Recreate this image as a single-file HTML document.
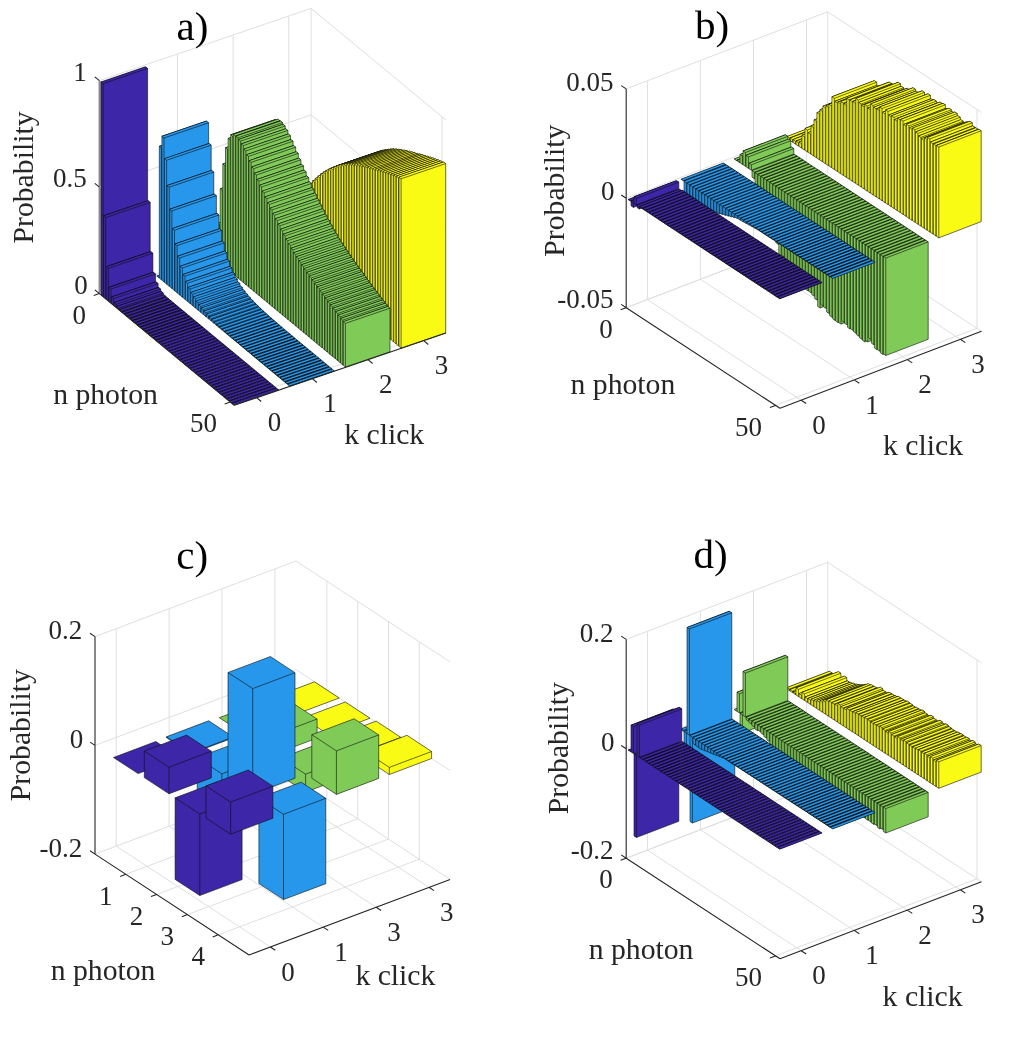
<!DOCTYPE html>
<html><head><meta charset="utf-8"><title>figure</title>
<style>
html,body{margin:0;padding:0;background:#fff}
svg{display:block}
text{font-family:"Liberation Serif",serif;fill:#262626}
.t{font-size:27px}
.l{font-size:29.7px}
.h{font-size:41px;fill:#000}
.g{stroke:#dfdfdf;stroke-width:1;fill:none}
.a{stroke:#262626;stroke-width:1.1;fill:none}
path[class^=c]{stroke:#0d0d0d;stroke-width:.6;stroke-linejoin:round}
.u{fill:#000;stroke:none}
.c0{fill:#3e26a8}.c1{fill:#2797eb}.c2{fill:#80cb58}.c3{fill:#f9fb15}
</style></head><body>
<svg width="1025" height="1038" viewBox="0 0 1025 1038">
<rect width="1025" height="1038" fill="#fff"/>
<path d="M99.7,80.8V293.6" stroke="#8c8c8c" stroke-width="2.3" fill="none"/>
<path class="g" d="M121.7,286L121.7,73M177.4,267L177.4,54M233.1,248L233.1,35M288.8,229L288.8,16M99.4,293.6L311.1,221.4M99.4,187.1L311.1,114.9M99.4,80.6L311.1,8.4M311.1,221.4L311.1,8.4M442,329.8L442,116.8M311.1,221.4L446,333.1M311.1,114.9L446,226.6M311.1,8.4L446,120.1M121.7,286L256.6,397.7M177.4,267L312.3,378.7M233.1,248L368,359.7M288.8,229L423.7,340.7M99.4,293.6L311.1,221.4M230.4,402L442,329.8"/>
<path class="u" d="M268.1,237.9L270.4,239.9 315,224.7 312.6,222.7Z"/>
<path class="c3" d="M268.1,237.9L270.2,239.6 314.7,224.4 312.6,222.7Z"/>
<path class="u" d="M212.4,256.9L214.7,258.9 259.3,243.7 256.9,241.7Z"/>
<path class="c2" d="M212.4,256.9L214.5,258.6 259,243.4 256.9,241.7Z"/>
<path class="u" d="M156.7,275.9L159,277.9 203.6,262.7 201.2,260.7Z"/>
<path class="c1" d="M156.7,275.9L158.8,277.6 203.3,262.4 201.2,260.7Z"/>
<path class="u" d="M101,81.9L103.3,83.9 147.9,68.7 145.5,66.7Z"/>
<path class="c0" d="M101,81.9L103.1,83.6 147.6,68.4 145.5,66.7ZM101,81.9L101,294.9 103.1,296.6 147.6,281.4 147.6,68.4M103.1,83.6L103.1,296.6"/>
<path class="u" d="M270.4,239.9L273,242 317.6,226.8 315,224.7Z"/>
<path class="c3" d="M270.7,240.1L272.8,241.8 317.3,226.6 315.3,224.9Z"/>
<path class="u" d="M214.7,258.9L217.3,261 261.9,245.8 259.3,243.7Z"/>
<path class="c2" d="M215,259.1L217.1,260.8 261.6,245.6 259.6,243.9Z"/>
<path class="u" d="M159,146.1L161.6,148.3 206.2,133.1 203.6,130.9Z"/>
<path class="c1" d="M159.3,146.3L161.4,148 205.9,132.8 203.9,131.1ZM159.3,146.3L159.3,278.1 161.4,279.8 205.9,264.6 205.9,132.8M161.4,148L161.4,279.8"/>
<path class="u" d="M103.3,215.6L105.9,217.8 150.5,202.6 147.9,200.4Z"/>
<path class="c0" d="M103.6,215.8L105.7,217.6 150.2,202.4 148.2,200.6ZM103.6,215.8L103.6,297.1 105.7,298.8 150.2,283.6 150.2,202.4M105.7,217.6L105.7,298.8"/>
<path class="u" d="M273,242L275.7,244.2 320.2,229 317.6,226.8Z"/>
<path class="c3" d="M273.3,242.2L275.4,244 320,228.8 317.9,227Z"/>
<path class="u" d="M217.3,223L220,225.2 264.5,210 261.9,207.8Z"/>
<path class="c2" d="M217.6,223.2L219.7,225 264.3,209.8 262.2,208ZM217.6,223.2L217.6,261.2 219.7,263 264.3,247.8 264.3,209.8M219.7,225L219.7,263"/>
<path class="u" d="M161.6,136L164.3,138.2 208.8,123 206.2,120.8Z"/>
<path class="c1" d="M161.9,136.2L164,138 208.6,122.8 206.5,121ZM161.9,136.2L161.9,280.2 164,282 208.6,266.8 208.6,122.8M164,138L164,282"/>
<path class="u" d="M105.9,266.4L108.6,268.6 153.1,253.4 150.5,251.2Z"/>
<path class="c0" d="M106.2,266.7L108.3,268.4 152.9,253.2 150.8,251.5ZM106.2,266.7L106.2,299.2 108.3,301 152.9,285.8 152.9,253.2M108.3,268.4L108.3,301"/>
<path class="u" d="M275.7,241.4L278.3,243.6 322.8,228.4 320.2,226.2Z"/>
<path class="c3" d="M275.9,241.6L278,243.3 322.6,228.1 320.5,226.4ZM275.9,241.6L275.9,244.4 278,246.1 322.6,230.9 322.6,228.1M278,243.3L278,246.1"/>
<path class="u" d="M220,188.6L222.6,190.8 267.1,175.6 264.5,173.4Z"/>
<path class="c2" d="M220.2,188.8L222.3,190.6 266.9,175.4 264.8,173.6ZM220.2,188.8L220.2,263.4 222.3,265.1 266.9,249.9 266.9,175.4M222.3,190.6L222.3,265.1"/>
<path class="u" d="M164.3,158.4L166.9,160.5 211.4,145.3 208.8,143.2Z"/>
<path class="c1" d="M164.5,158.6L166.6,160.3 211.2,145.1 209.1,143.4ZM164.5,158.6L164.5,282.4 166.6,284.1 211.2,268.9 211.2,145.1M166.6,160.3L166.6,284.1"/>
<path class="u" d="M108.6,287.1L111.2,289.3 155.7,274.1 153.1,271.9Z"/>
<path class="c0" d="M108.8,287.4L110.9,289.1 155.5,273.9 153.4,272.2ZM108.8,287.4L108.8,301.4 110.9,303.1 155.5,287.9 155.5,273.9M110.9,289.1L110.9,303.1"/>
<path class="u" d="M278.3,238.6L280.9,240.8 325.5,225.6 322.8,223.4Z"/>
<path class="c3" d="M278.5,238.8L280.6,240.6 325.2,225.4 323.1,223.6ZM278.5,238.8L278.5,246.6 280.6,248.3 325.2,233.1 325.2,225.4M280.6,240.6L280.6,248.3"/>
<path class="u" d="M222.6,163.7L225.2,165.9 269.8,150.7 267.1,148.5Z"/>
<path class="c2" d="M222.8,163.9L224.9,165.7 269.5,150.5 267.4,148.7ZM222.8,163.9L222.8,265.6 224.9,267.3 269.5,252.1 269.5,150.5M224.9,165.7L224.9,267.3"/>
<path class="u" d="M166.9,185.3L169.5,187.4 214.1,172.2 211.4,170.1Z"/>
<path class="c1" d="M167.1,185.5L169.2,187.2 213.8,172 211.7,170.3ZM167.1,185.5L167.1,284.6 169.2,286.3 213.8,271.1 213.8,172M169.2,187.2L169.2,286.3"/>
<path class="u" d="M111.2,296.8L113.8,298.9 158.4,283.7 155.7,281.6Z"/>
<path class="c0" d="M111.4,297L113.5,298.7 158.1,283.5 156,281.8ZM111.4,297L111.4,303.6 113.5,305.3 158.1,290.1 158.1,283.5M113.5,298.7L113.5,305.3"/>
<path class="u" d="M280.9,234.7L283.5,236.9 328.1,221.7 325.5,219.5Z"/>
<path class="c3" d="M281.2,234.9L283.3,236.6 327.8,221.4 325.7,219.7ZM281.2,234.9L281.2,248.7 283.3,250.5 327.8,235.3 327.8,221.4M283.3,236.6L283.3,250.5"/>
<path class="u" d="M225.2,147.6L227.8,149.8 272.4,134.6 269.8,132.4Z"/>
<path class="c2" d="M225.5,147.8L227.6,149.6 272.1,134.4 270,132.6ZM225.5,147.8L225.5,267.7 227.6,269.5 272.1,254.3 272.1,134.4M227.6,149.6L227.6,269.5"/>
<path class="u" d="M169.5,209L172.1,211.2 216.7,196 214.1,193.8Z"/>
<path class="c1" d="M169.8,209.2L171.9,210.9 216.4,195.7 214.3,194ZM169.8,209.2L169.8,286.7 171.9,288.5 216.4,273.3 216.4,195.7M171.9,210.9L171.9,288.5"/>
<path class="u" d="M113.8,302.3L116.4,304.5 161,289.3 158.4,287.1Z"/>
<path class="c0" d="M114.1,302.6L116.2,304.3 160.7,289.1 158.6,287.4ZM114.1,302.6L114.1,305.7 116.2,307.5 160.7,292.3 160.7,289.1M116.2,304.3L116.2,307.5"/>
<path class="u" d="M283.5,230.3L286.1,232.4 330.7,217.2 328.1,215.1Z"/>
<path class="c3" d="M283.8,230.5L285.9,232.2 330.4,217 328.3,215.3ZM283.8,230.5L283.8,250.9 285.9,252.7 330.4,237.5 330.4,217M285.9,232.2L285.9,252.7"/>
<path class="u" d="M227.8,138.2L230.4,140.4 275,125.2 272.4,123Z"/>
<path class="c2" d="M228.1,138.4L230.2,140.2 274.7,125 272.6,123.2ZM228.1,138.4L228.1,269.9 230.2,271.7 274.7,256.5 274.7,125M230.2,140.2L230.2,271.7"/>
<path class="u" d="M172.1,228.3L174.7,230.4 219.3,215.2 216.7,213.1Z"/>
<path class="c1" d="M172.4,228.5L174.5,230.2 219,215 216.9,213.3ZM172.4,228.5L172.4,288.9 174.5,290.7 219,275.5 219,215M174.5,230.2L174.5,290.7"/>
<path class="u" d="M116.4,306.2L119,308.4 163.6,293.2 161,291Z"/>
<path class="c0" d="M116.7,306.4L118.8,308.2 163.3,293 161.2,291.2ZM116.7,306.4L116.7,307.9 118.8,309.7 163.3,294.5 163.3,293M118.8,308.2L118.8,309.7"/>
<path class="u" d="M286.1,224.7L288.8,226.8 333.3,211.6 330.7,209.5Z"/>
<path class="c3" d="M286.4,224.9L288.5,226.6 333.1,211.4 331,209.7ZM286.4,224.9L286.4,253.1 288.5,254.8 333.1,239.6 333.1,211.4M288.5,226.6L288.5,254.8"/>
<path class="u" d="M230.4,134.5L233.1,136.7 277.6,121.5 275,119.3Z"/>
<path class="c2" d="M230.7,134.7L232.8,136.5 277.4,121.3 275.3,119.5ZM230.7,134.7L230.7,272.1 232.8,273.8 277.4,258.6 277.4,121.3M232.8,136.5L232.8,273.8"/>
<path class="u" d="M174.7,243.7L177.4,245.8 221.9,230.6 219.3,228.5Z"/>
<path class="c1" d="M175,243.9L177.1,245.6 221.7,230.4 219.6,228.7ZM175,243.9L175,291.1 177.1,292.8 221.7,277.6 221.7,230.4M177.1,245.6L177.1,292.8"/>
<path class="u" d="M119,309.6L121.7,311.8 166.2,296.6 163.6,294.4Z"/>
<path class="c0" d="M119.3,309.8L121.4,311.6 166,296.4 163.9,294.6ZM119.3,309.8L119.3,310.1 121.4,311.8 166,296.6 166,296.4M121.4,311.6L121.4,311.8"/>
<path class="u" d="M288.8,219.1L291.4,221.3 335.9,206.1 333.3,203.9Z"/>
<path class="c3" d="M289,219.4L291.1,221.1 335.7,205.9 333.6,204.2ZM289,219.4L289,255.3 291.1,257 335.7,241.8 335.7,205.9M291.1,221.1L291.1,257"/>
<path class="u" d="M233.1,134.1L235.7,136.2 280.2,121 277.6,118.9Z"/>
<path class="c2" d="M233.3,134.3L235.4,136 280,120.8 277.9,119.1ZM233.3,134.3L233.3,274.3 235.4,276 280,260.8 280,120.8M235.4,136L235.4,276"/>
<path class="u" d="M177.4,256L180,258.2 224.5,243 221.9,240.8Z"/>
<path class="c1" d="M177.6,256.2L179.7,258 224.3,242.8 222.2,241ZM177.6,256.2L177.6,293.3 179.7,295 224.3,279.8 224.3,242.8M179.7,258L179.7,295"/>
<path class="u" d="M121.7,311.9L124.3,314.1 168.8,298.9 166.2,296.7Z"/>
<path class="c0" d="M121.9,312.2L124,313.9 168.6,298.7 166.5,297ZM121.9,312.2L121.9,312.3 124,314 168.6,298.8 168.6,298.7M124,313.9L124,314"/>
<path class="u" d="M291.4,213.8L294,216 338.6,200.8 335.9,198.6Z"/>
<path class="c3" d="M291.6,214L293.7,215.7 338.3,200.5 336.2,198.8ZM291.6,214L291.6,257.4 293.7,259.2 338.3,244 338.3,200.5M293.7,215.7L293.7,259.2"/>
<path class="u" d="M235.7,135.8L238.3,138 282.9,122.8 280.2,120.6Z"/>
<path class="c2" d="M235.9,136.1L238,137.8 282.6,122.6 280.5,120.9ZM235.9,136.1L235.9,276.4 238,278.2 282.6,263 282.6,122.6M238,137.8L238,278.2"/>
<path class="u" d="M180,266L182.6,268.2 227.2,253 224.5,250.8Z"/>
<path class="c1" d="M180.2,266.2L182.3,268 226.9,252.8 224.8,251ZM180.2,266.2L180.2,295.4 182.3,297.2 226.9,282 226.9,252.8M182.3,268L182.3,297.2"/>
<path class="u" d="M124.3,314.2L126.9,316.3 171.5,301.1 168.8,299Z"/>
<path class="c0" d="M124.5,314.4L126.6,316.1 171.2,300.9 169.1,299.2ZM124.5,314.4L124.5,314.4 126.6,316.2 171.2,301 171.2,300.9M126.6,316.1L126.6,316.2"/>
<path class="u" d="M294,208.6L296.6,210.8 341.2,195.6 338.6,193.4Z"/>
<path class="c3" d="M294.3,208.9L296.4,210.6 340.9,195.4 338.8,193.7ZM294.3,208.9L294.3,259.6 296.4,261.3 340.9,246.1 340.9,195.4M296.4,210.6L296.4,261.3"/>
<path class="u" d="M238.3,139.2L240.9,141.4 285.5,126.2 282.9,124Z"/>
<path class="c2" d="M238.6,139.4L240.7,141.1 285.2,125.9 283.1,124.2ZM238.6,139.4L238.6,278.6 240.7,280.3 285.2,265.1 285.2,125.9M240.7,141.1L240.7,280.3"/>
<path class="u" d="M182.6,274.3L185.2,276.5 229.8,261.3 227.2,259.1Z"/>
<path class="c1" d="M182.9,274.5L185,276.2 229.5,261 227.4,259.3ZM182.9,274.5L182.9,297.6 185,299.3 229.5,284.1 229.5,261M185,276.2L185,299.3"/>
<path class="u" d="M126.9,316.4L129.5,318.5 174.1,303.3 171.5,301.2Z"/>
<path class="c0" d="M127.2,316.6L129.3,318.3 173.8,303.1 171.7,301.4ZM127.2,316.6L127.2,316.6 129.3,318.3 173.8,303.1 173.8,303.1M129.3,318.3L129.3,318.3"/>
<path class="u" d="M296.6,203.7L299.2,205.9 343.8,190.7 341.2,188.5Z"/>
<path class="c3" d="M296.9,204L299,205.7 343.5,190.5 341.4,188.8ZM296.9,204L296.9,261.8 299,263.5 343.5,248.3 343.5,190.5M299,205.7L299,263.5"/>
<path class="u" d="M240.9,143.7L243.5,145.8 288.1,130.6 285.5,128.5Z"/>
<path class="c2" d="M241.2,143.9L243.3,145.6 287.8,130.4 285.7,128.7ZM241.2,143.9L241.2,280.8 243.3,282.5 287.8,267.3 287.8,130.4M243.3,145.6L243.3,282.5"/>
<path class="u" d="M185.2,281.2L187.8,283.4 232.4,268.2 229.8,266Z"/>
<path class="c1" d="M185.5,281.5L187.6,283.2 232.1,268 230,266.3ZM185.5,281.5L185.5,299.8 187.6,301.5 232.1,286.3 232.1,268M187.6,283.2L187.6,301.5"/>
<path class="u" d="M129.5,318.5L132.1,320.7 176.7,305.5 174.1,303.3Z"/>
<path class="c0" d="M129.8,318.8L131.9,320.5 176.4,305.3 174.3,303.6ZM129.8,318.8L129.8,318.8 131.9,320.5 176.4,305.3 176.4,305.3M131.9,320.5L131.9,320.5"/>
<path class="u" d="M299.2,199.1L301.9,201.2 346.4,186 343.8,183.9Z"/>
<path class="c3" d="M299.5,199.3L301.6,201 346.2,185.8 344.1,184.1ZM299.5,199.3L299.5,263.9 301.6,265.7 346.2,250.5 346.2,185.8M301.6,201L301.6,265.7"/>
<path class="u" d="M243.5,148.9L246.2,151.1 290.7,135.9 288.1,133.7Z"/>
<path class="c2" d="M243.8,149.1L245.9,150.9 290.5,135.7 288.4,133.9ZM243.8,149.1L243.8,282.9 245.9,284.7 290.5,269.5 290.5,135.7M245.9,150.9L245.9,284.7"/>
<path class="u" d="M187.8,287.2L190.5,289.3 235,274.1 232.4,272Z"/>
<path class="c1" d="M188.1,287.4L190.2,289.1 234.8,273.9 232.7,272.2ZM188.1,287.4L188.1,301.9 190.2,303.7 234.8,288.5 234.8,273.9M190.2,289.1L190.2,303.7"/>
<path class="u" d="M132.1,320.7L134.8,322.9 179.3,307.7 176.7,305.5Z"/>
<path class="c0" d="M132.4,320.9L134.5,322.7 179.1,307.5 177,305.7ZM132.4,320.9L132.4,320.9 134.5,322.7 179.1,307.5 179.1,307.5M134.5,322.7L134.5,322.7"/>
<path class="u" d="M301.9,194.9L304.5,197 349,181.8 346.4,179.7Z"/>
<path class="c3" d="M302.1,195.1L304.2,196.8 348.8,181.6 346.7,179.9ZM302.1,195.1L302.1,266.1 304.2,267.8 348.8,252.6 348.8,181.6M304.2,196.8L304.2,267.8"/>
<path class="u" d="M246.2,154.5L248.8,156.7 293.3,141.5 290.7,139.3Z"/>
<path class="c2" d="M246.4,154.7L248.5,156.4 293.1,141.2 291,139.5ZM246.4,154.7L246.4,285.1 248.5,286.8 293.1,271.6 293.1,141.2M248.5,156.4L248.5,286.8"/>
<path class="u" d="M190.5,292.3L193.1,294.5 237.6,279.3 235,277.1Z"/>
<path class="c1" d="M190.7,292.5L192.8,294.3 237.4,279.1 235.3,277.3ZM190.7,292.5L190.7,304.1 192.8,305.8 237.4,290.6 237.4,279.1M192.8,294.3L192.8,305.8"/>
<path class="u" d="M134.8,322.9L137.4,325 181.9,309.8 179.3,307.7Z"/>
<path class="c0" d="M135,323.1L137.1,324.8 181.7,309.6 179.6,307.9ZM135,323.1L135,323.1 137.1,324.8 181.7,309.6 181.7,309.6M137.1,324.8L137.1,324.8"/>
<path class="u" d="M304.5,190.9L307.1,193 351.7,177.8 349,175.7Z"/>
<path class="c3" d="M304.7,191.1L306.8,192.8 351.4,177.6 349.3,175.9ZM304.7,191.1L304.7,268.3 306.8,270 351.4,254.8 351.4,177.6M306.8,192.8L306.8,270"/>
<path class="u" d="M248.8,160.4L251.4,162.6 296,147.4 293.3,145.2Z"/>
<path class="c2" d="M249,160.7L251.1,162.4 295.7,147.2 293.6,145.5ZM249,160.7L249,287.3 251.1,289 295.7,273.8 295.7,147.2M251.1,162.4L251.1,289"/>
<path class="u" d="M193.1,296.8L195.7,299 240.3,283.8 237.6,281.6Z"/>
<path class="c1" d="M193.3,297L195.4,298.8 240,283.6 237.9,281.8ZM193.3,297L193.3,306.3 195.4,308 240,292.8 240,283.6M195.4,298.8L195.4,308"/>
<path class="u" d="M137.4,325L140,327.2 184.6,312 181.9,309.8Z"/>
<path class="c0" d="M137.6,325.3L139.7,327 184.3,311.8 182.2,310.1ZM137.6,325.3L137.6,325.3 139.7,327 184.3,311.8 184.3,311.8M139.7,327L139.7,327"/>
<path class="u" d="M307.1,187.1L309.7,189.3 354.3,174.1 351.7,171.9Z"/>
<path class="c3" d="M307.4,187.3L309.5,189.1 354,173.9 351.9,172.1ZM307.4,187.3L307.4,270.4 309.5,272.2 354,257 354,173.9M309.5,189.1L309.5,272.2"/>
<path class="u" d="M251.4,166.7L254,168.8 298.6,153.6 296,151.5Z"/>
<path class="c2" d="M251.7,166.9L253.8,168.6 298.3,153.4 296.2,151.7ZM251.7,166.9L251.7,289.4 253.8,291.2 298.3,276 298.3,153.4M253.8,168.6L253.8,291.2"/>
<path class="u" d="M195.7,300.9L198.3,303 242.9,287.8 240.3,285.7Z"/>
<path class="c1" d="M196,301.1L198.1,302.8 242.6,287.6 240.5,285.9ZM196,301.1L196,308.4 198.1,310.2 242.6,295 242.6,287.6M198.1,302.8L198.1,310.2"/>
<path class="u" d="M140,327.2L142.6,329.4 187.2,314.2 184.6,312Z"/>
<path class="c0" d="M140.3,327.4L142.4,329.2 186.9,314 184.8,312.2ZM140.3,327.4L140.3,327.4 142.4,329.2 186.9,314 186.9,314M142.4,329.2L142.4,329.2"/>
<path class="u" d="M309.7,183.6L312.3,185.8 356.9,170.6 354.3,168.4Z"/>
<path class="c3" d="M310,183.8L312.1,185.6 356.6,170.4 354.5,168.6ZM310,183.8L310,272.6 312.1,274.3 356.6,259.1 356.6,170.4M312.1,185.6L312.1,274.3"/>
<path class="u" d="M254,173L256.6,175.2 301.2,160 298.6,157.8Z"/>
<path class="c2" d="M254.3,173.3L256.4,175 300.9,159.8 298.8,158.1ZM254.3,173.3L254.3,291.6 256.4,293.3 300.9,278.1 300.9,159.8M256.4,175L256.4,293.3"/>
<path class="u" d="M198.3,304.5L200.9,306.7 245.5,291.5 242.9,289.3Z"/>
<path class="c1" d="M198.6,304.7L200.7,306.5 245.2,291.3 243.1,289.5ZM198.6,304.7L198.6,310.6 200.7,312.3 245.2,297.1 245.2,291.3M200.7,306.5L200.7,312.3"/>
<path class="u" d="M142.6,329.4L145.2,331.6 189.8,316.4 187.2,314.2Z"/>
<path class="c0" d="M142.9,329.6L145,331.3 189.5,316.1 187.4,314.4ZM142.9,329.6L142.9,329.6 145,331.3 189.5,316.1 189.5,316.1M145,331.3L145,331.3"/>
<path class="u" d="M312.3,180.6L315,182.8 359.5,167.6 356.9,165.4Z"/>
<path class="c3" d="M312.6,180.8L314.7,182.6 359.3,167.4 357.2,165.6ZM312.6,180.8L312.6,274.8 314.7,276.5 359.3,261.3 359.3,167.4M314.7,182.6L314.7,276.5"/>
<path class="u" d="M256.6,179.2L259.3,181.4 303.8,166.2 301.2,164Z"/>
<path class="c2" d="M256.9,179.4L259,181.1 303.6,165.9 301.5,164.2ZM256.9,179.4L256.9,293.8 259,295.5 303.6,280.3 303.6,165.9M259,181.1L259,295.5"/>
<path class="u" d="M200.9,307.9L203.6,310 248.1,294.8 245.5,292.7Z"/>
<path class="c1" d="M201.2,308.1L203.3,309.8 247.9,294.6 245.8,292.9ZM201.2,308.1L201.2,312.8 203.3,314.5 247.9,299.3 247.9,294.6M203.3,309.8L203.3,314.5"/>
<path class="u" d="M145.2,331.6L147.9,333.7 192.4,318.5 189.8,316.4Z"/>
<path class="c0" d="M145.5,331.8L147.6,333.5 192.2,318.3 190.1,316.6ZM145.5,331.8L145.5,331.8 147.6,333.5 192.2,318.3 192.2,318.3M147.6,333.5L147.6,333.5"/>
<path class="u" d="M315,178.2L317.6,180.3 362.1,165.1 359.5,163Z"/>
<path class="c3" d="M315.2,178.4L317.3,180.1 361.9,164.9 359.8,163.2ZM315.2,178.4L315.2,276.9 317.3,278.7 361.9,263.5 361.9,164.9M317.3,180.1L317.3,278.7"/>
<path class="u" d="M259.3,185L261.9,187.2 306.4,172 303.8,169.8Z"/>
<path class="c2" d="M259.5,185.2L261.6,187 306.2,171.8 304.1,170ZM259.5,185.2L259.5,295.9 261.6,297.7 306.2,282.5 306.2,171.8M261.6,187L261.6,297.7"/>
<path class="u" d="M203.6,311L206.2,313.2 250.7,298 248.1,295.8Z"/>
<path class="c1" d="M203.8,311.2L205.9,312.9 250.5,297.7 248.4,296ZM203.8,311.2L203.8,314.9 205.9,316.7 250.5,301.5 250.5,297.7M205.9,312.9L205.9,316.7"/>
<path class="u" d="M147.9,333.7L150.5,335.9 195,320.7 192.4,318.5Z"/>
<path class="c0" d="M148.1,333.9L150.2,335.7 194.8,320.5 192.7,318.7ZM148.1,333.9L148.1,333.9 150.2,335.7 194.8,320.5 194.8,320.5M150.2,335.7L150.2,335.7"/>
<path class="u" d="M317.6,175.9L320.2,178.1 364.8,162.9 362.1,160.7Z"/>
<path class="c3" d="M317.8,176.1L319.9,177.8 364.5,162.6 362.4,160.9ZM317.8,176.1L317.8,279.1 319.9,280.8 364.5,265.6 364.5,162.6M319.9,177.8L319.9,280.8"/>
<path class="u" d="M261.9,190.9L264.5,193 309.1,177.8 306.4,175.7Z"/>
<path class="c2" d="M262.1,191.1L264.2,192.8 308.8,177.6 306.7,175.9ZM262.1,191.1L262.1,298.1 264.2,299.8 308.8,284.6 308.8,177.6M264.2,192.8L264.2,299.8"/>
<path class="u" d="M206.2,313.9L208.8,316.1 253.4,300.9 250.7,298.7Z"/>
<path class="c1" d="M206.4,314.1L208.5,315.9 253.1,300.7 251,298.9ZM206.4,314.1L206.4,317.1 208.5,318.8 253.1,303.6 253.1,300.7M208.5,315.9L208.5,318.8"/>
<path class="u" d="M150.5,335.9L153.1,338.1 197.7,322.9 195,320.7Z"/>
<path class="c0" d="M150.7,336.1L152.8,337.8 197.4,322.6 195.3,320.9ZM150.7,336.1L150.7,336.1 152.8,337.8 197.4,322.6 197.4,322.6M152.8,337.8L152.8,337.8"/>
<path class="u" d="M320.2,173.8L322.8,176 367.4,160.8 364.8,158.6Z"/>
<path class="c3" d="M320.5,174L322.6,175.8 367.1,160.6 365,158.8ZM320.5,174L320.5,281.3 322.6,283 367.1,267.8 367.1,160.6M322.6,175.8L322.6,283"/>
<path class="u" d="M264.5,196.7L267.1,198.9 311.7,183.7 309.1,181.5Z"/>
<path class="c2" d="M264.8,196.9L266.9,198.7 311.4,183.5 309.3,181.7ZM264.8,196.9L264.8,300.3 266.9,302 311.4,286.8 311.4,183.5M266.9,198.7L266.9,302"/>
<path class="u" d="M208.8,316.7L211.4,318.8 256,303.6 253.4,301.5Z"/>
<path class="c1" d="M209.1,316.9L211.2,318.6 255.7,303.4 253.6,301.7ZM209.1,316.9L209.1,319.3 211.2,321 255.7,305.8 255.7,303.4M211.2,318.6L211.2,321"/>
<path class="u" d="M153.1,338.1L155.7,340.2 200.3,325 197.7,322.9Z"/>
<path class="c0" d="M153.4,338.3L155.5,340 200,324.8 197.9,323.1ZM153.4,338.3L153.4,338.3 155.5,340 200,324.8 200,324.8M155.5,340L155.5,340"/>
<path class="u" d="M322.8,171.9L325.4,174.1 370,158.9 367.4,156.7Z"/>
<path class="c3" d="M323.1,172.1L325.2,173.8 369.7,158.6 367.6,156.9ZM323.1,172.1L323.1,283.4 325.2,285.2 369.7,270 369.7,158.6M325.2,173.8L325.2,285.2"/>
<path class="u" d="M267.1,202.5L269.7,204.6 314.3,189.4 311.7,187.3Z"/>
<path class="c2" d="M267.4,202.7L269.5,204.4 314,189.2 311.9,187.5ZM267.4,202.7L267.4,302.4 269.5,304.2 314,289 314,189.2M269.5,204.4L269.5,304.2"/>
<path class="u" d="M211.4,319.3L214,321.5 258.6,306.3 256,304.1Z"/>
<path class="c1" d="M211.7,319.5L213.8,321.3 258.3,306.1 256.2,304.3ZM211.7,319.5L211.7,321.4 213.8,323.2 258.3,308 258.3,306.1M213.8,321.3L213.8,323.2"/>
<path class="u" d="M155.7,340.2L158.3,342.4 202.9,327.2 200.3,325Z"/>
<path class="c0" d="M156,340.4L158.1,342.2 202.6,327 200.5,325.2ZM156,340.4L156,340.4 158.1,342.2 202.6,327 202.6,327M158.1,342.2L158.1,342.2"/>
<path class="u" d="M325.4,170.4L328.1,172.6 372.6,157.4 370,155.2Z"/>
<path class="c3" d="M325.7,170.6L327.8,172.3 372.4,157.1 370.3,155.4ZM325.7,170.6L325.7,285.6 327.8,287.4 372.4,272.2 372.4,157.1M327.8,172.3L327.8,287.4"/>
<path class="u" d="M269.7,207.9L272.4,210.1 316.9,194.9 314.3,192.7Z"/>
<path class="c2" d="M270,208.1L272.1,209.9 316.7,194.7 314.6,192.9ZM270,208.1L270,304.6 272.1,306.4 316.7,291.2 316.7,194.7M272.1,209.9L272.1,306.4"/>
<path class="u" d="M214,321.9L216.7,324 261.2,308.8 258.6,306.7Z"/>
<path class="c1" d="M214.3,322.1L216.4,323.8 261,308.6 258.9,306.9ZM214.3,322.1L214.3,323.6 216.4,325.4 261,310.2 261,308.6M216.4,323.8L216.4,325.4"/>
<path class="u" d="M158.3,342.4L161,344.6 205.5,329.4 202.9,327.2Z"/>
<path class="c0" d="M158.6,342.6L160.7,344.4 205.3,329.2 203.2,327.4Z"/>
<path class="u" d="M328.1,169L330.7,171.2 375.2,156 372.6,153.8Z"/>
<path class="c3" d="M328.3,169.3L330.4,171 375,155.8 372.9,154.1ZM328.3,169.3L328.3,287.8 330.4,289.5 375,274.3 375,155.8M330.4,171L330.4,289.5"/>
<path class="u" d="M272.4,213.3L275,215.5 319.5,200.3 316.9,198.1Z"/>
<path class="c2" d="M272.6,213.5L274.7,215.3 319.3,200.1 317.2,198.3ZM272.6,213.5L272.6,306.8 274.7,308.5 319.3,293.3 319.3,200.1M274.7,215.3L274.7,308.5"/>
<path class="u" d="M216.7,324.4L219.3,326.5 263.8,311.3 261.2,309.2Z"/>
<path class="c1" d="M216.9,324.6L219,326.3 263.6,311.1 261.5,309.4ZM216.9,324.6L216.9,325.8 219,327.5 263.6,312.3 263.6,311.1M219,326.3L219,327.5"/>
<path class="u" d="M161,344.6L163.6,346.7 208.1,331.5 205.5,329.4Z"/>
<path class="c0" d="M161.2,344.8L163.3,346.5 207.9,331.3 205.8,329.6Z"/>
<path class="u" d="M330.7,167.8L333.3,170 377.9,154.8 375.2,152.6Z"/>
<path class="c3" d="M330.9,168.1L333,169.8 377.6,154.6 375.5,152.9ZM330.9,168.1L330.9,290 333,291.7 377.6,276.5 377.6,154.6M333,169.8L333,291.7"/>
<path class="u" d="M275,218.6L277.6,220.8 322.2,205.6 319.5,203.4Z"/>
<path class="c2" d="M275.2,218.8L277.3,220.6 321.9,205.4 319.8,203.6ZM275.2,218.8L275.2,309 277.3,310.7 321.9,295.5 321.9,205.4M277.3,220.6L277.3,310.7"/>
<path class="u" d="M219.3,326.8L221.9,328.9 266.5,313.7 263.8,311.6Z"/>
<path class="c1" d="M219.5,327L221.6,328.7 266.2,313.5 264.1,311.8ZM219.5,327L219.5,328 221.6,329.7 266.2,314.5 266.2,313.5M221.6,328.7L221.6,329.7"/>
<path class="u" d="M163.6,346.7L166.2,348.9 210.8,333.7 208.1,331.5Z"/>
<path class="c0" d="M163.8,347L165.9,348.7 210.5,333.5 208.4,331.8Z"/>
<path class="u" d="M333.3,166.8L335.9,168.9 380.5,153.7 377.9,151.6Z"/>
<path class="c3" d="M333.6,167L335.7,168.7 380.2,153.5 378.1,151.8ZM333.6,167L333.6,292.1 335.7,293.9 380.2,278.7 380.2,153.5M335.7,168.7L335.7,293.9"/>
<path class="u" d="M277.6,223.8L280.2,226 324.8,210.8 322.2,208.6Z"/>
<path class="c2" d="M277.9,224L280,225.8 324.5,210.6 322.4,208.8ZM277.9,224L277.9,311.1 280,312.9 324.5,297.7 324.5,210.6M280,225.8L280,312.9"/>
<path class="u" d="M221.9,329.1L224.5,331.3 269.1,316.1 266.5,313.9Z"/>
<path class="c1" d="M222.2,329.3L224.3,331.1 268.8,315.9 266.7,314.1ZM222.2,329.3L222.2,330.1 224.3,331.9 268.8,316.7 268.8,315.9M224.3,331.1L224.3,331.9"/>
<path class="u" d="M166.2,348.9L168.8,351.1 213.4,335.9 210.8,333.7Z"/>
<path class="c0" d="M166.5,349.1L168.6,350.9 213.1,335.7 211,333.9Z"/>
<path class="u" d="M335.9,165.8L338.5,168 383.1,152.8 380.5,150.6Z"/>
<path class="c3" d="M336.2,166L338.3,167.8 382.8,152.6 380.7,150.8ZM336.2,166L336.2,294.3 338.3,296 382.8,280.8 382.8,152.6M338.3,167.8L338.3,296"/>
<path class="u" d="M280.2,228.9L282.8,231.1 327.4,215.9 324.8,213.7Z"/>
<path class="c2" d="M280.5,229.2L282.6,230.9 327.1,215.7 325,214ZM280.5,229.2L280.5,313.3 282.6,315 327.1,299.8 327.1,215.7M282.6,230.9L282.6,315"/>
<path class="u" d="M224.5,331.5L227.1,333.6 271.7,318.4 269.1,316.3Z"/>
<path class="c1" d="M224.8,331.7L226.9,333.4 271.4,318.2 269.3,316.5ZM224.8,331.7L224.8,332.3 226.9,334 271.4,318.8 271.4,318.2M226.9,333.4L226.9,334"/>
<path class="u" d="M168.8,351.1L171.4,353.2 216,338 213.4,335.9Z"/>
<path class="c0" d="M169.1,351.3L171.2,353 215.7,337.8 213.6,336.1Z"/>
<path class="u" d="M338.5,165L341.2,167.2 385.7,152 383.1,149.8Z"/>
<path class="c3" d="M338.8,165.2L340.9,167 385.5,151.8 383.4,150ZM338.8,165.2L338.8,296.5 340.9,298.2 385.5,283 385.5,151.8M340.9,167L340.9,298.2"/>
<path class="u" d="M282.8,234L285.5,236.2 330,221 327.4,218.8Z"/>
<path class="c2" d="M283.1,234.2L285.2,235.9 329.8,220.7 327.7,219ZM283.1,234.2L283.1,315.5 285.2,317.2 329.8,302 329.8,220.7M285.2,235.9L285.2,317.2"/>
<path class="u" d="M227.1,333.8L229.8,335.9 274.3,320.7 271.7,318.6Z"/>
<path class="c1" d="M227.4,334L229.5,335.7 274.1,320.5 272,318.8ZM227.4,334L227.4,334.5 229.5,336.2 274.1,321 274.1,320.5M229.5,335.7L229.5,336.2"/>
<path class="u" d="M171.4,353.2L174.1,355.4 218.6,340.2 216,338Z"/>
<path class="c0" d="M171.7,353.5L173.8,355.2 218.4,340 216.3,338.3Z"/>
<path class="u" d="M341.2,164.5L343.8,166.7 388.3,151.5 385.7,149.3Z"/>
<path class="c3" d="M341.4,164.7L343.5,166.4 388.1,151.2 386,149.5ZM341.4,164.7L341.4,298.6 343.5,300.4 388.1,285.2 388.1,151.2M343.5,166.4L343.5,300.4"/>
<path class="u" d="M285.5,238.7L288.1,240.9 332.6,225.7 330,223.5Z"/>
<path class="c2" d="M285.7,239L287.8,240.7 332.4,225.5 330.3,223.8ZM285.7,239L285.7,317.6 287.8,319.4 332.4,304.2 332.4,225.5M287.8,240.7L287.8,319.4"/>
<path class="u" d="M229.8,336L232.4,338.2 276.9,323 274.3,320.8Z"/>
<path class="c1" d="M230,336.2L232.1,338 276.7,322.8 274.6,321ZM230,336.2L230,336.6 232.1,338.4 276.7,323.2 276.7,322.8M232.1,338L232.1,338.4"/>
<path class="u" d="M174.1,355.4L176.7,357.6 221.2,342.4 218.6,340.2Z"/>
<path class="c0" d="M174.3,355.6L176.4,357.4 221,342.2 218.9,340.4Z"/>
<path class="u" d="M343.8,164.1L346.4,166.2 391,151 388.3,148.9Z"/>
<path class="c3" d="M344,164.3L346.1,166 390.7,150.8 388.6,149.1ZM344,164.3L344,300.8 346.1,302.5 390.7,287.3 390.7,150.8M346.1,166L346.1,302.5"/>
<path class="u" d="M288.1,243.4L290.7,245.6 335.3,230.4 332.6,228.2Z"/>
<path class="c2" d="M288.3,243.6L290.4,245.4 335,230.2 332.9,228.4ZM288.3,243.6L288.3,319.8 290.4,321.5 335,306.3 335,230.2M290.4,245.4L290.4,321.5"/>
<path class="u" d="M232.4,338.3L235,340.4 279.6,325.2 276.9,323.1Z"/>
<path class="c1" d="M232.6,338.5L234.7,340.2 279.3,325 277.2,323.3ZM232.6,338.5L232.6,338.8 234.7,340.5 279.3,325.3 279.3,325M234.7,340.2L234.7,340.5"/>
<path class="u" d="M176.7,357.6L179.3,359.8 223.9,344.6 221.2,342.4Z"/>
<path class="c0" d="M176.9,357.8L179,359.5 223.6,344.3 221.5,342.6Z"/>
<path class="u" d="M346.4,163.8L349,165.9 393.6,150.7 391,148.6Z"/>
<path class="c3" d="M346.7,164L348.7,165.7 393.3,150.5 391.2,148.8ZM346.7,164L346.7,303 348.7,304.7 393.3,289.5 393.3,150.5M348.7,165.7L348.7,304.7"/>
<path class="u" d="M290.7,248L293.3,250.2 337.9,235 335.3,232.8Z"/>
<path class="c2" d="M291,248.2L293,249.9 337.6,234.7 335.5,233ZM291,248.2L291,322 293,323.7 337.6,308.5 337.6,234.7M293,249.9L293,323.7"/>
<path class="u" d="M235,340.5L237.6,342.7 282.2,327.5 279.6,325.3Z"/>
<path class="c1" d="M235.3,340.7L237.3,342.5 281.9,327.3 279.8,325.5ZM235.3,340.7L235.3,341 237.3,342.7 281.9,327.5 281.9,327.3M237.3,342.5L237.3,342.7"/>
<path class="u" d="M179.3,359.8L181.9,361.9 226.5,346.7 223.9,344.6Z"/>
<path class="c0" d="M179.6,360L181.6,361.7 226.2,346.5 224.1,344.8Z"/>
<path class="u" d="M349,163.5L351.6,165.7 396.2,150.5 393.6,148.3Z"/>
<path class="c3" d="M349.3,163.8L351.4,165.5 395.9,150.3 393.8,148.6ZM349.3,163.8L349.3,305.1 351.4,306.9 395.9,291.7 395.9,150.3M351.4,165.5L351.4,306.9"/>
<path class="u" d="M293.3,252.5L295.9,254.7 340.5,239.5 337.9,237.3Z"/>
<path class="c2" d="M293.6,252.7L295.7,254.5 340.2,239.3 338.1,237.5ZM293.6,252.7L293.6,324.1 295.7,325.9 340.2,310.7 340.2,239.3M295.7,254.5L295.7,325.9"/>
<path class="u" d="M237.6,342.7L240.2,344.9 284.8,329.7 282.2,327.5Z"/>
<path class="c1" d="M237.9,342.9L240,344.7 284.5,329.5 282.4,327.7ZM237.9,342.9L237.9,343.1 240,344.9 284.5,329.7 284.5,329.5M240,344.7L240,344.9"/>
<path class="u" d="M181.9,361.9L184.5,364.1 229.1,348.9 226.5,346.7Z"/>
<path class="c0" d="M182.2,362.1L184.3,363.9 228.8,348.7 226.7,346.9Z"/>
<path class="u" d="M351.6,163.7L354.3,165.9 398.8,150.7 396.2,148.5Z"/>
<path class="c3" d="M351.9,164L354,165.7 398.5,150.5 396.5,148.8ZM351.9,164L351.9,307.3 354,309 398.5,293.8 398.5,150.5M354,165.7L354,309"/>
<path class="u" d="M295.9,256.6L298.6,258.8 343.1,243.6 340.5,241.4Z"/>
<path class="c2" d="M296.2,256.8L298.3,258.5 342.8,243.3 340.8,241.6ZM296.2,256.8L296.2,326.3 298.3,328 342.8,312.8 342.8,243.3M298.3,258.5L298.3,328"/>
<path class="u" d="M240.2,344.9L242.9,347.1 287.4,331.9 284.8,329.7Z"/>
<path class="c1" d="M240.5,345.1L242.6,346.9 287.1,331.7 285.1,329.9ZM240.5,345.1L240.5,345.3 242.6,347 287.1,331.8 287.1,331.7M242.6,346.9L242.6,347"/>
<path class="u" d="M184.5,364.1L187.2,366.3 231.7,351.1 229.1,348.9Z"/>
<path class="c0" d="M184.8,364.3L186.9,366 231.4,350.8 229.4,349.1Z"/>
<path class="u" d="M354.3,164L356.9,166.2 401.4,151 398.8,148.8Z"/>
<path class="c3" d="M354.5,164.3L356.6,166 401.2,150.8 399.1,149.1ZM354.5,164.3L354.5,309.5 356.6,311.2 401.2,296 401.2,150.8M356.6,166L356.6,311.2"/>
<path class="u" d="M298.6,260.6L301.2,262.8 345.7,247.6 343.1,245.4Z"/>
<path class="c2" d="M298.8,260.8L300.9,262.6 345.5,247.4 343.4,245.6ZM298.8,260.8L298.8,328.5 300.9,330.2 345.5,315 345.5,247.4M300.9,262.6L300.9,330.2"/>
<path class="u" d="M242.9,347.1L245.5,349.3 290,334.1 287.4,331.9Z"/>
<path class="c1" d="M243.1,347.3L245.2,349.1 289.8,333.9 287.7,332.1ZM243.1,347.3L243.1,347.5 245.2,349.2 289.8,334 289.8,333.9M245.2,349.1L245.2,349.2"/>
<path class="u" d="M187.2,366.3L189.8,368.4 234.3,353.2 231.7,351.1Z"/>
<path class="c0" d="M187.4,366.5L189.5,368.2 234.1,353 232,351.3Z"/>
<path class="u" d="M356.9,164.4L359.5,166.6 404,151.4 401.4,149.2Z"/>
<path class="c3" d="M357.1,164.6L359.2,166.4 403.8,151.2 401.7,149.4ZM357.1,164.6L357.1,311.6 359.2,313.4 403.8,298.2 403.8,151.2M359.2,166.4L359.2,313.4"/>
<path class="u" d="M301.2,264.5L303.8,266.7 348.3,251.5 345.7,249.3Z"/>
<path class="c2" d="M301.4,264.8L303.5,266.5 348.1,251.3 346,249.6ZM301.4,264.8L301.4,330.6 303.5,332.4 348.1,317.2 348.1,251.3M303.5,266.5L303.5,332.4"/>
<path class="u" d="M245.5,349.3L248.1,351.5 292.6,336.3 290,334.1Z"/>
<path class="c1" d="M245.7,349.5L247.8,351.3 292.4,336.1 290.3,334.3ZM245.7,349.5L245.7,349.6 247.8,351.4 292.4,336.2 292.4,336.1M247.8,351.3L247.8,351.4"/>
<path class="u" d="M189.8,368.4L192.4,370.6 236.9,355.4 234.3,353.2Z"/>
<path class="c0" d="M190,368.6L192.1,370.4 236.7,355.2 234.6,353.4Z"/>
<path class="u" d="M359.5,164.9L362.1,167 406.7,151.8 404,149.7Z"/>
<path class="c3" d="M359.8,165.1L361.8,166.8 406.4,151.6 404.3,149.9ZM359.8,165.1L359.8,313.8 361.8,315.5 406.4,300.3 406.4,151.6M361.8,166.8L361.8,315.5"/>
<path class="u" d="M303.8,268.4L306.4,270.6 351,255.4 348.3,253.2Z"/>
<path class="c2" d="M304.1,268.6L306.1,270.4 350.7,255.2 348.6,253.4ZM304.1,268.6L304.1,332.8 306.1,334.5 350.7,319.3 350.7,255.2M306.1,270.4L306.1,334.5"/>
<path class="u" d="M248.1,351.5L250.7,353.7 295.3,338.5 292.6,336.3Z"/>
<path class="c1" d="M248.4,351.7L250.4,353.5 295,338.3 292.9,336.5ZM248.4,351.7L248.4,351.8 250.4,353.5 295,338.3 295,338.3M250.4,353.5L250.4,353.5"/>
<path class="u" d="M192.4,370.6L195,372.8 239.6,357.6 236.9,355.4Z"/>
<path class="c0" d="M192.7,370.8L194.7,372.5 239.3,357.3 237.2,355.6Z"/>
<path class="u" d="M362.1,165.4L364.7,167.6 409.3,152.4 406.7,150.2Z"/>
<path class="c3" d="M362.4,165.6L364.5,167.3 409,152.1 406.9,150.4ZM362.4,165.6L362.4,316 364.5,317.7 409,302.5 409,152.1M364.5,167.3L364.5,317.7"/>
<path class="u" d="M306.4,272.2L309,274.4 353.6,259.2 351,257Z"/>
<path class="c2" d="M306.7,272.4L308.8,274.2 353.3,259 351.2,257.2ZM306.7,272.4L306.7,335 308.8,336.7 353.3,321.5 353.3,259M308.8,274.2L308.8,336.7"/>
<path class="u" d="M250.7,353.7L253.3,355.9 297.9,340.7 295.3,338.5Z"/>
<path class="c1" d="M251,353.9L253.1,355.7 297.6,340.5 295.5,338.7ZM251,353.9L251,354 253.1,355.7 297.6,340.5 297.6,340.5M253.1,355.7L253.1,355.7"/>
<path class="u" d="M195,372.8L197.6,374.9 242.2,359.7 239.6,357.6Z"/>
<path class="c0" d="M195.3,373L197.4,374.7 241.9,359.5 239.8,357.8Z"/>
<path class="u" d="M364.7,166L367.3,168.2 411.9,153 409.3,150.8Z"/>
<path class="c3" d="M365,166.2L367.1,168 411.6,152.8 409.6,151ZM365,166.2L365,318.2 367.1,319.9 411.6,304.7 411.6,152.8M367.1,168L367.1,319.9"/>
<path class="u" d="M309,275.9L311.6,278.1 356.2,262.9 353.6,260.7Z"/>
<path class="c2" d="M309.3,276.1L311.4,277.9 355.9,262.7 353.9,260.9ZM309.3,276.1L309.3,337.2 311.4,338.9 355.9,323.7 355.9,262.7M311.4,277.9L311.4,338.9"/>
<path class="u" d="M253.3,355.9L255.9,358.1 300.5,342.9 297.9,340.7Z"/>
<path class="c1" d="M253.6,356.1L255.7,357.8 300.2,342.6 298.2,340.9ZM253.6,356.1L253.6,356.2 255.7,357.9 300.2,342.7 300.2,342.6M255.7,357.8L255.7,357.9"/>
<path class="u" d="M197.6,374.9L200.2,377.1 244.8,361.9 242.2,359.7Z"/>
<path class="c0" d="M197.9,375.2L200,376.9 244.5,361.7 242.5,360Z"/>
<path class="u" d="M367.3,166.7L370,168.8 414.5,153.6 411.9,151.5Z"/>
<path class="c3" d="M367.6,166.9L369.7,168.6 414.3,153.4 412.2,151.7ZM367.6,166.9L367.6,320.3 369.7,322.1 414.3,306.9 414.3,153.4M369.7,168.6L369.7,322.1"/>
<path class="u" d="M311.6,279.6L314.3,281.7 358.8,266.5 356.2,264.4Z"/>
<path class="c2" d="M311.9,279.8L314,281.5 358.6,266.3 356.5,264.6ZM311.9,279.8L311.9,339.3 314,341.1 358.6,325.9 358.6,266.3M314,281.5L314,341.1"/>
<path class="u" d="M255.9,358.1L258.6,360.2 303.1,345 300.5,342.9Z"/>
<path class="c1" d="M256.2,358.3L258.3,360 302.9,344.8 300.8,343.1ZM256.2,358.3L256.2,358.3 258.3,360.1 302.9,344.9 302.9,344.8M258.3,360L258.3,360.1"/>
<path class="u" d="M200.2,377.1L202.9,379.3 247.4,364.1 244.8,361.9Z"/>
<path class="c0" d="M200.5,377.3L202.6,379.1 247.2,363.9 245.1,362.1Z"/>
<path class="u" d="M370,167.4L372.6,169.6 417.1,154.4 414.5,152.2Z"/>
<path class="c3" d="M370.2,167.6L372.3,169.4 416.9,154.2 414.8,152.4ZM370.2,167.6L370.2,322.5 372.3,324.2 416.9,309 416.9,154.2M372.3,169.4L372.3,324.2"/>
<path class="u" d="M314.3,283.2L316.9,285.3 361.4,270.1 358.8,268Z"/>
<path class="c2" d="M314.5,283.4L316.6,285.1 361.2,269.9 359.1,268.2ZM314.5,283.4L314.5,341.5 316.6,343.2 361.2,328 361.2,269.9M316.6,285.1L316.6,343.2"/>
<path class="u" d="M258.6,360.2L261.2,362.4 305.7,347.2 303.1,345Z"/>
<path class="c1" d="M258.8,360.5L260.9,362.2 305.5,347 303.4,345.3ZM258.8,360.5L258.8,360.5 260.9,362.2 305.5,347 305.5,347M260.9,362.2L260.9,362.2"/>
<path class="u" d="M202.9,379.3L205.5,381.4 250,366.2 247.4,364.1Z"/>
<path class="c0" d="M203.1,379.5L205.2,381.2 249.8,366 247.7,364.3Z"/>
<path class="u" d="M372.6,168.2L375.2,170.4 419.8,155.2 417.1,153Z"/>
<path class="c3" d="M372.8,168.4L374.9,170.2 419.5,155 417.4,153.2ZM372.8,168.4L372.8,324.7 374.9,326.4 419.5,311.2 419.5,155M374.9,170.2L374.9,326.4"/>
<path class="u" d="M316.9,286.7L319.5,288.9 364.1,273.7 361.4,271.5Z"/>
<path class="c2" d="M317.1,286.9L319.2,288.6 363.8,273.4 361.7,271.7ZM317.1,286.9L317.1,343.7 319.2,345.4 363.8,330.2 363.8,273.4M319.2,288.6L319.2,345.4"/>
<path class="u" d="M261.2,362.4L263.8,364.6 308.4,349.4 305.7,347.2Z"/>
<path class="c1" d="M261.4,362.6L263.5,364.4 308.1,349.2 306,347.4ZM261.4,362.6L261.4,362.7 263.5,364.4 308.1,349.2 308.1,349.2M263.5,364.4L263.5,364.4"/>
<path class="u" d="M205.5,381.4L208.1,383.6 252.7,368.4 250,366.2Z"/>
<path class="c0" d="M205.7,381.7L207.8,383.4 252.4,368.2 250.3,366.5Z"/>
<path class="u" d="M375.2,168.8L377.8,171 422.4,155.8 419.8,153.6Z"/>
<path class="c3" d="M375.5,169.1L377.6,170.8 422.1,155.6 420,153.9ZM375.5,169.1L375.5,326.8 377.6,328.6 422.1,313.4 422.1,155.6M377.6,170.8L377.6,328.6"/>
<path class="u" d="M319.5,290.4L322.1,292.6 366.7,277.4 364.1,275.2Z"/>
<path class="c2" d="M319.8,290.6L321.9,292.4 366.4,277.2 364.3,275.4ZM319.8,290.6L319.8,345.8 321.9,347.6 366.4,332.4 366.4,277.2M321.9,292.4L321.9,347.6"/>
<path class="u" d="M263.8,364.6L266.4,366.8 311,351.6 308.4,349.4Z"/>
<path class="c1" d="M264.1,364.8L266.2,366.5 310.7,351.3 308.6,349.6ZM264.1,364.8L264.1,364.8 266.2,366.6 310.7,351.4 310.7,351.3M266.2,366.5L266.2,366.6"/>
<path class="u" d="M208.1,383.6L210.7,385.8 255.3,370.6 252.7,368.4Z"/>
<path class="c0" d="M208.4,383.8L210.5,385.6 255,370.4 252.9,368.6Z"/>
<path class="u" d="M377.8,169.5L380.4,171.7 425,156.5 422.4,154.3Z"/>
<path class="c3" d="M378.1,169.7L380.2,171.5 424.7,156.3 422.6,154.5ZM378.1,169.7L378.1,329 380.2,330.7 424.7,315.5 424.7,156.3M380.2,171.5L380.2,330.7"/>
<path class="u" d="M322.1,294.1L324.7,296.2 369.3,281 366.7,278.9Z"/>
<path class="c2" d="M322.4,294.3L324.5,296 369,280.8 366.9,279.1ZM322.4,294.3L322.4,348 324.5,349.7 369,334.5 369,280.8M324.5,296L324.5,349.7"/>
<path class="u" d="M266.4,366.8L269,368.9 313.6,353.7 311,351.6Z"/>
<path class="c1" d="M266.7,367L268.8,368.7 313.3,353.5 311.2,351.8ZM266.7,367L266.7,367 268.8,368.7 313.3,353.5 313.3,353.5M268.8,368.7L268.8,368.7"/>
<path class="u" d="M210.7,385.8L213.3,387.9 257.9,372.7 255.3,370.6Z"/>
<path class="c0" d="M211,386L213.1,387.7 257.6,372.5 255.5,370.8Z"/>
<path class="u" d="M380.4,170.2L383.1,172.4 427.6,157.2 425,155Z"/>
<path class="c3" d="M380.7,170.5L382.8,172.2 427.4,157 425.3,155.3ZM380.7,170.5L380.7,331.2 382.8,332.9 427.4,317.7 427.4,157M382.8,172.2L382.8,332.9"/>
<path class="u" d="M324.7,297.7L327.4,299.8 371.9,284.6 369.3,282.5Z"/>
<path class="c2" d="M325,297.9L327.1,299.6 371.7,284.4 369.6,282.7ZM325,297.9L325,350.2 327.1,351.9 371.7,336.7 371.7,284.4M327.1,299.6L327.1,351.9"/>
<path class="u" d="M269,368.9L271.7,371.1 316.2,355.9 313.6,353.7Z"/>
<path class="c1" d="M269.3,369.2L271.4,370.9 316,355.7 313.9,354ZM269.3,369.2L269.3,369.2 271.4,370.9 316,355.7 316,355.7M271.4,370.9L271.4,370.9"/>
<path class="u" d="M213.3,387.9L216,390.1 260.5,374.9 257.9,372.7Z"/>
<path class="c0" d="M213.6,388.2L215.7,389.9 260.3,374.7 258.2,373Z"/>
<path class="u" d="M383.1,171L385.7,173.2 430.2,158 427.6,155.8Z"/>
<path class="c3" d="M383.3,171.3L385.4,173 430,157.8 427.9,156.1ZM383.3,171.3L383.3,333.3 385.4,335.1 430,319.9 430,157.8M385.4,173L385.4,335.1"/>
<path class="u" d="M327.4,301.2L330,303.4 374.5,288.2 371.9,286Z"/>
<path class="c2" d="M327.6,301.4L329.7,303.2 374.3,288 372.2,286.2ZM327.6,301.4L327.6,352.3 329.7,354.1 374.3,338.9 374.3,288M329.7,303.2L329.7,354.1"/>
<path class="u" d="M271.7,371.1L274.3,373.3 318.8,358.1 316.2,355.9Z"/>
<path class="c1" d="M271.9,371.3L274,373.1 318.6,357.9 316.5,356.1ZM271.9,371.3L271.9,371.3 274,373.1 318.6,357.9 318.6,357.9M274,373.1L274,373.1"/>
<path class="u" d="M216,390.1L218.6,392.3 263.1,377.1 260.5,374.9Z"/>
<path class="c0" d="M216.2,390.3L218.3,392.1 262.9,376.9 260.8,375.1Z"/>
<path class="u" d="M385.7,171.9L388.3,174.1 432.9,158.9 430.2,156.7Z"/>
<path class="c3" d="M385.9,172.1L388,173.8 432.6,158.6 430.5,156.9ZM385.9,172.1L385.9,335.5 388,337.2 432.6,322 432.6,158.6M388,173.8L388,337.2"/>
<path class="u" d="M330,304.7L332.6,306.9 377.2,291.7 374.5,289.5Z"/>
<path class="c2" d="M330.2,304.9L332.3,306.6 376.9,291.4 374.8,289.7ZM330.2,304.9L330.2,354.5 332.3,356.2 376.9,341 376.9,291.4M332.3,306.6L332.3,356.2"/>
<path class="u" d="M274.3,373.3L276.9,375.4 321.5,360.2 318.8,358.1Z"/>
<path class="c1" d="M274.5,373.5L276.6,375.2 321.2,360 319.1,358.3ZM274.5,373.5L274.5,373.5 276.6,375.2 321.2,360 321.2,360M276.6,375.2L276.6,375.2"/>
<path class="u" d="M218.6,392.3L221.2,394.5 265.8,379.3 263.1,377.1Z"/>
<path class="c0" d="M218.8,392.5L220.9,394.2 265.5,379 263.4,377.3Z"/>
<path class="u" d="M388.3,172.8L390.9,175 435.5,159.8 432.9,157.6Z"/>
<path class="c3" d="M388.6,173L390.7,174.7 435.2,159.5 433.1,157.8ZM388.6,173L388.6,337.7 390.7,339.4 435.2,324.2 435.2,159.5M390.7,174.7L390.7,339.4"/>
<path class="u" d="M332.6,308.1L335.2,310.3 379.8,295.1 377.2,292.9Z"/>
<path class="c2" d="M332.9,308.3L335,310.1 379.5,294.9 377.4,293.1ZM332.9,308.3L332.9,356.7 335,358.4 379.5,343.2 379.5,294.9M335,310.1L335,358.4"/>
<path class="u" d="M276.9,375.4L279.5,377.6 324.1,362.4 321.5,360.2Z"/>
<path class="c1" d="M277.2,375.7L279.3,377.4 323.8,362.2 321.7,360.5ZM277.2,375.7L277.2,375.7 279.3,377.4 323.8,362.2 323.8,362.2M279.3,377.4L279.3,377.4"/>
<path class="u" d="M221.2,394.5L223.8,396.6 268.4,381.4 265.8,379.3Z"/>
<path class="c0" d="M221.5,394.7L223.6,396.4 268.1,381.2 266,379.5Z"/>
<path class="u" d="M390.9,173.7L393.5,175.9 438.1,160.7 435.5,158.5Z"/>
<path class="c3" d="M391.2,174L393.3,175.7 437.8,160.5 435.7,158.8ZM391.2,174L391.2,339.8 393.3,341.6 437.8,326.4 437.8,160.5M393.3,175.7L393.3,341.6"/>
<path class="u" d="M335.2,311.5L337.8,313.7 382.4,298.5 379.8,296.3Z"/>
<path class="c2" d="M335.5,311.7L337.6,313.5 382.1,298.3 380,296.5ZM335.5,311.7L335.5,358.8 337.6,360.6 382.1,345.4 382.1,298.3M337.6,313.5L337.6,360.6"/>
<path class="u" d="M279.5,377.6L282.1,379.8 326.7,364.6 324.1,362.4Z"/>
<path class="c1" d="M279.8,377.8L281.9,379.6 326.4,364.4 324.3,362.6ZM279.8,377.8L279.8,377.8 281.9,379.6 326.4,364.4 326.4,364.4M281.9,379.6L281.9,379.6"/>
<path class="u" d="M223.8,396.6L226.4,398.8 271,383.6 268.4,381.4Z"/>
<path class="c0" d="M224.1,396.8L226.2,398.6 270.7,383.4 268.6,381.6Z"/>
<path class="u" d="M393.5,174.7L396.2,176.9 440.7,161.7 438.1,159.5Z"/>
<path class="c3" d="M393.8,174.9L395.9,176.7 440.5,161.5 438.4,159.7ZM393.8,174.9L393.8,342 395.9,343.7 440.5,328.5 440.5,161.5M395.9,176.7L395.9,343.7"/>
<path class="u" d="M337.8,314.9L340.5,317 385,301.8 382.4,299.7Z"/>
<path class="c2" d="M338.1,315.1L340.2,316.8 384.8,301.6 382.7,299.9ZM338.1,315.1L338.1,361 340.2,362.7 384.8,347.5 384.8,301.6M340.2,316.8L340.2,362.7"/>
<path class="u" d="M282.1,379.8L284.8,382 329.3,366.8 326.7,364.6Z"/>
<path class="c1" d="M282.4,380L284.5,381.7 329.1,366.5 327,364.8ZM282.4,380L282.4,380 284.5,381.7 329.1,366.5 329.1,366.5M284.5,381.7L284.5,381.7"/>
<path class="u" d="M226.4,398.8L229.1,401 273.6,385.8 271,383.6Z"/>
<path class="c0" d="M226.7,399L228.8,400.7 273.4,385.5 271.3,383.8Z"/>
<path class="u" d="M396.2,175.8L398.8,177.9 443.3,162.7 440.7,160.6Z"/>
<path class="c3" d="M396.4,176L398.5,177.7 443.1,162.5 441,160.8ZM396.4,176L396.4,344.2 398.5,345.9 443.1,330.7 443.1,162.5M398.5,177.7L398.5,345.9"/>
<path class="u" d="M340.5,318.2L343.1,320.3 387.6,305.1 385,303Z"/>
<path class="c2" d="M340.7,318.4L342.8,320.1 387.4,304.9 385.3,303.2ZM340.7,318.4L340.7,363.2 342.8,364.9 387.4,349.7 387.4,304.9M342.8,320.1L342.8,364.9"/>
<path class="u" d="M284.8,382L287.4,384.1 331.9,368.9 329.3,366.8Z"/>
<path class="c1" d="M285,382.2L287.1,383.9 331.7,368.7 329.6,367ZM285,382.2L285,382.2 287.1,383.9 331.7,368.7 331.7,368.7M287.1,383.9L287.1,383.9"/>
<path class="u" d="M229.1,401L231.7,403.1 276.2,387.9 273.6,385.8Z"/>
<path class="c0" d="M229.3,401.2L231.4,402.9 276,387.7 273.9,386Z"/>
<path class="u" d="M398.8,176.9L401.1,178.8 445.7,163.6 443.3,161.7Z"/>
<path class="c3" d="M399,177.1L401.1,178.8 445.7,163.6 443.6,161.9ZM399,177.1L399,346.3 401.1,348.1 445.7,332.9 445.7,163.6M401.1,178.8L401.1,348.1"/>
<path class="u" d="M343.1,321.4L345.4,323.4 390,308.2 387.6,306.2Z"/>
<path class="c2" d="M343.3,321.6L345.4,323.4 390,308.2 387.9,306.4ZM343.3,321.6L343.3,365.3 345.4,367.1 390,351.9 390,308.2M345.4,323.4L345.4,367.1"/>
<path class="u" d="M287.4,384.1L289.7,386.1 334.3,370.9 331.9,368.9Z"/>
<path class="c1" d="M287.6,384.3L289.7,386.1 334.3,370.9 332.2,369.1ZM287.6,384.3L287.6,384.3 289.7,386.1 334.3,370.9 334.3,370.9M289.7,386.1L289.7,386.1"/>
<path class="u" d="M231.7,403.1L234,405.1 278.6,389.9 276.2,387.9Z"/>
<path class="c0" d="M231.9,403.3L234,405.1 278.6,389.9 276.5,388.1Z"/>
<path class="a" d="M99.4,293.6L234.3,405.3M234.3,405.3L446,333.1M99.4,293.6L94.8,289.8M99.4,187.1L94.8,183.3M99.4,80.6L94.8,76.8M99.4,293.6L93.7,295.5M230.4,402L224.7,404M256.6,397.7L261.2,401.5M312.3,378.7L316.9,382.5M368,359.7L372.6,363.5M423.7,340.7L428.3,344.5"/>
<path class="g" d="M647.4,299.6L647.4,80.8M700.4,279.3L700.4,60.5M753.5,259L753.5,40.2M806.5,238.7L806.5,19.9M626.2,307.7L827.7,230.6M626.2,198.3L827.7,121.2M626.2,88.9L827.7,11.8M827.7,230.6L827.7,11.8M977,328.3L977,109.5M827.7,230.6L981.5,331.2M827.7,121.2L981.5,221.8M827.7,11.8L981.5,112.4M647.4,299.6L801.2,400.2M700.4,279.3L854.2,379.9M753.5,259L907.3,359.6M806.5,238.7L960.3,339.3M626.2,307.7L827.7,230.6M775.5,405.4L977,328.3"/>
<path class="u" d="M787.1,136.4L789.8,138.2 832.2,121.9 829.5,120.2Z"/>
<path class="c3" d="M787.1,136.4L789.5,138 831.9,121.7 829.5,120.2ZM787.1,136.4L787.1,138.6 789.5,140.2 831.9,123.9 831.9,121.7M789.5,138L789.5,140.2"/>
<path class="u" d="M734.1,158.9L736.7,160.7 779.2,144.4 776.5,142.7Z"/>
<path class="c2" d="M734.1,158.9L736.4,160.5 778.9,144.2 776.5,142.7Z"/>
<path class="u" d="M681,179.2L683.7,180.9 726.1,164.7 723.4,163Z"/>
<path class="c1" d="M681,179.2L683.4,180.7 725.8,164.5 723.4,163Z"/>
<path class="u" d="M628,199.5L630.7,201.2 673.1,185 670.4,183.2Z"/>
<path class="c0" d="M628,199.5L630.4,201 672.8,184.8 670.4,183.2Z"/>
<path class="u" d="M789.8,137.8L792.8,139.8 835.2,123.5 832.2,121.6Z"/>
<path class="c3" d="M790.1,138L792.5,139.6 834.9,123.3 832.5,121.8ZM790.1,138L790.1,140.6 792.5,142.1 834.9,125.9 834.9,123.3M792.5,139.6L792.5,142.1"/>
<path class="u" d="M736.7,160L739.7,161.9 782.2,145.7 779.2,143.8Z"/>
<path class="c2" d="M737,160.2L739.4,161.8 781.9,145.5 779.5,144ZM737,160.2L737,160.8 739.4,162.4 781.9,146.2 781.9,145.5M739.4,161.8L739.4,162.4"/>
<path class="u" d="M683.7,180.9L686.7,182.9 729.1,166.7 726.1,164.7Z"/>
<path class="c1" d="M684,181.1L686.4,182.7 728.8,166.5 726.4,164.9ZM684,181.1L684,192.1 686.4,193.6 728.8,177.4 728.8,166.5M686.4,182.7L686.4,193.6"/>
<path class="u" d="M630.7,201.2L633.7,203.2 676.1,187 673.1,185Z"/>
<path class="c0" d="M631,201.4L633.4,203 675.8,186.8 673.4,185.2ZM631,201.4L631,205.8 633.4,207.4 675.8,191.1 675.8,186.8M633.4,203L633.4,207.4"/>
<path class="u" d="M792.8,139.4L795.7,141.3 838.2,125.1 835.2,123.2Z"/>
<path class="c3" d="M793.1,139.6L795.4,141.2 837.9,124.9 835.5,123.4ZM793.1,139.6L793.1,142.5 795.4,144.1 837.9,127.8 837.9,124.9M795.4,141.2L795.4,144.1"/>
<path class="u" d="M739.7,154.3L742.7,156.2 785.1,140 782.2,138.1Z"/>
<path class="c2" d="M740,154.5L742.4,156 784.8,139.8 782.4,138.3ZM740,154.5L740,162.8 742.4,164.4 784.8,148.1 784.8,139.8M742.4,156L742.4,164.4"/>
<path class="u" d="M686.7,182.9L689.7,184.8 732.1,168.6 729.1,166.7Z"/>
<path class="c1" d="M687,183.1L689.4,184.7 731.8,168.4 729.4,166.9ZM687,183.1L687,194.6 689.4,196.1 731.8,179.9 731.8,168.4M689.4,184.7L689.4,196.1"/>
<path class="u" d="M633.7,196.6L636.7,198.6 679.1,182.3 676.1,180.4Z"/>
<path class="c0" d="M634,196.8L636.4,198.4 678.8,182.1 676.4,180.6ZM634,196.8L634,203.4 636.4,204.9 678.8,188.7 678.8,182.1M636.4,198.4L636.4,204.9"/>
<path class="u" d="M795.7,141L798.7,142.9 841.2,126.7 838.2,124.8Z"/>
<path class="c3" d="M796,141.2L798.4,142.7 840.9,126.5 838.5,124.9ZM796,141.2L796,144.5 798.4,146 840.9,129.8 840.9,126.5M798.4,142.7L798.4,146"/>
<path class="u" d="M742.7,150.8L745.7,152.7 788.1,136.5 785.1,134.5Z"/>
<path class="c2" d="M743,151L745.4,152.5 787.8,136.3 785.4,134.7ZM743,151L743,164.8 745.4,166.3 787.8,150.1 787.8,136.3M745.4,152.5L745.4,166.3"/>
<path class="u" d="M689.7,184.8L692.7,186.8 735.1,170.6 732.1,168.6Z"/>
<path class="c1" d="M690,185L692.4,186.6 734.8,170.4 732.4,168.8ZM690,185L690,197.1 692.4,198.6 734.8,182.4 734.8,170.4M692.4,186.6L692.4,198.6"/>
<path class="u" d="M636.7,205.1L639.6,207.1 682.1,190.9 679.1,188.9Z"/>
<path class="c0" d="M637,205.3L639.3,206.9 681.8,190.7 679.4,189.1ZM637,205.3L637,207.5 639.3,209.1 681.8,192.9 681.8,190.7M639.3,206.9L639.3,209.1"/>
<path class="u" d="M798.7,141.8L801.7,143.8 844.1,127.6 841.2,125.6Z"/>
<path class="c3" d="M799,142L801.4,143.6 843.8,127.4 841.5,125.8ZM799,142L799,146.4 801.4,148 843.8,131.7 843.8,127.4M801.4,143.6L801.4,148"/>
<path class="u" d="M745.7,155.1L748.7,157.1 791.1,140.9 788.1,138.9Z"/>
<path class="c2" d="M746,155.3L748.4,156.9 790.8,140.7 788.4,139.1ZM746,155.3L746,166.7 748.4,168.3 790.8,152 790.8,140.7M748.4,156.9L748.4,168.3"/>
<path class="u" d="M692.7,186.8L695.7,188.8 738.1,172.5 735.1,170.6Z"/>
<path class="c1" d="M693,187L695.4,188.6 737.8,172.3 735.4,170.8ZM693,187L693,198.9 695.4,200.5 737.8,184.3 737.8,172.3M695.4,188.6L695.4,200.5"/>
<path class="u" d="M639.6,206.2L642.6,208.2 685,191.9 682.1,190Z"/>
<path class="c0" d="M639.9,206.4L642.3,208 684.8,191.7 682.4,190.2ZM639.9,206.4L639.9,207.3 642.3,208.8 684.8,192.6 684.8,191.7M642.3,208L642.3,208.8"/>
<path class="u" d="M801.7,135L804.7,137 847.1,120.8 844.1,118.8Z"/>
<path class="c3" d="M802,135.2L804.4,136.8 846.8,120.6 844.4,119ZM802,135.2L802,148.4 804.4,149.9 846.8,133.7 846.8,120.6M804.4,136.8L804.4,149.9"/>
<path class="u" d="M748.7,163L751.7,164.9 794.1,148.7 791.1,146.8Z"/>
<path class="c2" d="M749,163.2L751.4,164.8 793.8,148.5 791.4,147ZM749,163.2L749,168.7 751.4,170.2 793.8,154 793.8,148.5M751.4,164.8L751.4,170.2"/>
<path class="u" d="M695.7,188.8L698.6,190.7 741.1,174.5 738.1,172.5Z"/>
<path class="c1" d="M696,188.9L698.3,190.5 740.8,174.3 738.4,172.7ZM696,188.9L696,200.8 698.3,202.4 740.8,186.1 740.8,174.3M698.3,190.5L698.3,202.4"/>
<path class="u" d="M642.6,208.3L645.6,210.2 688,194 685,192Z"/>
<path class="c0" d="M642.9,208.4L645.3,210 687.7,193.8 685.3,192.2ZM642.9,208.4L642.9,209.2 645.3,210.8 687.7,194.6 687.7,193.8M645.3,210L645.3,210.8"/>
<path class="u" d="M804.7,128.2L807.7,130.2 850.1,114 847.1,112Z"/>
<path class="c3" d="M805,128.4L807.4,130 849.8,113.8 847.4,112.2ZM805,128.4L805,150.3 807.4,151.9 849.8,135.7 849.8,113.8M807.4,130L807.4,151.9"/>
<path class="u" d="M751.7,170.4L754.7,172.4 797.1,156.1 794.1,154.2Z"/>
<path class="c2" d="M752,170.6L754.4,172.2 796.8,155.9 794.4,154.4ZM752,170.6L752,177.2 754.4,178.7 796.8,162.5 796.8,155.9M754.4,172.2L754.4,178.7"/>
<path class="u" d="M698.6,190.7L701.6,192.7 744.1,176.4 741.1,174.5Z"/>
<path class="c1" d="M698.9,190.9L701.3,192.5 743.8,176.2 741.4,174.7ZM698.9,190.9L698.9,202.7 701.3,204.2 743.8,188 743.8,176.2M701.3,192.5L701.3,204.2"/>
<path class="u" d="M645.6,210.3L648.6,212.2 691,196 688,194Z"/>
<path class="c0" d="M645.9,210.5L648.3,212 690.7,195.8 688.3,194.2ZM645.9,210.5L645.9,211.2 648.3,212.8 690.7,196.5 690.7,195.8M648.3,212L648.3,212.8"/>
<path class="u" d="M807.7,132.4L810.7,134.3 853.1,118.1 850.1,116.2Z"/>
<path class="c3" d="M808,132.6L810.4,134.1 852.8,117.9 850.4,116.4ZM808,132.6L808,152.3 810.4,153.8 852.8,137.6 852.8,117.9M810.4,134.1L810.4,153.8"/>
<path class="u" d="M754.7,172.4L757.6,174.3 800.1,158.1 797.1,156.1Z"/>
<path class="c2" d="M755,172.6L757.3,174.1 799.8,157.9 797.4,156.3ZM755,172.6L755,183.5 757.3,185.1 799.8,168.8 799.8,157.9M757.3,174.1L757.3,185.1"/>
<path class="u" d="M701.6,192.7L704.6,194.6 747,178.4 744.1,176.4Z"/>
<path class="c1" d="M701.9,192.9L704.3,194.4 746.7,178.2 744.4,176.6ZM701.9,192.9L701.9,204.5 704.3,206.1 746.7,189.9 746.7,178.2M704.3,194.4L704.3,206.1"/>
<path class="u" d="M648.6,212.3L651.6,214.3 694,198 691,196.1Z"/>
<path class="c0" d="M648.9,212.5L651.3,214.1 693.7,197.8 691.3,196.3ZM648.9,212.5L648.9,213.1 651.3,214.7 693.7,198.5 693.7,197.8M651.3,214.1L651.3,214.7"/>
<path class="u" d="M810.7,125.6L813.7,127.5 856.1,111.3 853.1,109.4Z"/>
<path class="c3" d="M811,125.8L813.4,127.3 855.8,111.1 853.4,109.6ZM811,125.8L811,154.2 813.4,155.8 855.8,139.6 855.8,111.1M813.4,127.3L813.4,155.8"/>
<path class="u" d="M757.6,174.3L760.6,176.3 803.1,160 800.1,158.1Z"/>
<path class="c2" d="M757.9,174.5L760.3,176.1 802.8,159.8 800.4,158.3ZM757.9,174.5L757.9,192 760.3,193.5 802.8,177.3 802.8,159.8M760.3,176.1L760.3,193.5"/>
<path class="u" d="M704.6,194.6L707.6,196.6 750,180.3 747,178.4Z"/>
<path class="c1" d="M704.9,194.8L707.3,196.4 749.7,180.1 747.3,178.6ZM704.9,194.8L704.9,206.4 707.3,208 749.7,191.7 749.7,180.1M707.3,196.4L707.3,208"/>
<path class="u" d="M651.6,214.3L654.6,216.3 697,200 694,198.1Z"/>
<path class="c0" d="M651.9,214.5L654.3,216.1 696.7,199.8 694.3,198.3ZM651.9,214.5L651.9,215.1 654.3,216.7 696.7,200.4 696.7,199.8M654.3,216.1L654.3,216.7"/>
<path class="u" d="M813.7,119.7L816.6,121.6 859.1,105.4 856.1,103.4Z"/>
<path class="c3" d="M814,119.9L816.3,121.4 858.8,105.2 856.4,103.6ZM814,119.9L814,156.2 816.3,157.7 858.8,141.5 858.8,105.2M816.3,121.4L816.3,157.7"/>
<path class="u" d="M760.6,176.3L763.6,178.2 806,162 803.1,160Z"/>
<path class="c2" d="M760.9,176.5L763.3,178 805.7,161.8 803.4,160.2ZM760.9,176.5L760.9,202.2 763.3,203.8 805.7,187.6 805.7,161.8M763.3,178L763.3,203.8"/>
<path class="u" d="M707.6,196.6L710.6,198.5 753,182.3 750,180.3Z"/>
<path class="c1" d="M707.9,196.8L710.3,198.3 752.7,182.1 750.3,180.5ZM707.9,196.8L707.9,207.9 710.3,209.4 752.7,193.2 752.7,182.1M710.3,198.3L710.3,209.4"/>
<path class="u" d="M654.6,216.3L657.6,218.3 700,202 697,200.1Z"/>
<path class="c0" d="M654.9,216.5L657.3,218.1 699.7,201.9 697.3,200.3ZM654.9,216.5L654.9,217.1 657.3,218.6 699.7,202.4 699.7,201.9M657.3,218.1L657.3,218.6"/>
<path class="u" d="M816.6,112.4L819.6,114.4 862.1,98.2 859.1,96.2Z"/>
<path class="c3" d="M816.9,112.6L819.3,114.2 861.8,98 859.4,96.4ZM816.9,112.6L816.9,158.1 819.3,159.7 861.8,143.5 861.8,98M819.3,114.2L819.3,159.7"/>
<path class="u" d="M763.6,178.2L766.6,180.2 809,164 806,162Z"/>
<path class="c2" d="M763.9,178.4L766.3,180 808.7,163.8 806.3,162.2ZM763.9,178.4L763.9,217.1 766.3,218.7 808.7,202.5 808.7,163.8M766.3,180L766.3,218.7"/>
<path class="u" d="M710.6,198.5L713.6,200.5 756,184.2 753,182.3Z"/>
<path class="c1" d="M710.9,198.7L713.3,200.3 755.7,184 753.3,182.5ZM710.9,198.7L710.9,209.3 713.3,210.9 755.7,194.7 755.7,184M713.3,200.3L713.3,210.9"/>
<path class="u" d="M657.6,218.3L660.5,220.3 703,204.1 700,202.1Z"/>
<path class="c0" d="M657.9,218.5L660.2,220.1 702.7,203.9 700.3,202.3ZM657.9,218.5L657.9,219 660.2,220.6 702.7,204.3 702.7,203.9M660.2,220.1L660.2,220.6"/>
<path class="u" d="M819.6,109.6L822.6,111.5 865,95.3 862.1,93.3Z"/>
<path class="c3" d="M819.9,109.8L822.3,111.3 864.7,95.1 862.4,93.5ZM819.9,109.8L819.9,160.1 822.3,161.7 864.7,145.4 864.7,95.1M822.3,111.3L822.3,161.7"/>
<path class="u" d="M766.6,180.2L769.6,182.1 812,165.9 809,164Z"/>
<path class="c2" d="M766.9,180.4L769.3,181.9 811.7,165.7 809.3,164.1ZM766.9,180.4L766.9,221.2 769.3,222.8 811.7,206.5 811.7,165.7M769.3,181.9L769.3,222.8"/>
<path class="u" d="M713.6,200.5L716.6,202.4 759,186.2 756,184.2Z"/>
<path class="c1" d="M713.9,200.7L716.3,202.2 758.7,186 756.3,184.4ZM713.9,200.7L713.9,210.8 716.3,212.4 758.7,196.1 758.7,186M716.3,202.2L716.3,212.4"/>
<path class="u" d="M660.5,220.3L663.5,222.3 706,206.1 703,204.1Z"/>
<path class="c0" d="M660.8,220.5L663.2,222.1 705.7,205.9 703.3,204.3ZM660.8,220.5L660.8,221 663.2,222.5 705.7,206.3 705.7,205.9M663.2,222.1L663.2,222.5"/>
<path class="u" d="M822.6,105.9L825.6,107.9 868,91.7 865,89.7Z"/>
<path class="c3" d="M822.9,106.1L825.3,107.7 867.7,91.5 865.3,89.9ZM822.9,106.1L822.9,162 825.3,163.6 867.7,147.4 867.7,91.5M825.3,107.7L825.3,163.6"/>
<path class="u" d="M769.6,182.1L772.6,184.1 815,167.9 812,165.9Z"/>
<path class="c2" d="M769.9,182.3L772.3,183.9 814.7,167.7 812.3,166.1ZM769.9,182.3L769.9,225.6 772.3,227.1 814.7,210.9 814.7,167.7M772.3,183.9L772.3,227.1"/>
<path class="u" d="M716.6,202.4L719.5,204.4 762,188.1 759,186.2Z"/>
<path class="c1" d="M716.9,202.6L719.2,204.2 761.7,188 759.3,186.4ZM716.9,202.6L716.9,212.3 719.2,213.8 761.7,197.6 761.7,188M719.2,204.2L719.2,213.8"/>
<path class="u" d="M663.5,222.3L666.5,224.3 708.9,208 706,206.1Z"/>
<path class="c0" d="M663.8,222.5L666.2,224.1 708.6,207.9 706.3,206.3ZM663.8,222.5L663.8,222.9 666.2,224.5 708.6,208.2 708.6,207.9M666.2,224.1L666.2,224.5"/>
<path class="u" d="M825.6,105.6L828.6,107.5 871,91.3 868,89.3Z"/>
<path class="c3" d="M825.9,105.8L828.3,107.3 870.7,91.1 868.3,89.5ZM825.9,105.8L825.9,164 828.3,165.6 870.7,149.3 870.7,91.1M828.3,107.3L828.3,165.6"/>
<path class="u" d="M772.6,184.1L775.6,186 818,169.8 815,167.9Z"/>
<path class="c2" d="M772.9,184.3L775.3,185.8 817.7,169.6 815.3,168.1ZM772.9,184.3L772.9,235.3 775.3,236.9 817.7,220.7 817.7,169.6M775.3,185.8L775.3,236.9"/>
<path class="u" d="M719.5,204.4L722.5,206.3 765,190.1 762,188.1Z"/>
<path class="c1" d="M719.8,204.6L722.2,206.1 764.7,189.9 762.3,188.3ZM719.8,204.6L719.8,213 722.2,214.6 764.7,198.4 764.7,189.9M722.2,206.1L722.2,214.6"/>
<path class="u" d="M666.5,224.3L669.5,226.3 711.9,210 708.9,208.1Z"/>
<path class="c0" d="M666.8,224.5L669.2,226.1 711.6,209.8 709.2,208.3ZM666.8,224.5L666.8,224.9 669.2,226.4 711.6,210.2 711.6,209.8M669.2,226.1L669.2,226.4"/>
<path class="u" d="M828.6,104L831.6,105.9 874,89.7 871,87.8Z"/>
<path class="c3" d="M828.9,104.2L831.3,105.7 873.7,89.5 871.3,88ZM828.9,104.2L828.9,165.9 831.3,167.5 873.7,151.3 873.7,89.5M831.3,105.7L831.3,167.5"/>
<path class="u" d="M775.6,186L778.5,188 821,171.8 818,169.8Z"/>
<path class="c2" d="M775.9,186.2L778.3,187.8 820.7,171.6 818.3,170ZM775.9,186.2L775.9,242.8 778.3,244.4 820.7,228.1 820.7,171.6M778.3,187.8L778.3,244.4"/>
<path class="u" d="M722.5,206.3L725.5,208.3 767.9,192.1 765,190.1Z"/>
<path class="c1" d="M722.8,206.5L725.2,208.1 767.6,191.9 765.3,190.3ZM722.8,206.5L722.8,213.8 725.2,215.4 767.6,199.2 767.6,191.9M725.2,208.1L725.2,215.4"/>
<path class="u" d="M669.5,226.3L672.5,228.3 714.9,212 711.9,210.1Z"/>
<path class="c0" d="M669.8,226.5L672.2,228.1 714.6,211.8 712.2,210.3ZM669.8,226.5L669.8,226.8 672.2,228.4 714.6,212.2 714.6,211.8M672.2,228.1L672.2,228.4"/>
<path class="u" d="M831.6,96.6L834.6,98.6 877,82.4 874,80.4Z"/>
<path class="c3" d="M831.9,96.8L834.3,98.4 876.7,82.2 874.3,80.6ZM831.9,96.8L831.9,167.9 834.3,169.5 876.7,153.2 876.7,82.2M834.3,98.4L834.3,169.5"/>
<path class="u" d="M778.5,188L781.5,190 824,173.7 821,171.8Z"/>
<path class="c2" d="M778.8,188.2L781.2,189.8 823.7,173.5 821.3,172ZM778.8,188.2L778.8,256.9 781.2,258.4 823.7,242.2 823.7,173.5M781.2,189.8L781.2,258.4"/>
<path class="u" d="M725.5,208.3L728.5,210.2 770.9,194 767.9,192.1Z"/>
<path class="c1" d="M725.8,208.5L728.2,210 770.6,193.8 768.2,192.3ZM725.8,208.5L725.8,214.6 728.2,216.2 770.6,199.9 770.6,193.8M728.2,210L728.2,216.2"/>
<path class="u" d="M672.5,228.3L675.5,230.2 717.9,214 714.9,212.1Z"/>
<path class="c0" d="M672.8,228.5L675.2,230 717.6,213.8 715.2,212.2ZM672.8,228.5L672.8,228.8 675.2,230.3 717.6,214.1 717.6,213.8M675.2,230L675.2,230.3"/>
<path class="u" d="M834.6,101.1L837.6,103.1 880,86.9 877,84.9Z"/>
<path class="c3" d="M834.9,101.3L837.3,102.9 879.7,86.7 877.3,85.1ZM834.9,101.3L834.9,169.9 837.3,171.4 879.7,155.2 879.7,86.7M837.3,102.9L837.3,171.4"/>
<path class="u" d="M781.5,190L784.5,191.9 826.9,175.7 824,173.7Z"/>
<path class="c2" d="M781.8,190.1L784.2,191.7 826.6,175.5 824.3,173.9ZM781.8,190.1L781.8,255.3 784.2,256.9 826.6,240.6 826.6,175.5M784.2,191.7L784.2,256.9"/>
<path class="u" d="M728.5,210.2L731.5,212.2 773.9,196 770.9,194Z"/>
<path class="c1" d="M728.8,210.4L731.2,212 773.6,195.8 771.2,194.2ZM728.8,210.4L728.8,215.4 731.2,217 773.6,200.7 773.6,195.8M731.2,212L731.2,217"/>
<path class="u" d="M675.5,230.3L678.5,232.2 720.9,216 717.9,214Z"/>
<path class="c0" d="M675.8,230.5L678.2,232 720.6,215.8 718.2,214.2ZM675.8,230.5L675.8,230.7 678.2,232.3 720.6,216.1 720.6,215.8M678.2,232L678.2,232.3"/>
<path class="u" d="M837.6,101.7L840.5,103.7 883,87.4 880,85.5Z"/>
<path class="c3" d="M837.9,101.9L840.2,103.5 882.7,87.2 880.3,85.7ZM837.9,101.9L837.9,171.8 840.2,173.4 882.7,157.1 882.7,87.2M840.2,103.5L840.2,173.4"/>
<path class="u" d="M784.5,191.9L787.5,193.9 829.9,177.6 826.9,175.7Z"/>
<path class="c2" d="M784.8,192.1L787.2,193.7 829.6,177.4 827.2,175.9ZM784.8,192.1L784.8,258.9 787.2,260.4 829.6,244.2 829.6,177.4M787.2,193.7L787.2,260.4"/>
<path class="u" d="M731.5,212.2L734.5,214.1 776.9,197.9 773.9,196Z"/>
<path class="c1" d="M731.8,212.4L734.2,214 776.6,197.7 774.2,196.2ZM731.8,212.4L731.8,216.2 734.2,217.7 776.6,201.5 776.6,197.7M734.2,214L734.2,217.7"/>
<path class="u" d="M678.5,232.2L681.4,234.2 723.9,218 720.9,216Z"/>
<path class="c0" d="M678.8,232.4L681.1,234 723.6,217.8 721.2,216.2ZM678.8,232.4L678.8,232.7 681.1,234.2 723.6,218 723.6,217.8M681.1,234L681.1,234.2"/>
<path class="u" d="M840.5,101.4L843.5,103.3 885.9,87.1 883,85.1Z"/>
<path class="c3" d="M840.8,101.6L843.2,103.1 885.7,86.9 883.3,85.3ZM840.8,101.6L840.8,173.8 843.2,175.3 885.7,159.1 885.7,86.9M843.2,103.1L843.2,175.3"/>
<path class="u" d="M787.5,193.9L790.5,195.8 832.9,179.6 829.9,177.6Z"/>
<path class="c2" d="M787.8,194.1L790.2,195.6 832.6,179.4 830.2,177.8ZM787.8,194.1L787.8,265.6 790.2,267.2 832.6,251 832.6,179.4M790.2,195.6L790.2,267.2"/>
<path class="u" d="M734.5,214.1L737.5,216.1 779.9,199.9 776.9,197.9Z"/>
<path class="c1" d="M734.8,214.3L737.2,215.9 779.6,199.7 777.2,198.1ZM734.8,214.3L734.8,217 737.2,218.5 779.6,202.3 779.6,199.7M737.2,215.9L737.2,218.5"/>
<path class="u" d="M681.4,234.2L684.4,236.2 726.9,219.9 723.9,218Z"/>
<path class="c0" d="M681.7,234.4L684.1,236 726.6,219.7 724.2,218.2ZM681.7,234.4L681.7,234.6 684.1,236.2 726.6,220 726.6,219.7M684.1,236L684.1,236.2"/>
<path class="u" d="M843.5,103.5L846.5,105.5 888.9,89.3 885.9,87.3Z"/>
<path class="c3" d="M843.8,103.7L846.2,105.3 888.6,89.1 886.2,87.5ZM843.8,103.7L843.8,175.7 846.2,177.3 888.6,161 888.6,89.1M846.2,105.3L846.2,177.3"/>
<path class="u" d="M790.5,195.8L793.5,197.8 835.9,181.5 832.9,179.6Z"/>
<path class="c2" d="M790.8,196L793.2,197.6 835.6,181.3 833.2,179.8ZM790.8,196L790.8,264.6 793.2,266.2 835.6,250 835.6,181.3M793.2,197.6L793.2,266.2"/>
<path class="u" d="M737.5,216.1L740.5,218.1 782.9,201.8 779.9,199.9Z"/>
<path class="c1" d="M737.8,216.3L740.2,217.9 782.6,201.6 780.2,200.1ZM737.8,216.3L737.8,218.6 740.2,220.2 782.6,204 782.6,201.6M740.2,217.9L740.2,220.2"/>
<path class="u" d="M684.4,236.2L687.4,238.1 729.8,221.9 726.9,220Z"/>
<path class="c0" d="M684.7,236.4L687.1,238 729.5,221.7 727.2,220.2ZM684.7,236.4L684.7,236.6 687.1,238.1 729.5,221.9 729.5,221.7M687.1,238L687.1,238.1"/>
<path class="u" d="M846.5,98.1L849.5,100 891.9,83.8 888.9,81.8Z"/>
<path class="c3" d="M846.8,98.3L849.2,99.8 891.6,83.6 889.2,82ZM846.8,98.3L846.8,177.7 849.2,179.2 891.6,163 891.6,83.6M849.2,99.8L849.2,179.2"/>
<path class="u" d="M793.5,197.8L796.5,199.7 838.9,183.5 835.9,181.5Z"/>
<path class="c2" d="M793.8,198L796.2,199.5 838.6,183.3 836.2,181.7ZM793.8,198L793.8,274.5 796.2,276 838.6,259.8 838.6,183.3M796.2,199.5L796.2,276"/>
<path class="u" d="M740.5,218.1L743.4,220 785.9,203.8 782.9,201.8Z"/>
<path class="c1" d="M740.8,218.2L743.1,219.8 785.6,203.6 783.2,202ZM740.8,218.2L740.8,220.3 743.1,221.9 785.6,205.6 785.6,203.6M743.1,219.8L743.1,221.9"/>
<path class="u" d="M687.4,238.2L690.4,240.1 732.8,223.9 729.8,221.9Z"/>
<path class="c0" d="M687.7,238.4L690.1,239.9 732.5,223.7 730.1,222.1ZM687.7,238.4L687.7,238.5 690.1,240.1 732.5,223.9 732.5,223.7M690.1,239.9L690.1,240.1"/>
<path class="u" d="M849.5,99.8L852.5,101.7 894.9,85.5 891.9,83.5Z"/>
<path class="c3" d="M849.8,100L852.2,101.5 894.6,85.3 892.2,83.7ZM849.8,100L849.8,179.6 852.2,181.2 894.6,165 894.6,85.3M852.2,101.5L852.2,181.2"/>
<path class="u" d="M796.5,199.7L799.5,201.7 841.9,185.4 838.9,183.5Z"/>
<path class="c2" d="M796.8,199.9L799.2,201.5 841.6,185.2 839.2,183.7ZM796.8,199.9L796.8,277.7 799.2,279.2 841.6,263 841.6,185.2M799.2,201.5L799.2,279.2"/>
<path class="u" d="M743.4,220L746.4,222 788.8,205.7 785.9,203.8Z"/>
<path class="c1" d="M743.7,220.2L746.1,221.8 788.5,205.5 786.2,204ZM743.7,220.2L743.7,222 746.1,223.5 788.5,207.3 788.5,205.5M746.1,221.8L746.1,223.5"/>
<path class="u" d="M690.4,240.1L693.4,242.1 735.8,225.9 732.8,223.9Z"/>
<path class="c0" d="M690.7,240.3L693.1,241.9 735.5,225.7 733.1,224.1ZM690.7,240.3L690.7,240.5 693.1,242.1 735.5,225.8 735.5,225.7M693.1,241.9L693.1,242.1"/>
<path class="u" d="M852.5,101.3L855.5,103.3 897.9,87 894.9,85.1Z"/>
<path class="c3" d="M852.8,101.5L855.2,103.1 897.6,86.8 895.2,85.3ZM852.8,101.5L852.8,181.6 855.2,183.1 897.6,166.9 897.6,86.8M855.2,103.1L855.2,183.1"/>
<path class="u" d="M799.5,201.7L802.4,203.6 844.9,187.4 841.9,185.4Z"/>
<path class="c2" d="M799.8,201.9L802.1,203.4 844.6,187.2 842.2,185.6ZM799.8,201.9L799.8,278.7 802.1,280.3 844.6,264.1 844.6,187.2M802.1,203.4L802.1,280.3"/>
<path class="u" d="M746.4,222L749.4,223.9 791.8,207.7 788.8,205.7Z"/>
<path class="c1" d="M746.7,222.2L749.1,223.7 791.5,207.5 789.1,205.9ZM746.7,222.2L746.7,223.6 749.1,225.1 791.5,208.9 791.5,207.5M749.1,223.7L749.1,225.1"/>
<path class="u" d="M693.4,242.1L696.4,244.1 738.8,227.8 735.8,225.9Z"/>
<path class="c0" d="M693.7,242.3L696.1,243.9 738.5,227.6 736.1,226.1ZM693.7,242.3L693.7,242.4 696.1,244 738.5,227.8 738.5,227.6M696.1,243.9L696.1,244"/>
<path class="u" d="M855.5,98.3L858.5,100.3 900.9,84 897.9,82.1Z"/>
<path class="c3" d="M855.8,98.5L858.2,100.1 900.6,83.8 898.2,82.3ZM855.8,98.5L855.8,183.5 858.2,185.1 900.6,168.9 900.6,83.8M858.2,100.1L858.2,185.1"/>
<path class="u" d="M802.4,203.6L805.4,205.6 847.9,189.3 844.9,187.4Z"/>
<path class="c2" d="M802.7,203.8L805.1,205.4 847.6,189.2 845.2,187.6ZM802.7,203.8L802.7,283.8 805.1,285.4 847.6,269.2 847.6,189.2M805.1,205.4L805.1,285.4"/>
<path class="u" d="M749.4,223.9L752.4,225.9 794.8,209.6 791.8,207.7Z"/>
<path class="c1" d="M749.7,224.1L752.1,225.7 794.5,209.4 792.1,207.9ZM749.7,224.1L749.7,225.2 752.1,226.8 794.5,210.5 794.5,209.4M752.1,225.7L752.1,226.8"/>
<path class="u" d="M696.4,244.1L699.4,246 741.8,229.8 738.8,227.8Z"/>
<path class="c0" d="M696.7,244.3L699.1,245.8 741.5,229.6 739.1,228ZM696.7,244.3L696.7,244.4 699.1,246 741.5,229.7 741.5,229.6M699.1,245.8L699.1,246"/>
<path class="u" d="M858.5,102.2L861.4,104.2 903.9,87.9 900.9,86Z"/>
<path class="c3" d="M858.8,102.4L861.1,104 903.6,87.7 901.2,86.2ZM858.8,102.4L858.8,185.5 861.1,187 903.6,170.8 903.6,87.7M861.1,104L861.1,187"/>
<path class="u" d="M805.4,205.6L808.4,207.5 850.8,191.3 847.9,189.3Z"/>
<path class="c2" d="M805.7,205.8L808.1,207.3 850.5,191.1 848.1,189.5ZM805.7,205.8L805.7,289.3 808.1,290.9 850.5,274.6 850.5,191.1M808.1,207.3L808.1,290.9"/>
<path class="u" d="M752.4,225.9L755.4,227.8 797.8,211.6 794.8,209.6Z"/>
<path class="c1" d="M752.7,226.1L755.1,227.6 797.5,211.4 795.1,209.8ZM752.7,226.1L752.7,226.8 755.1,228.4 797.5,212.2 797.5,211.4M755.1,227.6L755.1,228.4"/>
<path class="u" d="M699.4,246L702.4,248 744.8,231.8 741.8,229.8Z"/>
<path class="c0" d="M699.7,246.2L702.1,247.8 744.5,231.6 742.1,230ZM699.7,246.2L699.7,246.4 702.1,247.9 744.5,231.7 744.5,231.6M702.1,247.8L702.1,247.9"/>
<path class="u" d="M861.4,105.1L864.4,107 906.9,90.8 903.9,88.8Z"/>
<path class="c3" d="M861.7,105.3L864.1,106.8 906.6,90.6 904.2,89ZM861.7,105.3L861.7,187.4 864.1,189 906.6,172.8 906.6,90.6M864.1,106.8L864.1,189"/>
<path class="u" d="M808.4,207.5L811.4,209.5 853.8,193.3 850.8,191.3Z"/>
<path class="c2" d="M808.7,207.7L811.1,209.3 853.5,193.1 851.1,191.5ZM808.7,207.7L808.7,291.2 811.1,292.8 853.5,276.5 853.5,193.1M811.1,209.3L811.1,292.8"/>
<path class="u" d="M755.4,227.8L758.4,229.8 800.8,213.5 797.8,211.6Z"/>
<path class="c1" d="M755.7,228L758.1,229.6 800.5,213.3 798.1,211.8ZM755.7,228L755.7,228.5 758.1,230 800.5,213.8 800.5,213.3M758.1,229.6L758.1,230"/>
<path class="u" d="M702.4,248L705.3,250 747.8,233.7 744.8,231.8Z"/>
<path class="c0" d="M702.7,248.2L705,249.8 747.5,233.5 745.1,232ZM702.7,248.2L702.7,248.3 705,249.9 747.5,233.6 747.5,233.5M705,249.8L705,249.9"/>
<path class="u" d="M864.4,104.2L867.4,106.1 909.8,89.9 906.9,88Z"/>
<path class="c3" d="M864.7,104.4L867.1,106 909.5,89.7 907.2,88.2ZM864.7,104.4L864.7,189.4 867.1,191 909.5,174.7 909.5,89.7M867.1,106L867.1,191"/>
<path class="u" d="M811.4,209.5L814.4,211.4 856.8,195.2 853.8,193.3Z"/>
<path class="c2" d="M811.7,209.7L814.1,211.2 856.5,195 854.1,193.4ZM811.7,209.7L811.7,294.6 814.1,296.1 856.5,279.9 856.5,195M814.1,211.2L814.1,296.1"/>
<path class="u" d="M758.4,229.8L761.4,231.7 803.8,215.5 800.8,213.5Z"/>
<path class="c1" d="M758.7,230L761.1,231.5 803.5,215.3 801.1,213.7ZM758.7,230L758.7,230.4 761.1,232 803.5,215.7 803.5,215.3M761.1,231.5L761.1,232"/>
<path class="u" d="M705.3,250L708.3,251.9 750.8,235.7 747.8,233.7Z"/>
<path class="c0" d="M705.6,250.2L708,251.7 750.5,235.5 748.1,233.9ZM705.6,250.2L705.6,250.3 708,251.8 750.5,235.6 750.5,235.5M708,251.7L708,251.8"/>
<path class="u" d="M867.4,107.8L870.4,109.7 912.8,93.5 909.8,91.6Z"/>
<path class="c3" d="M867.7,108L870.1,109.5 912.5,93.3 910.1,91.8ZM867.7,108L867.7,191.3 870.1,192.9 912.5,176.7 912.5,93.3M870.1,109.5L870.1,192.9"/>
<path class="u" d="M814.4,211.4L817.4,213.4 859.8,197.2 856.8,195.2Z"/>
<path class="c2" d="M814.7,211.6L817.1,213.2 859.5,197 857.1,195.4ZM814.7,211.6L814.7,298.5 817.1,300 859.5,283.8 859.5,197M817.1,213.2L817.1,300"/>
<path class="u" d="M761.4,231.7L764.3,233.7 806.8,217.4 803.8,215.5Z"/>
<path class="c1" d="M761.7,231.9L764,233.5 806.5,217.3 804.1,215.7ZM761.7,231.9L761.7,232.3 764,233.9 806.5,217.7 806.5,217.3M764,233.5L764,233.9"/>
<path class="u" d="M708.3,251.9L711.3,253.9 753.7,237.7 750.8,235.7Z"/>
<path class="c0" d="M708.6,252.1L711,253.7 753.4,237.5 751,235.9ZM708.6,252.1L708.6,252.2 711,253.8 753.4,237.5 753.4,237.5M711,253.7L711,253.8"/>
<path class="u" d="M870.4,103.7L873.4,105.7 915.8,89.4 912.8,87.5Z"/>
<path class="c3" d="M870.7,103.9L873.1,105.5 915.5,89.3 913.1,87.7ZM870.7,103.9L870.7,193.3 873.1,194.9 915.5,178.6 915.5,89.3M873.1,105.5L873.1,194.9"/>
<path class="u" d="M817.4,213.4L820.4,215.3 862.8,199.1 859.8,197.2Z"/>
<path class="c2" d="M817.7,213.6L820.1,215.1 862.5,198.9 860.1,197.4ZM817.7,213.6L817.7,306.4 820.1,308 862.5,291.7 862.5,198.9M820.1,215.1L820.1,308"/>
<path class="u" d="M764.3,233.7L767.3,235.6 809.8,219.4 806.8,217.4Z"/>
<path class="c1" d="M764.6,233.9L767,235.4 809.5,219.2 807.1,217.6ZM764.6,233.9L764.6,234.3 767,235.8 809.5,219.6 809.5,219.2M767,235.4L767,235.8"/>
<path class="u" d="M711.3,253.9L714.3,255.8 756.7,239.6 753.7,237.7Z"/>
<path class="c0" d="M711.6,254.1L714,255.7 756.4,239.4 754,237.9ZM711.6,254.1L711.6,254.2 714,255.7 756.4,239.5 756.4,239.4M714,255.7L714,255.7"/>
<path class="u" d="M873.4,107L876.4,109 918.8,92.7 915.8,90.8Z"/>
<path class="c3" d="M873.7,107.2L876.1,108.8 918.5,92.5 916.1,91ZM873.7,107.2L873.7,195.3 876.1,196.8 918.5,180.6 918.5,92.5M876.1,108.8L876.1,196.8"/>
<path class="u" d="M820.4,215.3L823.3,217.3 865.8,201.1 862.8,199.1Z"/>
<path class="c2" d="M820.7,215.5L823,217.1 865.5,200.9 863.1,199.3ZM820.7,215.5L820.7,304.3 823,305.9 865.5,289.7 865.5,200.9M823,217.1L823,305.9"/>
<path class="u" d="M767.3,235.6L770.3,237.6 812.7,221.4 809.8,219.4Z"/>
<path class="c1" d="M767.6,235.8L770,237.4 812.4,221.2 810.1,219.6ZM767.6,235.8L767.6,236.2 770,237.8 812.4,221.5 812.4,221.2M770,237.4L770,237.8"/>
<path class="u" d="M714.3,255.9L717.3,257.8 759.7,241.6 756.7,239.6Z"/>
<path class="c0" d="M714.6,256L717,257.6 759.4,241.4 757,239.8ZM714.6,256L714.6,256.1 717,257.7 759.4,241.5 759.4,241.4M717,257.6L717,257.7"/>
<path class="u" d="M876.4,108.6L879.4,110.5 921.8,94.3 918.8,92.3Z"/>
<path class="c3" d="M876.7,108.8L879.1,110.3 921.5,94.1 919.1,92.5ZM876.7,108.8L876.7,197.2 879.1,198.8 921.5,182.5 921.5,94.1M879.1,110.3L879.1,198.8"/>
<path class="u" d="M823.3,217.3L826.3,219.3 868.8,203 865.8,201.1Z"/>
<path class="c2" d="M823.6,217.5L826,219.1 868.5,202.8 866.1,201.3ZM823.6,217.5L823.6,306.8 826,308.4 868.5,292.1 868.5,202.8M826,219.1L826,308.4"/>
<path class="u" d="M770.3,237.6L773.3,239.5 815.7,223.3 812.7,221.4Z"/>
<path class="c1" d="M770.6,237.8L773,239.3 815.4,223.1 813,221.6ZM770.6,237.8L770.6,238.1 773,239.7 815.4,223.5 815.4,223.1M773,239.3L773,239.7"/>
<path class="u" d="M717.3,257.8L720.3,259.8 762.7,243.5 759.7,241.6Z"/>
<path class="c0" d="M717.6,258L720,259.6 762.4,243.3 760,241.8ZM717.6,258L717.6,258.1 720,259.6 762.4,243.4 762.4,243.3M720,259.6L720,259.6"/>
<path class="u" d="M879.4,106.8L882.3,108.8 924.8,92.6 921.8,90.6Z"/>
<path class="c3" d="M879.7,107L882,108.6 924.5,92.4 922.1,90.8ZM879.7,107L879.7,199.2 882,200.7 924.5,184.5 924.5,92.4M882,108.6L882,200.7"/>
<path class="u" d="M826.3,219.3L829.3,221.2 871.7,205 868.8,203Z"/>
<path class="c2" d="M826.6,219.4L829,221 871.4,204.8 869.1,203.2ZM826.6,219.4L826.6,311.9 829,313.4 871.4,297.2 871.4,204.8M829,221L829,313.4"/>
<path class="u" d="M773.3,239.5L776.3,241.5 818.7,225.3 815.7,223.3Z"/>
<path class="c1" d="M773.6,239.7L776,241.3 818.4,225.1 816,223.5ZM773.6,239.7L773.6,240.1 776,241.6 818.4,225.4 818.4,225.1M776,241.3L776,241.6"/>
<path class="u" d="M720.3,259.8L723.3,261.7 765.7,245.5 762.7,243.5Z"/>
<path class="c0" d="M720.6,260L723,261.5 765.4,245.3 763,243.7ZM720.6,260L720.6,260 723,261.6 765.4,245.4 765.4,245.3M723,261.5L723,261.6"/>
<path class="u" d="M882.3,112L885.3,114 927.8,97.8 924.8,95.8Z"/>
<path class="c3" d="M882.6,112.2L885,113.8 927.5,97.6 925.1,96ZM882.6,112.2L882.6,201.1 885,202.7 927.5,186.4 927.5,97.6M885,113.8L885,202.7"/>
<path class="u" d="M829.3,221.2L832.3,223.2 874.7,206.9 871.7,205Z"/>
<path class="c2" d="M829.6,221.4L832,223 874.4,206.7 872,205.2ZM829.6,221.4L829.6,315.6 832,317.2 874.4,301 874.4,206.7M832,223L832,317.2"/>
<path class="u" d="M776.3,241.5L779.3,243.4 821.7,227.2 818.7,225.3Z"/>
<path class="c1" d="M776.6,241.7L779,243.3 821.4,227 819,225.5ZM776.6,241.7L776.6,242 779,243.6 821.4,227.3 821.4,227M779,243.3L779,243.6"/>
<path class="u" d="M723.3,261.7L726.2,263.7 768.7,247.5 765.7,245.5Z"/>
<path class="c0" d="M723.6,261.9L725.9,263.5 768.4,247.3 766,245.7ZM723.6,261.9L723.6,262 725.9,263.5 768.4,247.3 768.4,247.3M725.9,263.5L725.9,263.5"/>
<path class="u" d="M885.3,109.7L888.3,111.7 930.7,95.5 927.8,93.5Z"/>
<path class="c3" d="M885.6,109.9L888,111.5 930.4,95.3 928.1,93.7ZM885.6,109.9L885.6,203.1 888,204.6 930.4,188.4 930.4,95.3M888,111.5L888,204.6"/>
<path class="u" d="M832.3,223.2L835.3,225.1 877.7,208.9 874.7,206.9Z"/>
<path class="c2" d="M832.6,223.4L835,224.9 877.4,208.7 875,207.1ZM832.6,223.4L832.6,318.8 835,320.4 877.4,304.1 877.4,208.7M835,224.9L835,320.4"/>
<path class="u" d="M779.3,243.4L782.3,245.4 824.7,229.2 821.7,227.2Z"/>
<path class="c1" d="M779.6,243.6L782,245.2 824.4,229 822,227.4ZM779.6,243.6L779.6,243.9 782,245.5 824.4,229.3 824.4,229M782,245.2L782,245.5"/>
<path class="u" d="M726.2,263.7L729.2,265.6 771.7,249.4 768.7,247.5Z"/>
<path class="c0" d="M726.5,263.9L728.9,265.4 771.4,249.2 769,247.7ZM726.5,263.9L726.5,263.9 728.9,265.5 771.4,249.3 771.4,249.2M728.9,265.4L728.9,265.5"/>
<path class="u" d="M888.3,114.8L891.3,116.7 933.7,100.5 930.7,98.5Z"/>
<path class="c3" d="M888.6,115L891,116.5 933.4,100.3 931,98.7ZM888.6,115L888.6,205 891,206.6 933.4,190.3 933.4,100.3M891,116.5L891,206.6"/>
<path class="u" d="M835.3,225.1L838.3,227.1 880.7,210.8 877.7,208.9Z"/>
<path class="c2" d="M835.6,225.3L838,226.9 880.4,210.6 878,209.1ZM835.6,225.3L835.6,321 838,322.6 880.4,306.3 880.4,210.6M838,226.9L838,322.6"/>
<path class="u" d="M782.3,245.4L785.2,247.4 827.7,231.1 824.7,229.2Z"/>
<path class="c1" d="M782.6,245.6L784.9,247.2 827.4,230.9 825,229.4ZM782.6,245.6L782.6,245.9 784.9,247.4 827.4,231.2 827.4,230.9M784.9,247.2L784.9,247.4"/>
<path class="u" d="M729.2,265.6L732.2,267.6 774.6,251.4 771.7,249.4Z"/>
<path class="c0" d="M729.5,265.8L731.9,267.4 774.3,251.2 772,249.6ZM729.5,265.8L729.5,265.9 731.9,267.5 774.3,251.2 774.3,251.2M731.9,267.4L731.9,267.5"/>
<path class="u" d="M891.3,115.5L894.3,117.5 936.7,101.3 933.7,99.3Z"/>
<path class="c3" d="M891.6,115.7L894,117.3 936.4,101.1 934,99.5ZM891.6,115.7L891.6,207 894,208.5 936.4,192.3 936.4,101.1M894,117.3L894,208.5"/>
<path class="u" d="M838.3,227.1L841.3,229 883.7,212.8 880.7,210.8Z"/>
<path class="c2" d="M838.6,227.3L841,228.8 883.4,212.6 881,211ZM838.6,227.3L838.6,322.6 841,324.1 883.4,307.9 883.4,212.6M841,228.8L841,324.1"/>
<path class="u" d="M785.2,247.4L788.2,249.3 830.7,233.1 827.7,231.1Z"/>
<path class="c1" d="M785.5,247.6L787.9,249.1 830.4,232.9 828,231.3ZM785.5,247.6L785.5,247.8 787.9,249.4 830.4,233.1 830.4,232.9M787.9,249.1L787.9,249.4"/>
<path class="u" d="M732.2,267.6L735.2,269.6 777.6,253.3 774.6,251.4Z"/>
<path class="c0" d="M732.5,267.8L734.9,269.4 777.3,253.1 774.9,251.6ZM732.5,267.8L732.5,267.8 734.9,269.4 777.3,253.2 777.3,253.1M734.9,269.4L734.9,269.4"/>
<path class="u" d="M894.3,119.3L897.3,121.2 939.7,105 936.7,103Z"/>
<path class="c3" d="M894.6,119.5L897,121 939.4,104.8 937,103.2ZM894.6,119.5L894.6,208.9 897,210.5 939.4,194.3 939.4,104.8M897,121L897,210.5"/>
<path class="u" d="M841.3,229L844.3,231 886.7,214.7 883.7,212.8Z"/>
<path class="c2" d="M841.6,229.2L844,230.8 886.4,214.5 884,213ZM841.6,229.2L841.6,320.7 844,322.3 886.4,306 886.4,214.5M844,230.8L844,322.3"/>
<path class="u" d="M788.2,249.3L791.2,251.3 833.6,235 830.7,233.1Z"/>
<path class="c1" d="M788.5,249.5L790.9,251.1 833.3,234.8 831,233.3ZM788.5,249.5L788.5,249.7 790.9,251.3 833.3,235.1 833.3,234.8M790.9,251.1L790.9,251.3"/>
<path class="u" d="M735.2,269.6L738.2,271.5 780.6,255.3 777.6,253.3Z"/>
<path class="c0" d="M735.5,269.8L737.9,271.3 780.3,255.1 777.9,253.5ZM735.5,269.8L735.5,269.8 737.9,271.4 780.3,255.1 780.3,255.1M737.9,271.3L737.9,271.4"/>
<path class="u" d="M897.3,118.1L900.3,120 942.7,103.8 939.7,101.8Z"/>
<path class="c3" d="M897.6,118.3L900,119.8 942.4,103.6 940,102ZM897.6,118.3L897.6,210.9 900,212.4 942.4,196.2 942.4,103.6M900,119.8L900,212.4"/>
<path class="u" d="M844.3,231L847.2,232.9 889.7,216.7 886.7,214.7Z"/>
<path class="c2" d="M844.5,231.2L846.9,232.7 889.4,216.5 887,214.9ZM844.5,231.2L844.5,323.2 846.9,324.7 889.4,308.5 889.4,216.5M846.9,232.7L846.9,324.7"/>
<path class="u" d="M791.2,251.3L794.2,253.2 836.6,237 833.6,235Z"/>
<path class="c1" d="M791.5,251.5L793.9,253 836.3,236.8 833.9,235.2ZM791.5,251.5L791.5,251.7 793.9,253.2 836.3,237 836.3,236.8M793.9,253L793.9,253.2"/>
<path class="u" d="M738.2,271.5L741.2,273.5 783.6,257.2 780.6,255.3Z"/>
<path class="c0" d="M738.5,271.7L740.9,273.3 783.3,257 780.9,255.5ZM738.5,271.7L738.5,271.7 740.9,273.3 783.3,257.1 783.3,257M740.9,273.3L740.9,273.3"/>
<path class="u" d="M900.3,119.3L903.3,121.3 945.7,105 942.7,103.1Z"/>
<path class="c3" d="M900.6,119.5L903,121.1 945.4,104.8 943,103.3ZM900.6,119.5L900.6,212.8 903,214.4 945.4,198.2 945.4,104.8M903,121.1L903,214.4"/>
<path class="u" d="M847.2,232.9L850.2,234.9 892.6,218.6 889.7,216.7Z"/>
<path class="c2" d="M847.5,233.1L849.9,234.7 892.3,218.5 890,216.9ZM847.5,233.1L847.5,327.3 849.9,328.9 892.3,312.6 892.3,218.5M849.9,234.7L849.9,328.9"/>
<path class="u" d="M794.2,253.2L797.2,255.2 839.6,238.9 836.6,237Z"/>
<path class="c1" d="M794.5,253.4L796.9,255 839.3,238.7 836.9,237.2ZM794.5,253.4L794.5,253.6 796.9,255.2 839.3,239 839.3,238.7M796.9,255L796.9,255.2"/>
<path class="u" d="M741.2,273.5L744.2,275.4 786.6,259.2 783.6,257.2Z"/>
<path class="c0" d="M741.5,273.7L743.9,275.2 786.3,259 783.9,257.4ZM741.5,273.7L741.5,273.7 743.9,275.3 786.3,259 786.3,259M743.9,275.2L743.9,275.3"/>
<path class="u" d="M903.3,124.2L906.2,126.2 948.7,109.9 945.7,108Z"/>
<path class="c3" d="M903.6,124.4L905.9,126 948.4,109.7 946,108.2ZM903.6,124.4L903.6,214.8 905.9,216.3 948.4,200.1 948.4,109.7M905.9,126L905.9,216.3"/>
<path class="u" d="M850.2,234.9L853.2,236.8 895.6,220.6 892.6,218.6Z"/>
<path class="c2" d="M850.5,235.1L852.9,236.6 895.3,220.4 892.9,218.8ZM850.5,235.1L850.5,328.7 852.9,330.3 895.3,314 895.3,220.4M852.9,236.6L852.9,330.3"/>
<path class="u" d="M797.2,255.2L800.2,257.1 842.6,240.9 839.6,238.9Z"/>
<path class="c1" d="M797.5,255.4L799.9,256.9 842.3,240.7 839.9,239.1ZM797.5,255.4L797.5,255.6 799.9,257.1 842.3,240.9 842.3,240.7M799.9,256.9L799.9,257.1"/>
<path class="u" d="M744.2,275.4L747.1,277.4 789.6,261.2 786.6,259.2Z"/>
<path class="c0" d="M744.5,275.6L746.9,277.2 789.3,261 786.9,259.4ZM744.5,275.6L744.5,275.7 746.9,277.2 789.3,261 789.3,261M746.9,277.2L746.9,277.2"/>
<path class="u" d="M906.2,124.1L909.2,126.1 951.6,109.8 948.7,107.9Z"/>
<path class="c3" d="M906.5,124.3L908.9,125.9 951.4,109.7 949,108.1ZM906.5,124.3L906.5,216.7 908.9,218.3 951.4,202.1 951.4,109.7M908.9,125.9L908.9,218.3"/>
<path class="u" d="M853.2,236.8L856.2,238.8 898.6,222.6 895.6,220.6Z"/>
<path class="c2" d="M853.5,237L855.9,238.6 898.3,222.4 895.9,220.8ZM853.5,237L853.5,331.6 855.9,333.2 898.3,317 898.3,222.4M855.9,238.6L855.9,333.2"/>
<path class="u" d="M800.2,257.1L803.2,259.1 845.6,242.8 842.6,240.9Z"/>
<path class="c1" d="M800.5,257.3L802.9,258.9 845.3,242.6 842.9,241.1ZM800.5,257.3L800.5,257.5 802.9,259.1 845.3,242.8 845.3,242.6M802.9,258.9L802.9,259.1"/>
<path class="u" d="M747.1,277.4L750.1,279.3 792.6,263.1 789.6,261.2Z"/>
<path class="c0" d="M747.4,277.6L749.8,279.1 792.3,262.9 789.9,261.4ZM747.4,277.6L747.4,277.6 749.8,279.2 792.3,262.9 792.3,262.9M749.8,279.1L749.8,279.2"/>
<path class="u" d="M909.2,127.4L912.2,129.3 954.6,113.1 951.6,111.2Z"/>
<path class="c3" d="M909.5,127.6L911.9,129.1 954.3,112.9 951.9,111.3ZM909.5,127.6L909.5,218.7 911.9,220.3 954.3,204 954.3,112.9M911.9,129.1L911.9,220.3"/>
<path class="u" d="M856.2,238.8L859.2,240.7 901.6,224.5 898.6,222.6Z"/>
<path class="c2" d="M856.5,239L858.9,240.5 901.3,224.3 898.9,222.7ZM856.5,239L856.5,334.7 858.9,336.2 901.3,320 901.3,224.3M858.9,240.5L858.9,336.2"/>
<path class="u" d="M803.2,259.1L806.2,261 848.6,244.8 845.6,242.8Z"/>
<path class="c1" d="M803.5,259.3L805.9,260.8 848.3,244.6 845.9,243ZM803.5,259.3L803.5,259.4 805.9,261 848.3,244.8 848.3,244.6M805.9,260.8L805.9,261"/>
<path class="u" d="M750.1,279.3L753.1,281.3 795.5,265.1 792.6,263.1Z"/>
<path class="c0" d="M750.4,279.5L752.8,281.1 795.2,264.9 792.9,263.3ZM750.4,279.5L750.4,279.6 752.8,281.1 795.2,264.9 795.2,264.9M752.8,281.1L752.8,281.1"/>
<path class="u" d="M912.2,127.9L915.2,129.9 957.6,113.7 954.6,111.7Z"/>
<path class="c3" d="M912.5,128.1L914.9,129.7 957.3,113.5 954.9,111.9ZM912.5,128.1L912.5,220.6 914.9,222.2 957.3,206 957.3,113.5M914.9,129.7L914.9,222.2"/>
<path class="u" d="M859.2,240.7L862.2,242.7 904.6,226.5 901.6,224.5Z"/>
<path class="c2" d="M859.5,240.9L861.9,242.5 904.3,226.3 901.9,224.7ZM859.5,240.9L859.5,337.7 861.9,339.3 904.3,323 904.3,226.3M861.9,242.5L861.9,339.3"/>
<path class="u" d="M806.2,261L809.1,263 851.6,246.8 848.6,244.8Z"/>
<path class="c1" d="M806.5,261.2L808.8,262.8 851.3,246.6 848.9,245ZM806.5,261.2L806.5,261.4 808.8,262.9 851.3,246.7 851.3,246.6M808.8,262.8L808.8,262.9"/>
<path class="u" d="M753.1,281.3L756.1,283.3 798.5,267 795.5,265.1Z"/>
<path class="c0" d="M753.4,281.5L755.8,283.1 798.2,266.8 795.8,265.3ZM753.4,281.5L753.4,281.5 755.8,283.1 798.2,266.8 798.2,266.8M755.8,283.1L755.8,283.1"/>
<path class="u" d="M915.2,131.7L918.2,133.6 960.6,117.4 957.6,115.4Z"/>
<path class="c3" d="M915.5,131.9L917.9,133.4 960.3,117.2 957.9,115.6ZM915.5,131.9L915.5,222.6 917.9,224.2 960.3,207.9 960.3,117.2M917.9,133.4L917.9,224.2"/>
<path class="u" d="M862.2,242.7L865.2,244.6 907.6,228.4 904.6,226.5Z"/>
<path class="c2" d="M862.5,242.9L864.9,244.5 907.3,228.2 904.9,226.7ZM862.5,242.9L862.5,340.4 864.9,341.9 907.3,325.7 907.3,228.2M864.9,244.5L864.9,341.9"/>
<path class="u" d="M809.1,263L812.1,264.9 854.5,248.7 851.6,246.8Z"/>
<path class="c1" d="M809.4,263.2L811.8,264.7 854.3,248.5 851.9,246.9ZM809.4,263.2L809.4,263.3 811.8,264.9 854.3,248.6 854.3,248.5M811.8,264.7L811.8,264.9"/>
<path class="u" d="M756.1,283.3L759.1,285.2 801.5,269 798.5,267Z"/>
<path class="c0" d="M756.4,283.5L758.8,285 801.2,268.8 798.8,267.2ZM756.4,283.5L756.4,283.5 758.8,285 801.2,268.8 801.2,268.8M758.8,285L758.8,285"/>
<path class="u" d="M918.2,135.7L921.2,137.6 963.6,121.4 960.6,119.4Z"/>
<path class="c3" d="M918.5,135.9L920.9,137.4 963.3,121.2 960.9,119.6ZM918.5,135.9L918.5,224.6 920.9,226.1 963.3,209.9 963.3,121.2M920.9,137.4L920.9,226.1"/>
<path class="u" d="M865.2,244.6L868.1,246.6 910.6,230.4 907.6,228.4Z"/>
<path class="c2" d="M865.5,244.8L867.8,246.4 910.3,230.2 907.9,228.6ZM865.5,244.8L865.5,340.3 867.8,341.9 910.3,325.6 910.3,230.2M867.8,246.4L867.8,341.9"/>
<path class="u" d="M812.1,264.9L815.1,266.9 857.5,250.7 854.5,248.7Z"/>
<path class="c1" d="M812.4,265.1L814.8,266.7 857.2,250.5 854.8,248.9ZM812.4,265.1L812.4,265.2 814.8,266.8 857.2,250.6 857.2,250.5M814.8,266.7L814.8,266.8"/>
<path class="u" d="M759.1,285.2L762.1,287.2 804.5,270.9 801.5,269Z"/>
<path class="c0" d="M759.4,285.4L761.8,287 804.2,270.7 801.8,269.2ZM759.4,285.4L759.4,285.4 761.8,287 804.2,270.8 804.2,270.7M761.8,287L761.8,287"/>
<path class="u" d="M921.2,138.4L924.2,140.3 966.6,124.1 963.6,122.1Z"/>
<path class="c3" d="M921.5,138.6L923.9,140.1 966.3,123.9 963.9,122.3ZM921.5,138.6L921.5,226.5 923.9,228.1 966.3,211.8 966.3,123.9M923.9,140.1L923.9,228.1"/>
<path class="u" d="M868.1,246.6L871.1,248.6 913.6,232.3 910.6,230.4Z"/>
<path class="c2" d="M868.4,246.8L870.8,248.4 913.3,232.1 910.9,230.6ZM868.4,246.8L868.4,337.8 870.8,339.3 913.3,323.1 913.3,232.1M870.8,248.4L870.8,339.3"/>
<path class="u" d="M815.1,266.9L818.1,268.8 860.5,252.6 857.5,250.7Z"/>
<path class="c1" d="M815.4,267.1L817.8,268.6 860.2,252.4 857.8,250.9ZM815.4,267.1L815.4,267.2 817.8,268.7 860.2,252.5 860.2,252.4M817.8,268.6L817.8,268.7"/>
<path class="u" d="M762.1,287.2L765.1,289.1 807.5,272.9 804.5,270.9Z"/>
<path class="c0" d="M762.4,287.4L764.8,288.9 807.2,272.7 804.8,271.1ZM762.4,287.4L762.4,287.4 764.8,288.9 807.2,272.7 807.2,272.7M764.8,288.9L764.8,288.9"/>
<path class="u" d="M924.2,137.6L927.1,139.5 969.6,123.3 966.6,121.4Z"/>
<path class="c3" d="M924.5,137.8L926.8,139.3 969.3,123.1 966.9,121.5ZM924.5,137.8L924.5,228.5 926.8,230 969.3,213.8 969.3,123.1M926.8,139.3L926.8,230"/>
<path class="u" d="M871.1,248.6L874.1,250.5 916.5,234.3 913.6,232.3Z"/>
<path class="c2" d="M871.4,248.7L873.8,250.3 916.2,234.1 913.9,232.5ZM871.4,248.7L871.4,343.2 873.8,344.7 916.2,328.5 916.2,234.1M873.8,250.3L873.8,344.7"/>
<path class="u" d="M818.1,268.8L821.1,270.8 863.5,254.6 860.5,252.6Z"/>
<path class="c1" d="M818.4,269L820.8,270.6 863.2,254.4 860.8,252.8ZM818.4,269L818.4,269.1 820.8,270.7 863.2,254.4 863.2,254.4M820.8,270.6L820.8,270.7"/>
<path class="u" d="M765.1,289.1L768.1,291.1 810.5,274.8 807.5,272.9Z"/>
<path class="c0" d="M765.4,289.3L767.8,290.9 810.2,274.6 807.8,273.1ZM765.4,289.3L765.4,289.3 767.8,290.9 810.2,274.7 810.2,274.6M767.8,290.9L767.8,290.9"/>
<path class="u" d="M927.1,137.3L930.1,139.2 972.6,123 969.6,121.1Z"/>
<path class="c3" d="M927.4,137.5L929.8,139 972.3,122.8 969.9,121.2ZM927.4,137.5L927.4,230.4 929.8,232 972.3,215.7 972.3,122.8M929.8,139L929.8,232"/>
<path class="u" d="M874.1,250.5L877.1,252.5 919.5,236.2 916.5,234.3Z"/>
<path class="c2" d="M874.4,250.7L876.8,252.3 919.2,236 916.8,234.5ZM874.4,250.7L874.4,348 876.8,349.6 919.2,333.3 919.2,236M876.8,252.3L876.8,349.6"/>
<path class="u" d="M821.1,270.8L824.1,272.7 866.5,256.5 863.5,254.6Z"/>
<path class="c1" d="M821.4,271L823.8,272.6 866.2,256.3 863.8,254.8ZM821.4,271L821.4,271 823.8,272.6 866.2,256.4 866.2,256.3M823.8,272.6L823.8,272.6"/>
<path class="u" d="M768.1,291.1L771,293 813.5,276.8 810.5,274.8Z"/>
<path class="c0" d="M768.4,291.3L770.7,292.8 813.2,276.6 810.8,275ZM768.4,291.3L768.4,291.3 770.7,292.8 813.2,276.6 813.2,276.6M770.7,292.8L770.7,292.8"/>
<path class="u" d="M930.1,141.8L933.1,143.8 975.5,127.6 972.6,125.6Z"/>
<path class="c3" d="M930.4,142L932.8,143.6 975.2,127.4 972.9,125.8ZM930.4,142L930.4,232.4 932.8,233.9 975.2,217.7 975.2,127.4M932.8,143.6L932.8,233.9"/>
<path class="u" d="M877.1,252.5L880.1,254.4 922.5,238.2 919.5,236.2Z"/>
<path class="c2" d="M877.4,252.7L879.8,254.2 922.2,238 919.8,236.4ZM877.4,252.7L877.4,349.7 879.8,351.2 922.2,335 922.2,238M879.8,254.2L879.8,351.2"/>
<path class="u" d="M824.1,272.7L827.1,274.7 869.5,258.5 866.5,256.5Z"/>
<path class="c1" d="M824.4,272.9L826.8,274.5 869.2,258.3 866.8,256.7ZM824.4,272.9L824.4,273 826.8,274.5 869.2,258.3 869.2,258.3M826.8,274.5L826.8,274.5"/>
<path class="u" d="M771,293L774,295 816.5,278.8 813.5,276.8Z"/>
<path class="c0" d="M771.3,293.2L773.7,294.8 816.2,278.6 813.8,277ZM771.3,293.2L771.3,293.2 773.7,294.8 816.2,278.6 816.2,278.6M773.7,294.8L773.7,294.8"/>
<path class="u" d="M933.1,143.8L936.1,145.7 978.5,129.5 975.5,127.5Z"/>
<path class="c3" d="M933.4,144L935.8,145.5 978.2,129.3 975.8,127.7ZM933.4,144L933.4,234.3 935.8,235.9 978.2,219.6 978.2,129.3M935.8,145.5L935.8,235.9"/>
<path class="u" d="M880.1,254.4L883.1,256.4 925.5,240.1 922.5,238.2Z"/>
<path class="c2" d="M880.4,254.6L882.8,256.2 925.2,239.9 922.8,238.4ZM880.4,254.6L880.4,352.8 882.8,354.4 925.2,338.1 925.2,239.9M882.8,256.2L882.8,354.4"/>
<path class="u" d="M827.1,274.7L830,276.7 872.5,260.4 869.5,258.5Z"/>
<path class="c1" d="M827.4,274.9L829.7,276.5 872.2,260.2 869.8,258.7ZM827.4,274.9L827.4,274.9 829.7,276.5 872.2,260.2 872.2,260.2M829.7,276.5L829.7,276.5"/>
<path class="u" d="M774,295L777,296.9 819.4,280.7 816.5,278.8Z"/>
<path class="c0" d="M774.3,295.2L776.7,296.7 819.1,280.5 816.7,278.9ZM774.3,295.2L774.3,295.2 776.7,296.8 819.1,280.5 819.1,280.5M776.7,296.7L776.7,296.8"/>
<path class="u" d="M936.1,145.3L938.8,147 981.2,130.8 978.5,129Z"/>
<path class="c3" d="M936.4,145.5L938.8,147 981.2,130.8 978.8,129.2ZM936.4,145.5L936.4,236.3 938.8,237.8 981.2,221.6 981.2,130.8M938.8,147L938.8,237.8"/>
<path class="u" d="M883.1,256.4L885.8,258.1 928.2,241.9 925.5,240.1Z"/>
<path class="c2" d="M883.4,256.6L885.8,258.1 928.2,241.9 925.8,240.3ZM883.4,256.6L883.4,353.9 885.8,355.5 928.2,339.3 928.2,241.9M885.8,258.1L885.8,355.5"/>
<path class="u" d="M830,276.7L832.7,278.4 875.2,262.2 872.5,260.4Z"/>
<path class="c1" d="M830.3,276.9L832.7,278.4 875.2,262.2 872.8,260.6Z"/>
<path class="u" d="M777,296.9L779.7,298.7 822.1,282.5 819.4,280.7Z"/>
<path class="c0" d="M777.3,297.1L779.7,298.7 822.1,282.5 819.7,280.9ZM777.3,297.1L777.3,297.1 779.7,298.7 822.1,282.5 822.1,282.5M779.7,298.7L779.7,298.7"/>
<path class="a" d="M626.2,307.7L626.2,88.9M626.2,307.7L780,408.3M780,408.3L981.5,331.2M626.2,307.7L621.2,304.4M626.2,198.3L621.2,195M626.2,88.9L621.2,85.6M626.2,307.7L620.6,309.8M775.5,405.4L769.9,407.5M801.2,400.2L806.2,403.5M854.2,379.9L859.3,383.2M907.3,359.6L912.3,362.9M960.3,339.3L965.3,342.6"/>
<path class="g" d="M116.2,846.1L116.2,628.7M169.1,826.2L169.1,608.8M222,806.3L222,588.9M274.9,786.4L274.9,569M95,854.1L296,778.5M95,745.4L296,669.7M95,636.6L296,561M326.8,798.7L326.8,581.2M357.7,818.8L357.7,601.4M388.5,839L388.5,621.5M419.3,859.2L419.3,641.7M296,778.5L450.1,879.4M296,669.7L450.1,770.6M296,561L450.1,661.9M116.2,846.1L270.3,947M169.1,826.2L323.2,927.1M222,806.3L376.1,907.2M274.9,786.4L429,887.3M125.8,874.3L326.8,798.7M156.6,894.5L357.7,818.8M187.5,914.6L388.5,839M218.3,934.8L419.3,859.2"/>
<path class="c3" d="M272.2,697.8L296.8,713.9 339.2,698 314.5,681.8Z"/>
<path class="c2" d="M219.3,717.7L243.9,733.8 286.3,717.9 261.6,701.7Z"/>
<path class="c1" d="M166.4,736.8L191,752.9 233.4,737 208.7,720.8ZM166.4,736.8L166.4,737.6 191,753.7 233.4,737.8 233.4,737M191,752.9L191,753.7"/>
<path class="c0" d="M113.5,757.5L138.1,773.6 180.5,757.7 155.8,741.5Z"/>
<path class="c3" d="M303,717.9L327.7,734.1 370,718.2 345.3,702Z"/>
<path class="c2" d="M250.1,718.8L274.8,735 317.1,719 292.4,702.9ZM250.1,718.8L250.1,737.8 274.8,754 317.1,738.1 317.1,719M274.8,735L274.8,754"/>
<path class="c1" d="M197.2,757.7L221.9,773.9 264.2,758 239.5,741.8ZM197.2,757.7L197.2,803.4 221.9,819.6 264.2,803.6 264.2,758M221.9,773.9L221.9,819.6"/>
<path class="c0" d="M144.3,751L169,767.2 211.3,751.2 186.6,735.1ZM144.3,751L144.3,777.6 169,793.8 211.3,777.9 211.3,751.2M169,767.2L169,793.8"/>
<path class="c3" d="M333.8,737L358.5,753.2 400.8,737.3 376.2,721.1ZM333.8,737L333.8,738.1 358.5,754.3 400.8,738.4 400.8,737.3M358.5,753.2L358.5,754.3"/>
<path class="c2" d="M280.9,758L305.6,774.2 347.9,758.3 323.3,742.1ZM280.9,758L280.9,776 305.6,792.1 347.9,776.2 347.9,758.3M305.6,774.2L305.6,792.1"/>
<path class="c1" d="M228,672.5L252.7,688.6 295,672.7 270.4,656.5ZM228,672.5L228,777.9 252.7,794.1 295,778.2 295,672.7M252.7,688.6L252.7,794.1"/>
<path class="c0" d="M175.1,797.8L199.8,814 242.1,798.1 217.5,781.9ZM175.1,797.8L175.1,879.4 199.8,895.5 242.1,879.6 242.1,798.1M199.8,814L199.8,895.5"/>
<path class="c3" d="M364.7,751.2L389.3,767.4 431.6,751.5 407,735.3ZM364.7,751.2L364.7,758.3 389.3,774.5 431.6,758.5 431.6,751.5M389.3,767.4L389.3,774.5"/>
<path class="c2" d="M311.8,734.7L336.4,750.9 378.7,734.9 354.1,718.8ZM311.8,734.7L311.8,778.2 336.4,794.4 378.7,778.4 378.7,734.9M336.4,750.9L336.4,794.4"/>
<path class="c1" d="M258.9,798.1L283.5,814.3 325.8,798.3 301.2,782.2ZM258.9,798.1L258.9,883.5 283.5,899.6 325.8,883.7 325.8,798.3M283.5,814.3L283.5,899.6"/>
<path class="c0" d="M206,785.9L230.6,802.1 272.9,786.2 248.3,770ZM206,785.9L206,818 230.6,834.2 272.9,818.2 272.9,786.2M230.6,802.1L230.6,834.2"/>
<path class="a" d="M95,854.1L95,636.6M95,854.1L249.1,955M249.1,955L450.1,879.4M95,854.1L90,850.8M95,745.4L90,742.1M95,636.6L90,633.3M125.8,874.3L120.2,876.4M156.6,894.5L151,896.6M187.5,914.6L181.8,916.8M218.3,934.8L212.7,936.9M270.3,947L275.3,950.3M323.2,927.1L328.2,930.4M376.1,907.2L381.1,910.5M429,887.3L434,890.6"/>
<path class="g" d="M647.4,850.1L647.4,631.3M700.4,829.8L700.4,611M753.5,809.5L753.5,590.7M806.5,789.2L806.5,570.4M626.2,858.2L827.7,781.1M626.2,748.8L827.7,671.7M626.2,639.4L827.7,562.3M827.7,781.1L827.7,562.3M977,878.8L977,660M827.7,781.1L981.5,881.7M827.7,671.7L981.5,772.3M827.7,562.3L981.5,662.9M647.4,850.1L801.2,950.7M700.4,829.8L854.2,930.4M753.5,809.5L907.3,910.1M806.5,789.2L960.3,889.8M626.2,858.2L827.7,781.1M775.5,955.9L977,878.8"/>
<path class="u" d="M787.1,687.5L789.8,689.2 832.2,673 829.5,671.2Z"/>
<path class="c3" d="M787.1,687.5L789.5,689 831.9,672.8 829.5,671.2ZM787.1,687.5L787.1,689.1 789.5,690.7 831.9,674.4 831.9,672.8M789.5,689L789.5,690.7"/>
<path class="u" d="M734.1,709.4L736.7,711.2 779.2,694.9 776.5,693.2Z"/>
<path class="c2" d="M734.1,709.4L736.4,711 778.9,694.7 776.5,693.2Z"/>
<path class="u" d="M681,728.9L683.7,730.6 726.1,714.4 723.4,712.6Z"/>
<path class="c1" d="M681,728.9L683.4,730.4 725.8,714.2 723.4,712.6ZM681,728.9L681,729.7 683.4,731.2 725.8,715 725.8,714.2M683.4,730.4L683.4,731.2"/>
<path class="u" d="M628,750L630.7,751.7 673.1,735.5 670.4,733.7Z"/>
<path class="c0" d="M628,750L630.4,751.5 672.8,735.3 670.4,733.7Z"/>
<path class="u" d="M789.8,689.2L792.8,691.2 835.2,674.9 832.2,673Z"/>
<path class="c3" d="M790.1,689.4L792.5,691 834.9,674.7 832.5,673.2ZM790.1,689.4L790.1,691.1 792.5,692.6 834.9,676.4 834.9,674.7M792.5,691L792.5,692.6"/>
<path class="u" d="M736.7,692L739.7,694 782.2,677.7 779.2,675.8Z"/>
<path class="c2" d="M737,692.2L739.4,693.8 781.9,677.5 779.5,676ZM737,692.2L737,711.3 739.4,712.9 781.9,696.7 781.9,677.5M739.4,693.8L739.4,712.9"/>
<path class="u" d="M683.7,731.4L686.7,733.4 729.1,717.2 726.1,715.2Z"/>
<path class="c1" d="M684,731.6L686.4,733.2 728.8,717 726.4,715.4ZM684,731.6L684,777.6 686.4,779.1 728.8,762.9 728.8,717M686.4,733.2L686.4,779.1"/>
<path class="u" d="M630.7,724.9L633.7,726.9 676.1,710.6 673.1,708.7Z"/>
<path class="c0" d="M631,725.1L633.4,726.7 675.8,710.5 673.4,708.9ZM631,725.1L631,751.9 633.4,753.5 675.8,737.3 675.8,710.5M633.4,726.7L633.4,753.5"/>
<path class="u" d="M792.8,691.7L795.7,693.7 838.2,677.4 835.2,675.5Z"/>
<path class="c3" d="M793.1,691.9L795.4,693.5 837.9,677.2 835.5,675.7ZM793.1,691.9L793.1,693 795.4,694.6 837.9,678.3 837.9,677.2M795.4,693.5L795.4,694.6"/>
<path class="u" d="M739.7,713.1L742.7,715.1 785.1,698.8 782.2,696.9Z"/>
<path class="c2" d="M740,713.3L742.4,714.9 784.8,698.6 782.4,697.1ZM740,713.3L740,731.3 742.4,732.9 784.8,716.7 784.8,698.6M742.4,714.9L742.4,732.9"/>
<path class="u" d="M686.7,627.3L689.7,629.2 732.1,613 729.1,611Z"/>
<path class="c1" d="M687,627.5L689.4,629 731.8,612.8 729.4,611.2ZM687,627.5L687,733.6 689.4,735.2 731.8,718.9 731.8,612.8M689.4,629L689.4,735.2"/>
<path class="u" d="M633.7,753.7L636.7,755.6 679.1,739.4 676.1,737.5Z"/>
<path class="c0" d="M634,753.9L636.4,755.4 678.8,739.2 676.4,737.6ZM634,753.9L634,835.9 636.4,837.5 678.8,821.3 678.8,739.2M636.4,755.4L636.4,837.5"/>
<path class="u" d="M795.7,687.7L798.7,689.6 841.2,673.4 838.2,671.4Z"/>
<path class="c3" d="M796,687.9L798.4,689.4 840.9,673.2 838.5,671.6ZM796,687.9L796,695 798.4,696.5 840.9,680.3 840.9,673.2M798.4,689.4L798.4,696.5"/>
<path class="u" d="M742.7,671.3L745.7,673.3 788.1,657 785.1,655.1Z"/>
<path class="c2" d="M743,671.5L745.4,673.1 787.8,656.8 785.4,655.3ZM743,671.5L743,715.3 745.4,716.8 787.8,700.6 787.8,656.8M745.4,673.1L745.4,716.8"/>
<path class="u" d="M689.7,735.3L692.7,737.3 735.1,721.1 732.1,719.1Z"/>
<path class="c1" d="M690,735.5L692.4,737.1 734.8,720.9 732.4,719.3ZM690,735.5L690,821.4 692.4,823 734.8,806.8 734.8,720.9M692.4,737.1L692.4,823"/>
<path class="u" d="M636.7,723.4L639.6,725.3 682.1,709.1 679.1,707.1Z"/>
<path class="c0" d="M637,723.6L639.3,725.1 681.8,708.9 679.4,707.3ZM637,723.6L637,755.8 639.3,757.4 681.8,741.2 681.8,708.9M639.3,725.1L639.3,757.4"/>
<path class="u" d="M798.7,693.4L801.7,695.4 844.1,679.2 841.2,677.2Z"/>
<path class="c3" d="M799,693.6L801.4,695.2 843.8,679 841.5,677.4ZM799,693.6L799,696.9 801.4,698.5 843.8,682.2 843.8,679M801.4,695.2L801.4,698.5"/>
<path class="u" d="M745.7,717L748.7,719 791.1,702.7 788.1,700.8Z"/>
<path class="c2" d="M746,717.2L748.4,718.8 790.8,702.5 788.4,701ZM746,717.2L746,719.4 748.4,721 790.8,704.7 790.8,702.5M748.4,718.8L748.4,721"/>
<path class="u" d="M692.7,737.3L695.7,739.3 738.1,723 735.1,721.1Z"/>
<path class="c1" d="M693,737.5L695.4,739.1 737.8,722.8 735.4,721.3ZM693,737.5L693,743.5 695.4,745.1 737.8,728.8 737.8,722.8M695.4,739.1L695.4,745.1"/>
<path class="u" d="M639.6,757.6L642.6,759.5 685,743.3 682.1,741.4Z"/>
<path class="c0" d="M639.9,757.8L642.3,759.3 684.8,743.1 682.4,741.6Z"/>
<path class="u" d="M801.7,692.1L804.7,694.1 847.1,677.8 844.1,675.9Z"/>
<path class="c3" d="M802,692.3L804.4,693.9 846.8,677.6 844.4,676.1ZM802,692.3L802,698.9 804.4,700.4 846.8,684.2 846.8,677.6M804.4,693.9L804.4,700.4"/>
<path class="u" d="M748.7,719L751.7,720.9 794.1,704.7 791.1,702.7Z"/>
<path class="c2" d="M749,719.2L751.4,720.7 793.8,704.5 791.4,702.9ZM749,719.2L749,722.4 751.4,724 793.8,707.8 793.8,704.5M751.4,720.7L751.4,724"/>
<path class="u" d="M695.7,739.3L698.6,741.2 741.1,725 738.1,723Z"/>
<path class="c1" d="M696,739.4L698.3,741 740.8,724.8 738.4,723.2ZM696,739.4L696,745.7 698.3,747.3 740.8,731.1 740.8,724.8M698.3,741L698.3,747.3"/>
<path class="u" d="M642.6,759.5L645.6,761.5 688,745.3 685,743.3Z"/>
<path class="c0" d="M642.9,759.7L645.3,761.3 687.7,745.1 685.3,743.5Z"/>
<path class="u" d="M804.7,696.8L807.7,698.8 850.1,682.5 847.1,680.6Z"/>
<path class="c3" d="M805,697L807.4,698.6 849.8,682.3 847.4,680.8ZM805,697L805,700.8 807.4,702.4 849.8,686.2 849.8,682.3M807.4,698.6L807.4,702.4"/>
<path class="u" d="M751.7,720.9L754.7,722.9 797.1,706.6 794.1,704.7Z"/>
<path class="c2" d="M752,721.1L754.4,722.7 796.8,706.4 794.4,704.9ZM752,721.1L752,725.5 754.4,727.1 796.8,710.8 796.8,706.4M754.4,722.7L754.4,727.1"/>
<path class="u" d="M698.6,741.2L701.6,743.2 744.1,726.9 741.1,725Z"/>
<path class="c1" d="M698.9,741.4L701.3,743 743.8,726.7 741.4,725.2ZM698.9,741.4L698.9,748 701.3,749.5 743.8,733.3 743.8,726.7M701.3,743L701.3,749.5"/>
<path class="u" d="M645.6,761.5L648.6,763.5 691,747.2 688,745.3Z"/>
<path class="c0" d="M645.9,761.7L648.3,763.3 690.7,747 688.3,745.5Z"/>
<path class="u" d="M807.7,698.2L810.7,700.2 853.1,683.9 850.1,682Z"/>
<path class="c3" d="M808,698.4L810.4,700 852.8,683.7 850.4,682.2ZM808,698.4L808,702.8 810.4,704.3 852.8,688.1 852.8,683.7M810.4,700L810.4,704.3"/>
<path class="u" d="M754.7,722.9L757.6,724.8 800.1,708.6 797.1,706.6Z"/>
<path class="c2" d="M755,723.1L757.3,724.6 799.8,708.4 797.4,706.8ZM755,723.1L755,729.1 757.3,730.6 799.8,714.4 799.8,708.4M757.3,724.6L757.3,730.6"/>
<path class="u" d="M701.6,743.2L704.6,745.1 747,728.9 744.1,726.9Z"/>
<path class="c1" d="M701.9,743.4L704.3,744.9 746.7,728.7 744.4,727.1ZM701.9,743.4L701.9,749.2 704.3,750.7 746.7,734.5 746.7,728.7M704.3,744.9L704.3,750.7"/>
<path class="u" d="M648.6,763.5L651.6,765.4 694,749.2 691,747.2Z"/>
<path class="c0" d="M648.9,763.6L651.3,765.2 693.7,749 691.3,747.4Z"/>
<path class="u" d="M810.7,699.1L813.7,701 856.1,684.8 853.1,682.8Z"/>
<path class="c3" d="M811,699.3L813.4,700.8 855.8,684.6 853.4,683ZM811,699.3L811,704.7 813.4,706.3 855.8,690.1 855.8,684.6M813.4,700.8L813.4,706.3"/>
<path class="u" d="M757.6,724.8L760.6,726.8 803.1,710.5 800.1,708.6Z"/>
<path class="c2" d="M757.9,725L760.3,726.6 802.8,710.3 800.4,708.8ZM757.9,725L757.9,730.1 760.3,731.6 802.8,715.4 802.8,710.3M760.3,726.6L760.3,731.6"/>
<path class="u" d="M704.6,745.1L707.6,747.1 750,730.8 747,728.9Z"/>
<path class="c1" d="M704.9,745.3L707.3,746.9 749.7,730.6 747.3,729.1ZM704.9,745.3L704.9,750.4 707.3,751.9 749.7,735.7 749.7,730.6M707.3,746.9L707.3,751.9"/>
<path class="u" d="M651.6,765.4L654.6,767.4 697,751.1 694,749.2Z"/>
<path class="c0" d="M651.9,765.6L654.3,767.2 696.7,750.9 694.3,749.4Z"/>
<path class="u" d="M813.7,699.9L816.6,701.9 859.1,685.6 856.1,683.7Z"/>
<path class="c3" d="M814,700.1L816.3,701.7 858.8,685.4 856.4,683.9ZM814,700.1L814,706.7 816.3,708.2 858.8,692 858.8,685.4M816.3,701.7L816.3,708.2"/>
<path class="u" d="M760.6,726.8L763.6,728.7 806,712.5 803.1,710.5Z"/>
<path class="c2" d="M760.9,727L763.3,728.5 805.7,712.3 803.4,710.7ZM760.9,727L760.9,733 763.3,734.6 805.7,718.3 805.7,712.3M763.3,728.5L763.3,734.6"/>
<path class="u" d="M707.6,747.1L710.6,749 753,732.8 750,730.8Z"/>
<path class="c1" d="M707.9,747.3L710.3,748.8 752.7,732.6 750.3,731ZM707.9,747.3L707.9,751.6 710.3,753.1 752.7,736.9 752.7,732.6M710.3,748.8L710.3,753.1"/>
<path class="u" d="M654.6,767.4L657.6,769.3 700,753.1 697,751.1Z"/>
<path class="c0" d="M654.9,767.6L657.3,769.1 699.7,752.9 697.3,751.3Z"/>
<path class="u" d="M816.6,700.2L819.6,702.2 862.1,686 859.1,684Z"/>
<path class="c3" d="M816.9,700.4L819.3,702 861.8,685.8 859.4,684.2ZM816.9,700.4L816.9,708.6 819.3,710.2 861.8,694 861.8,685.8M819.3,702L819.3,710.2"/>
<path class="u" d="M763.6,728.7L766.6,730.7 809,714.5 806,712.5Z"/>
<path class="c2" d="M763.9,728.9L766.3,730.5 808.7,714.3 806.3,712.7ZM763.9,728.9L763.9,736.5 766.3,738 808.7,721.8 808.7,714.3M766.3,730.5L766.3,738"/>
<path class="u" d="M710.6,749L713.6,751 756,734.7 753,732.8Z"/>
<path class="c1" d="M710.9,749.2L713.3,750.8 755.7,734.5 753.3,733ZM710.9,749.2L710.9,752.8 713.3,754.3 755.7,738.1 755.7,734.5M713.3,750.8L713.3,754.3"/>
<path class="u" d="M657.6,769.3L660.5,771.3 703,755 700,753.1Z"/>
<path class="c0" d="M657.9,769.5L660.2,771.1 702.7,754.8 700.3,753.3Z"/>
<path class="u" d="M819.6,700.5L822.6,702.5 865,686.3 862.1,684.3Z"/>
<path class="c3" d="M819.9,700.7L822.3,702.3 864.7,686.1 862.4,684.5ZM819.9,700.7L819.9,710.6 822.3,712.2 864.7,695.9 864.7,686.1M822.3,702.3L822.3,712.2"/>
<path class="u" d="M766.6,730.7L769.6,732.6 812,716.4 809,714.5Z"/>
<path class="c2" d="M766.9,730.9L769.3,732.4 811.7,716.2 809.3,714.6ZM766.9,730.9L766.9,739.9 769.3,741.5 811.7,725.3 811.7,716.2M769.3,732.4L769.3,741.5"/>
<path class="u" d="M713.6,751L716.6,752.9 759,736.7 756,734.7Z"/>
<path class="c1" d="M713.9,751.2L716.3,752.7 758.7,736.5 756.3,734.9ZM713.9,751.2L713.9,754 716.3,755.5 758.7,739.3 758.7,736.5M716.3,752.7L716.3,755.5"/>
<path class="u" d="M660.5,771.3L663.5,773.2 706,757 703,755Z"/>
<path class="c0" d="M660.8,771.5L663.2,773 705.7,756.8 703.3,755.2Z"/>
<path class="u" d="M822.6,700.3L825.6,702.3 868,686 865,684.1Z"/>
<path class="c3" d="M822.9,700.5L825.3,702.1 867.7,685.8 865.3,684.3ZM822.9,700.5L822.9,712.5 825.3,714.1 867.7,697.9 867.7,685.8M825.3,702.1L825.3,714.1"/>
<path class="u" d="M769.6,732.6L772.6,734.6 815,718.4 812,716.4Z"/>
<path class="c2" d="M769.9,732.8L772.3,734.4 814.7,718.2 812.3,716.6ZM769.9,732.8L769.9,743.9 772.3,745.5 814.7,729.2 814.7,718.2M772.3,734.4L772.3,745.5"/>
<path class="u" d="M716.6,752.9L719.5,754.9 762,738.6 759,736.7Z"/>
<path class="c1" d="M716.9,753.1L719.2,754.7 761.7,738.5 759.3,736.9ZM716.9,753.1L716.9,755.2 719.2,756.7 761.7,740.5 761.7,738.5M719.2,754.7L719.2,756.7"/>
<path class="u" d="M663.5,773.2L666.5,775.2 708.9,758.9 706,757Z"/>
<path class="c0" d="M663.8,773.4L666.2,775 708.6,758.7 706.3,757.2Z"/>
<path class="u" d="M825.6,699.7L828.6,701.6 871,685.4 868,683.4Z"/>
<path class="c3" d="M825.9,699.9L828.3,701.4 870.7,685.2 868.3,683.6ZM825.9,699.9L825.9,714.5 828.3,716.1 870.7,699.8 870.7,685.2M828.3,701.4L828.3,716.1"/>
<path class="u" d="M772.6,734.6L775.6,736.5 818,720.3 815,718.4Z"/>
<path class="c2" d="M772.9,734.8L775.3,736.3 817.7,720.1 815.3,718.6ZM772.9,734.8L772.9,748.2 775.3,749.8 817.7,733.6 817.7,720.1M775.3,736.3L775.3,749.8"/>
<path class="u" d="M719.5,754.9L722.5,756.8 765,740.6 762,738.6Z"/>
<path class="c1" d="M719.8,755.1L722.2,756.6 764.7,740.4 762.3,738.8ZM719.8,755.1L719.8,756.4 722.2,757.9 764.7,741.7 764.7,740.4M722.2,756.6L722.2,757.9"/>
<path class="u" d="M666.5,775.2L669.5,777.1 711.9,760.9 708.9,758.9Z"/>
<path class="c0" d="M666.8,775.4L669.2,776.9 711.6,760.7 709.2,759.1Z"/>
<path class="u" d="M828.6,700.6L831.6,702.6 874,686.3 871,684.4Z"/>
<path class="c3" d="M828.9,700.8L831.3,702.4 873.7,686.1 871.3,684.6ZM828.9,700.8L828.9,716.4 831.3,718 873.7,701.8 873.7,686.1M831.3,702.4L831.3,718"/>
<path class="u" d="M775.6,736.5L778.5,738.5 821,722.3 818,720.3Z"/>
<path class="c2" d="M775.9,736.7L778.3,738.3 820.7,722.1 818.3,720.5ZM775.9,736.7L775.9,751.1 778.3,752.7 820.7,736.5 820.7,722.1M778.3,738.3L778.3,752.7"/>
<path class="u" d="M722.5,756.8L725.5,758.8 767.9,742.6 765,740.6Z"/>
<path class="c1" d="M722.8,757L725.2,758.6 767.6,742.4 765.3,740.8ZM722.8,757L722.8,757.6 725.2,759.1 767.6,742.9 767.6,742.4M725.2,758.6L725.2,759.1"/>
<path class="u" d="M669.5,777.1L672.5,779.1 714.9,762.8 711.9,760.9Z"/>
<path class="c0" d="M669.8,777.3L672.2,778.9 714.6,762.7 712.2,761.1Z"/>
<path class="u" d="M831.6,702.4L834.6,704.3 877,688.1 874,686.1Z"/>
<path class="c3" d="M831.9,702.6L834.3,704.1 876.7,687.9 874.3,686.3ZM831.9,702.6L831.9,718.4 834.3,720 876.7,703.7 876.7,687.9M834.3,704.1L834.3,720"/>
<path class="u" d="M778.5,738.5L781.5,740.5 824,724.2 821,722.3Z"/>
<path class="c2" d="M778.8,738.7L781.2,740.3 823.7,724 821.3,722.5ZM778.8,738.7L778.8,753.3 781.2,754.8 823.7,738.6 823.7,724M781.2,740.3L781.2,754.8"/>
<path class="u" d="M725.5,758.8L728.5,760.7 770.9,744.5 767.9,742.6Z"/>
<path class="c1" d="M725.8,759L728.2,760.5 770.6,744.3 768.2,742.8ZM725.8,759L725.8,759.5 728.2,761.1 770.6,744.8 770.6,744.3M728.2,760.5L728.2,761.1"/>
<path class="u" d="M672.5,779.1L675.5,781 717.9,764.8 714.9,762.8Z"/>
<path class="c0" d="M672.8,779.3L675.2,780.8 717.6,764.6 715.2,763Z"/>
<path class="u" d="M834.6,703.9L837.6,705.9 880,689.6 877,687.7Z"/>
<path class="c3" d="M834.9,704.1L837.3,705.7 879.7,689.4 877.3,687.9ZM834.9,704.1L834.9,720.4 837.3,721.9 879.7,705.7 879.7,689.4M837.3,705.7L837.3,721.9"/>
<path class="u" d="M781.5,740.5L784.5,742.4 826.9,726.2 824,724.2Z"/>
<path class="c2" d="M781.8,740.6L784.2,742.2 826.6,726 824.3,724.4ZM781.8,740.6L781.8,755.6 784.2,757.2 826.6,740.9 826.6,726M784.2,742.2L784.2,757.2"/>
<path class="u" d="M728.5,760.7L731.5,762.7 773.9,746.5 770.9,744.5Z"/>
<path class="c1" d="M728.8,760.9L731.2,762.5 773.6,746.3 771.2,744.7ZM728.8,760.9L728.8,761.5 731.2,763 773.6,746.8 773.6,746.3M731.2,762.5L731.2,763"/>
<path class="u" d="M675.5,781L678.5,783 720.9,766.8 717.9,764.8Z"/>
<path class="c0" d="M675.8,781.2L678.2,782.8 720.6,766.6 718.2,765Z"/>
<path class="u" d="M837.6,703.2L840.5,705.1 883,688.9 880,686.9Z"/>
<path class="c3" d="M837.9,703.4L840.2,704.9 882.7,688.7 880.3,687.1ZM837.9,703.4L837.9,722.3 840.2,723.9 882.7,707.6 882.7,688.7M840.2,704.9L840.2,723.9"/>
<path class="u" d="M784.5,742.4L787.5,744.4 829.9,728.1 826.9,726.2Z"/>
<path class="c2" d="M784.8,742.6L787.2,744.2 829.6,727.9 827.2,726.4ZM784.8,742.6L784.8,760 787.2,761.6 829.6,745.4 829.6,727.9M787.2,744.2L787.2,761.6"/>
<path class="u" d="M731.5,762.7L734.5,764.6 776.9,748.4 773.9,746.5Z"/>
<path class="c1" d="M731.8,762.9L734.2,764.5 776.6,748.2 774.2,746.7ZM731.8,762.9L731.8,763.4 734.2,765 776.6,748.7 776.6,748.2M734.2,764.5L734.2,765"/>
<path class="u" d="M678.5,783L681.4,784.9 723.9,768.7 720.9,766.8Z"/>
<path class="c0" d="M678.8,783.2L681.1,784.7 723.6,768.5 721.2,766.9Z"/>
<path class="u" d="M840.5,706.4L843.5,708.3 885.9,692.1 883,690.1Z"/>
<path class="c3" d="M840.8,706.6L843.2,708.1 885.7,691.9 883.3,690.3ZM840.8,706.6L840.8,724.3 843.2,725.8 885.7,709.6 885.7,691.9M843.2,708.1L843.2,725.8"/>
<path class="u" d="M787.5,744.4L790.5,746.3 832.9,730.1 829.9,728.1Z"/>
<path class="c2" d="M787.8,744.6L790.2,746.1 832.6,729.9 830.2,728.3ZM787.8,744.6L787.8,760.8 790.2,762.4 832.6,746.2 832.6,729.9M790.2,746.1L790.2,762.4"/>
<path class="u" d="M734.5,764.6L737.5,766.6 779.9,750.4 776.9,748.4Z"/>
<path class="c1" d="M734.8,764.8L737.2,766.4 779.6,750.2 777.2,748.6ZM734.8,764.8L734.8,765.3 737.2,766.9 779.6,750.7 779.6,750.2M737.2,766.4L737.2,766.9"/>
<path class="u" d="M681.4,784.9L684.4,786.9 726.9,770.7 723.9,768.7Z"/>
<path class="c0" d="M681.7,785.1L684.1,786.7 726.6,770.5 724.2,768.9Z"/>
<path class="u" d="M843.5,708.1L846.5,710.1 888.9,693.9 885.9,691.9Z"/>
<path class="c3" d="M843.8,708.3L846.2,709.9 888.6,693.7 886.2,692.1ZM843.8,708.3L843.8,726.2 846.2,727.8 888.6,711.5 888.6,693.7M846.2,709.9L846.2,727.8"/>
<path class="u" d="M790.5,746.3L793.5,748.3 835.9,732 832.9,730.1Z"/>
<path class="c2" d="M790.8,746.5L793.2,748.1 835.6,731.8 833.2,730.3ZM790.8,746.5L790.8,763 793.2,764.5 835.6,748.3 835.6,731.8M793.2,748.1L793.2,764.5"/>
<path class="u" d="M737.5,766.6L740.5,768.6 782.9,752.3 779.9,750.4Z"/>
<path class="c1" d="M737.8,766.8L740.2,768.4 782.6,752.1 780.2,750.6ZM737.8,766.8L737.8,767.3 740.2,768.8 782.6,752.6 782.6,752.1M740.2,768.4L740.2,768.8"/>
<path class="u" d="M684.4,786.9L687.4,788.8 729.8,772.6 726.9,770.7Z"/>
<path class="c0" d="M684.7,787.1L687.1,788.6 729.5,772.4 727.2,770.9Z"/>
<path class="u" d="M846.5,708.2L849.5,710.1 891.9,693.9 888.9,692Z"/>
<path class="c3" d="M846.8,708.4L849.2,709.9 891.6,693.7 889.2,692.2ZM846.8,708.4L846.8,728.2 849.2,729.7 891.6,713.5 891.6,693.7M849.2,709.9L849.2,729.7"/>
<path class="u" d="M793.5,748.3L796.5,750.2 838.9,734 835.9,732Z"/>
<path class="c2" d="M793.8,748.5L796.2,750 838.6,733.8 836.2,732.2ZM793.8,748.5L793.8,766.7 796.2,768.2 838.6,752 838.6,733.8M796.2,750L796.2,768.2"/>
<path class="u" d="M740.5,768.6L743.4,770.5 785.9,754.3 782.9,752.3Z"/>
<path class="c1" d="M740.8,768.8L743.1,770.3 785.6,754.1 783.2,752.5ZM740.8,768.8L740.8,769.2 743.1,770.8 785.6,754.5 785.6,754.1M743.1,770.3L743.1,770.8"/>
<path class="u" d="M687.4,788.8L690.4,790.8 732.8,774.6 729.8,772.6Z"/>
<path class="c0" d="M687.7,789L690.1,790.6 732.5,774.4 730.1,772.8Z"/>
<path class="u" d="M849.5,710L852.5,711.9 894.9,695.7 891.9,693.8Z"/>
<path class="c3" d="M849.8,710.2L852.2,711.7 894.6,695.5 892.2,693.9ZM849.8,710.2L849.8,730.1 852.2,731.7 894.6,715.5 894.6,695.5M852.2,711.7L852.2,731.7"/>
<path class="u" d="M796.5,750.2L799.5,752.2 841.9,735.9 838.9,734Z"/>
<path class="c2" d="M796.8,750.4L799.2,752 841.6,735.7 839.2,734.2ZM796.8,750.4L796.8,768.8 799.2,770.3 841.6,754.1 841.6,735.7M799.2,752L799.2,770.3"/>
<path class="u" d="M743.4,770.5L746.4,772.5 788.8,756.2 785.9,754.3Z"/>
<path class="c1" d="M743.7,770.7L746.1,772.3 788.5,756 786.2,754.5ZM743.7,770.7L743.7,771.1 746.1,772.7 788.5,756.5 788.5,756M746.1,772.3L746.1,772.7"/>
<path class="u" d="M690.4,790.8L693.4,792.8 735.8,776.5 732.8,774.6Z"/>
<path class="c0" d="M690.7,791L693.1,792.6 735.5,776.3 733.1,774.8Z"/>
<path class="u" d="M852.5,711.5L855.5,713.5 897.9,697.2 894.9,695.3Z"/>
<path class="c3" d="M852.8,711.7L855.2,713.3 897.6,697 895.2,695.5ZM852.8,711.7L852.8,732.1 855.2,733.6 897.6,717.4 897.6,697M855.2,713.3L855.2,733.6"/>
<path class="u" d="M799.5,752.2L802.4,754.1 844.9,737.9 841.9,735.9Z"/>
<path class="c2" d="M799.8,752.4L802.1,753.9 844.6,737.7 842.2,736.1ZM799.8,752.4L799.8,771.1 802.1,772.7 844.6,756.4 844.6,737.7M802.1,753.9L802.1,772.7"/>
<path class="u" d="M746.4,772.5L749.4,774.4 791.8,758.2 788.8,756.2Z"/>
<path class="c1" d="M746.7,772.7L749.1,774.2 791.5,758 789.1,756.4ZM746.7,772.7L746.7,773.1 749.1,774.6 791.5,758.4 791.5,758M749.1,774.2L749.1,774.6"/>
<path class="u" d="M693.4,792.8L696.4,794.7 738.8,778.5 735.8,776.5Z"/>
<path class="c0" d="M693.7,792.9L696.1,794.5 738.5,778.3 736.1,776.7Z"/>
<path class="u" d="M855.5,712.3L858.5,714.2 900.9,698 897.9,696Z"/>
<path class="c3" d="M855.8,712.5L858.2,714 900.6,697.8 898.2,696.2ZM855.8,712.5L855.8,734 858.2,735.6 900.6,719.4 900.6,697.8M858.2,714L858.2,735.6"/>
<path class="u" d="M802.4,754.1L805.4,756.1 847.9,739.8 844.9,737.9Z"/>
<path class="c2" d="M802.7,754.3L805.1,755.9 847.6,739.7 845.2,738.1ZM802.7,754.3L802.7,774.2 805.1,775.7 847.6,759.5 847.6,739.7M805.1,755.9L805.1,775.7"/>
<path class="u" d="M749.4,774.4L752.4,776.4 794.8,760.1 791.8,758.2Z"/>
<path class="c1" d="M749.7,774.6L752.1,776.2 794.5,759.9 792.1,758.4ZM749.7,774.6L749.7,775 752.1,776.6 794.5,760.4 794.5,759.9M752.1,776.2L752.1,776.6"/>
<path class="u" d="M696.4,794.7L699.4,796.7 741.8,780.4 738.8,778.5Z"/>
<path class="c0" d="M696.7,794.9L699.1,796.5 741.5,780.2 739.1,778.7Z"/>
<path class="u" d="M858.5,714.2L861.4,716.1 903.9,699.9 900.9,697.9Z"/>
<path class="c3" d="M858.8,714.4L861.1,715.9 903.6,699.7 901.2,698.1ZM858.8,714.4L858.8,736 861.1,737.5 903.6,721.3 903.6,699.7M861.1,715.9L861.1,737.5"/>
<path class="u" d="M805.4,756.1L808.4,758 850.8,741.8 847.9,739.8Z"/>
<path class="c2" d="M805.7,756.3L808.1,757.8 850.5,741.6 848.1,740ZM805.7,756.3L805.7,776.2 808.1,777.7 850.5,761.5 850.5,741.6M808.1,757.8L808.1,777.7"/>
<path class="u" d="M752.4,776.4L755.4,778.3 797.8,762.1 794.8,760.1Z"/>
<path class="c1" d="M752.7,776.6L755.1,778.1 797.5,761.9 795.1,760.3ZM752.7,776.6L752.7,777 755.1,778.5 797.5,762.3 797.5,761.9M755.1,778.1L755.1,778.5"/>
<path class="u" d="M699.4,796.7L702.4,798.6 744.8,782.4 741.8,780.4Z"/>
<path class="c0" d="M699.7,796.9L702.1,798.4 744.5,782.2 742.1,780.6Z"/>
<path class="u" d="M861.4,715.9L864.4,717.9 906.9,701.6 903.9,699.7Z"/>
<path class="c3" d="M861.7,716.1L864.1,717.7 906.6,701.4 904.2,699.9ZM861.7,716.1L861.7,737.9 864.1,739.5 906.6,723.3 906.6,701.4M864.1,717.7L864.1,739.5"/>
<path class="u" d="M808.4,758L811.4,760 853.8,743.8 850.8,741.8Z"/>
<path class="c2" d="M808.7,758.2L811.1,759.8 853.5,743.6 851.1,742ZM808.7,758.2L808.7,778.3 811.1,779.9 853.5,763.6 853.5,743.6M811.1,759.8L811.1,779.9"/>
<path class="u" d="M755.4,778.3L758.4,780.3 800.8,764 797.8,762.1Z"/>
<path class="c1" d="M755.7,778.5L758.1,780.1 800.5,763.8 798.1,762.3ZM755.7,778.5L755.7,778.9 758.1,780.5 800.5,764.2 800.5,763.8M758.1,780.1L758.1,780.5"/>
<path class="u" d="M702.4,798.6L705.3,800.6 747.8,784.3 744.8,782.4Z"/>
<path class="c0" d="M702.7,798.8L705,800.4 747.5,784.1 745.1,782.6Z"/>
<path class="u" d="M864.4,717L867.4,719 909.8,702.7 906.9,700.8Z"/>
<path class="c3" d="M864.7,717.2L867.1,718.8 909.5,702.6 907.2,701ZM864.7,717.2L864.7,739.9 867.1,741.5 909.5,725.2 909.5,702.6M867.1,718.8L867.1,741.5"/>
<path class="u" d="M811.4,760L814.4,761.9 856.8,745.7 853.8,743.8Z"/>
<path class="c2" d="M811.7,760.2L814.1,761.7 856.5,745.5 854.1,743.9ZM811.7,760.2L811.7,781 814.1,782.6 856.5,766.4 856.5,745.5M814.1,761.7L814.1,782.6"/>
<path class="u" d="M758.4,780.3L761.4,782.2 803.8,766 800.8,764Z"/>
<path class="c1" d="M758.7,780.5L761.1,782 803.5,765.8 801.1,764.2ZM758.7,780.5L758.7,780.8 761.1,782.4 803.5,766.2 803.5,765.8M761.1,782L761.1,782.4"/>
<path class="u" d="M705.3,800.6L708.3,802.5 750.8,786.3 747.8,784.3Z"/>
<path class="c0" d="M705.6,800.8L708,802.3 750.5,786.1 748.1,784.5Z"/>
<path class="u" d="M867.4,719.3L870.4,721.2 912.8,705 909.8,703Z"/>
<path class="c3" d="M867.7,719.5L870.1,721 912.5,704.8 910.1,703.2ZM867.7,719.5L867.7,741.8 870.1,743.4 912.5,727.2 912.5,704.8M870.1,721L870.1,743.4"/>
<path class="u" d="M814.4,761.9L817.4,763.9 859.8,747.7 856.8,745.7Z"/>
<path class="c2" d="M814.7,762.1L817.1,763.7 859.5,747.5 857.1,745.9ZM814.7,762.1L814.7,782.7 817.1,784.3 859.5,768.1 859.5,747.5M817.1,763.7L817.1,784.3"/>
<path class="u" d="M761.4,782.2L764.3,784.2 806.8,767.9 803.8,766Z"/>
<path class="c1" d="M761.7,782.4L764,784 806.5,767.8 804.1,766.2ZM761.7,782.4L761.7,782.8 764,784.3 806.5,768.1 806.5,767.8M764,784L764,784.3"/>
<path class="u" d="M708.3,802.5L711.3,804.5 753.7,788.2 750.8,786.3Z"/>
<path class="c0" d="M708.6,802.7L711,804.3 753.4,788 751,786.5Z"/>
<path class="u" d="M870.4,721.7L873.4,723.6 915.8,707.4 912.8,705.5Z"/>
<path class="c3" d="M870.7,721.9L873.1,723.4 915.5,707.2 913.1,705.7ZM870.7,721.9L870.7,743.8 873.1,745.4 915.5,729.1 915.5,707.2M873.1,723.4L873.1,745.4"/>
<path class="u" d="M817.4,763.9L820.4,765.8 862.8,749.6 859.8,747.7Z"/>
<path class="c2" d="M817.7,764.1L820.1,765.6 862.5,749.4 860.1,747.9ZM817.7,764.1L817.7,784.2 820.1,785.8 862.5,769.6 862.5,749.4M820.1,765.6L820.1,785.8"/>
<path class="u" d="M764.3,784.2L767.3,786.1 809.8,769.9 806.8,767.9Z"/>
<path class="c1" d="M764.6,784.4L767,785.9 809.5,769.7 807.1,768.1ZM764.6,784.4L764.6,784.7 767,786.3 809.5,770 809.5,769.7M767,785.9L767,786.3"/>
<path class="u" d="M711.3,804.5L714.3,806.4 756.7,790.2 753.7,788.2Z"/>
<path class="c0" d="M711.6,804.7L714,806.2 756.4,790 754,788.4Z"/>
<path class="u" d="M873.4,723.1L876.4,725.1 918.8,708.8 915.8,706.9Z"/>
<path class="c3" d="M873.7,723.3L876.1,724.9 918.5,708.6 916.1,707.1ZM873.7,723.3L873.7,745.8 876.1,747.3 918.5,731.1 918.5,708.6M876.1,724.9L876.1,747.3"/>
<path class="u" d="M820.4,765.8L823.3,767.8 865.8,751.6 862.8,749.6Z"/>
<path class="c2" d="M820.7,766L823,767.6 865.5,751.4 863.1,749.8ZM820.7,766L820.7,786.7 823,788.3 865.5,772 865.5,751.4M823,767.6L823,788.3"/>
<path class="u" d="M767.3,786.1L770.3,788.1 812.7,771.9 809.8,769.9Z"/>
<path class="c1" d="M767.6,786.3L770,787.9 812.4,771.7 810.1,770.1ZM767.6,786.3L767.6,786.6 770,788.2 812.4,772 812.4,771.7M770,787.9L770,788.2"/>
<path class="u" d="M714.3,806.4L717.3,808.4 759.7,792.1 756.7,790.2Z"/>
<path class="c0" d="M714.6,806.6L717,808.2 759.4,792 757,790.4Z"/>
<path class="u" d="M876.4,724.9L879.4,726.8 921.8,710.6 918.8,708.7Z"/>
<path class="c3" d="M876.7,725.1L879.1,726.6 921.5,710.4 919.1,708.9ZM876.7,725.1L876.7,747.7 879.1,749.3 921.5,733 921.5,710.4M879.1,726.6L879.1,749.3"/>
<path class="u" d="M823.3,767.8L826.3,769.8 868.8,753.5 865.8,751.6Z"/>
<path class="c2" d="M823.6,768L826,769.6 868.5,753.3 866.1,751.8ZM823.6,768L823.6,788.8 826,790.4 868.5,774.1 868.5,753.3M826,769.6L826,790.4"/>
<path class="u" d="M770.3,788.1L773.3,790 815.7,773.8 812.7,771.9Z"/>
<path class="c1" d="M770.6,788.3L773,789.8 815.4,773.6 813,772.1ZM770.6,788.3L770.6,788.6 773,790.2 815.4,773.9 815.4,773.6M773,789.8L773,790.2"/>
<path class="u" d="M717.3,808.4L720.3,810.3 762.7,794.1 759.7,792.1Z"/>
<path class="c0" d="M717.6,808.6L720,810.1 762.4,793.9 760,792.3Z"/>
<path class="u" d="M879.4,725.9L882.3,727.8 924.8,711.6 921.8,709.7Z"/>
<path class="c3" d="M879.7,726.1L882,727.6 924.5,711.4 922.1,709.9ZM879.7,726.1L879.7,749.7 882,751.2 924.5,735 924.5,711.4M882,727.6L882,751.2"/>
<path class="u" d="M826.3,769.8L829.3,771.7 871.7,755.5 868.8,753.5Z"/>
<path class="c2" d="M826.6,769.9L829,771.5 871.4,755.3 869.1,753.7ZM826.6,769.9L826.6,791.6 829,793.2 871.4,777 871.4,755.3M829,771.5L829,793.2"/>
<path class="u" d="M773.3,790L776.3,792 818.7,775.8 815.7,773.8Z"/>
<path class="c1" d="M773.6,790.2L776,791.8 818.4,775.6 816,774ZM773.6,790.2L773.6,790.5 776,792.1 818.4,775.9 818.4,775.6M776,791.8L776,792.1"/>
<path class="u" d="M720.3,810.3L723.3,812.3 765.7,796.1 762.7,794.1Z"/>
<path class="c0" d="M720.6,810.5L723,812.1 765.4,795.9 763,794.3Z"/>
<path class="u" d="M882.3,728.7L885.3,730.7 927.8,714.4 924.8,712.5Z"/>
<path class="c3" d="M882.6,728.9L885,730.5 927.5,714.2 925.1,712.7ZM882.6,728.9L882.6,751.6 885,753.2 927.5,736.9 927.5,714.2M885,730.5L885,753.2"/>
<path class="u" d="M829.3,771.7L832.3,773.7 874.7,757.4 871.7,755.5Z"/>
<path class="c2" d="M829.6,771.9L832,773.5 874.4,757.2 872,755.7ZM829.6,771.9L829.6,792.8 832,794.3 874.4,778.1 874.4,757.2M832,773.5L832,794.3"/>
<path class="u" d="M776.3,792L779.3,793.9 821.7,777.7 818.7,775.8Z"/>
<path class="c1" d="M776.6,792.2L779,793.8 821.4,777.5 819,776ZM776.6,792.2L776.6,792.5 779,794 821.4,777.8 821.4,777.5M779,793.8L779,794"/>
<path class="u" d="M723.3,812.3L726.2,814.2 768.7,798 765.7,796.1Z"/>
<path class="c0" d="M723.6,812.5L725.9,814 768.4,797.8 766,796.2Z"/>
<path class="u" d="M885.3,731.2L888.3,733.1 930.7,716.9 927.8,714.9Z"/>
<path class="c3" d="M885.6,731.4L888,732.9 930.4,716.7 928.1,715.1ZM885.6,731.4L885.6,753.6 888,755.1 930.4,738.9 930.4,716.7M888,732.9L888,755.1"/>
<path class="u" d="M832.3,773.7L835.3,775.6 877.7,759.4 874.7,757.4Z"/>
<path class="c2" d="M832.6,773.9L835,775.4 877.4,759.2 875,757.6ZM832.6,773.9L832.6,794.3 835,795.8 877.4,779.6 877.4,759.2M835,775.4L835,795.8"/>
<path class="u" d="M779.3,793.9L782.3,795.9 824.7,779.7 821.7,777.7Z"/>
<path class="c1" d="M779.6,794.1L782,795.7 824.4,779.5 822,777.9ZM779.6,794.1L779.6,794.4 782,796 824.4,779.7 824.4,779.5M782,795.7L782,796"/>
<path class="u" d="M726.2,814.2L729.2,816.2 771.7,800 768.7,798Z"/>
<path class="c0" d="M726.5,814.4L728.9,816 771.4,799.8 769,798.2Z"/>
<path class="u" d="M888.3,731.3L891.3,733.2 933.7,717 930.7,715Z"/>
<path class="c3" d="M888.6,731.5L891,733 933.4,716.8 931,715.2ZM888.6,731.5L888.6,755.5 891,757.1 933.4,740.8 933.4,716.8M891,733L891,757.1"/>
<path class="u" d="M835.3,775.6L838.3,777.6 880.7,761.3 877.7,759.4Z"/>
<path class="c2" d="M835.6,775.8L838,777.4 880.4,761.1 878,759.6ZM835.6,775.8L835.6,797.9 838,799.5 880.4,783.3 880.4,761.1M838,777.4L838,799.5"/>
<path class="u" d="M782.3,795.9L785.2,797.9 827.7,781.6 824.7,779.7Z"/>
<path class="c1" d="M782.6,796.1L784.9,797.7 827.4,781.4 825,779.9ZM782.6,796.1L782.6,796.3 784.9,797.9 827.4,781.7 827.4,781.4M784.9,797.7L784.9,797.9"/>
<path class="u" d="M729.2,816.2L732.2,818.1 774.6,801.9 771.7,800Z"/>
<path class="c0" d="M729.5,816.4L731.9,818 774.3,801.7 772,800.2Z"/>
<path class="u" d="M891.3,734.3L894.3,736.3 936.7,720 933.7,718.1Z"/>
<path class="c3" d="M891.6,734.5L894,736.1 936.4,719.8 934,718.3ZM891.6,734.5L891.6,757.5 894,759 936.4,742.8 936.4,719.8M894,736.1L894,759"/>
<path class="u" d="M838.3,777.6L841.3,779.5 883.7,763.3 880.7,761.3Z"/>
<path class="c2" d="M838.6,777.8L841,779.3 883.4,763.1 881,761.5ZM838.6,777.8L838.6,798.9 841,800.5 883.4,784.2 883.4,763.1M841,779.3L841,800.5"/>
<path class="u" d="M785.2,797.9L788.2,799.8 830.7,783.6 827.7,781.6Z"/>
<path class="c1" d="M785.5,798.1L787.9,799.6 830.4,783.4 828,781.8ZM785.5,798.1L785.5,798.3 787.9,799.8 830.4,783.6 830.4,783.4M787.9,799.6L787.9,799.8"/>
<path class="u" d="M732.2,818.1L735.2,820.1 777.6,803.9 774.6,801.9Z"/>
<path class="c0" d="M732.5,818.3L734.9,819.9 777.3,803.7 774.9,802.1Z"/>
<path class="u" d="M894.3,736.6L897.3,738.6 939.7,722.4 936.7,720.4Z"/>
<path class="c3" d="M894.6,736.8L897,738.4 939.4,722.2 937,720.6ZM894.6,736.8L894.6,759.4 897,761 939.4,744.8 939.4,722.2M897,738.4L897,761"/>
<path class="u" d="M841.3,779.5L844.3,781.5 886.7,765.2 883.7,763.3Z"/>
<path class="c2" d="M841.6,779.7L844,781.3 886.4,765 884,763.5ZM841.6,779.7L841.6,800.5 844,802.1 886.4,785.8 886.4,765M844,781.3L844,802.1"/>
<path class="u" d="M788.2,799.8L791.2,801.8 833.6,785.5 830.7,783.6Z"/>
<path class="c1" d="M788.5,800L790.9,801.6 833.3,785.3 831,783.8ZM788.5,800L788.5,800.2 790.9,801.8 833.3,785.5 833.3,785.3M790.9,801.6L790.9,801.8"/>
<path class="u" d="M735.2,820.1L738.2,822.1 780.6,805.8 777.6,803.9Z"/>
<path class="c0" d="M735.5,820.3L737.9,821.9 780.3,805.6 777.9,804.1Z"/>
<path class="u" d="M897.3,736.4L900.3,738.3 942.7,722.1 939.7,720.1Z"/>
<path class="c3" d="M897.6,736.6L900,738.1 942.4,721.9 940,720.3ZM897.6,736.6L897.6,761.4 900,762.9 942.4,746.7 942.4,721.9M900,738.1L900,762.9"/>
<path class="u" d="M844.3,781.5L847.2,783.4 889.7,767.2 886.7,765.2Z"/>
<path class="c2" d="M844.5,781.7L846.9,783.2 889.4,767 887,765.4ZM844.5,781.7L844.5,804.5 846.9,806 889.4,789.8 889.4,767M846.9,783.2L846.9,806"/>
<path class="u" d="M791.2,801.8L794.2,803.7 836.6,787.5 833.6,785.5Z"/>
<path class="c1" d="M791.5,802L793.9,803.5 836.3,787.3 833.9,785.7ZM791.5,802L791.5,802.2 793.9,803.7 836.3,787.5 836.3,787.3M793.9,803.5L793.9,803.7"/>
<path class="u" d="M738.2,822.1L741.2,824 783.6,807.8 780.6,805.8Z"/>
<path class="c0" d="M738.5,822.2L740.9,823.8 783.3,807.6 780.9,806Z"/>
<path class="u" d="M900.3,739.1L903.3,741.1 945.7,724.8 942.7,722.9Z"/>
<path class="c3" d="M900.6,739.3L903,740.9 945.4,724.6 943,723.1ZM900.6,739.3L900.6,763.3 903,764.9 945.4,748.7 945.4,724.6M903,740.9L903,764.9"/>
<path class="u" d="M847.2,783.4L850.2,785.4 892.6,769.1 889.7,767.2Z"/>
<path class="c2" d="M847.5,783.6L849.9,785.2 892.3,769 890,767.4ZM847.5,783.6L847.5,805.7 849.9,807.3 892.3,791 892.3,769M849.9,785.2L849.9,807.3"/>
<path class="u" d="M794.2,803.7L797.2,805.7 839.6,789.4 836.6,787.5Z"/>
<path class="c1" d="M794.5,803.9L796.9,805.5 839.3,789.2 836.9,787.7ZM794.5,803.9L794.5,804.1 796.9,805.7 839.3,789.4 839.3,789.2M796.9,805.5L796.9,805.7"/>
<path class="u" d="M741.2,824L744.2,826 786.6,809.7 783.6,807.8Z"/>
<path class="c0" d="M741.5,824.2L743.9,825.8 786.3,809.5 783.9,808Z"/>
<path class="u" d="M903.3,739.8L906.2,741.8 948.7,725.6 945.7,723.6Z"/>
<path class="c3" d="M903.6,740L905.9,741.6 948.4,725.4 946,723.8ZM903.6,740L903.6,765.3 905.9,766.8 948.4,750.6 948.4,725.4M905.9,741.6L905.9,766.8"/>
<path class="u" d="M850.2,785.4L853.2,787.3 895.6,771.1 892.6,769.1Z"/>
<path class="c2" d="M850.5,785.6L852.9,787.1 895.3,770.9 892.9,769.3ZM850.5,785.6L850.5,808.8 852.9,810.4 895.3,794.1 895.3,770.9M852.9,787.1L852.9,810.4"/>
<path class="u" d="M797.2,805.7L800.2,807.6 842.6,791.4 839.6,789.4Z"/>
<path class="c1" d="M797.5,805.9L799.9,807.4 842.3,791.2 839.9,789.6ZM797.5,805.9L797.5,806 799.9,807.6 842.3,791.4 842.3,791.2M799.9,807.4L799.9,807.6"/>
<path class="u" d="M744.2,826L747.1,827.9 789.6,811.7 786.6,809.7Z"/>
<path class="c0" d="M744.5,826.2L746.9,827.7 789.3,811.5 786.9,809.9Z"/>
<path class="u" d="M906.2,742.5L909.2,744.5 951.6,728.3 948.7,726.3Z"/>
<path class="c3" d="M906.5,742.7L908.9,744.3 951.4,728.1 949,726.5ZM906.5,742.7L906.5,767.2 908.9,768.8 951.4,752.6 951.4,728.1M908.9,744.3L908.9,768.8"/>
<path class="u" d="M853.2,787.3L856.2,789.3 898.6,773.1 895.6,771.1Z"/>
<path class="c2" d="M853.5,787.5L855.9,789.1 898.3,772.9 895.9,771.3ZM853.5,787.5L853.5,810.1 855.9,811.6 898.3,795.4 898.3,772.9M855.9,789.1L855.9,811.6"/>
<path class="u" d="M800.2,807.6L803.2,809.6 845.6,793.3 842.6,791.4Z"/>
<path class="c1" d="M800.5,807.8L802.9,809.4 845.3,793.1 842.9,791.6ZM800.5,807.8L800.5,808 802.9,809.5 845.3,793.3 845.3,793.1M802.9,809.4L802.9,809.5"/>
<path class="u" d="M747.1,827.9L750.1,829.9 792.6,813.6 789.6,811.7Z"/>
<path class="c0" d="M747.4,828.1L749.8,829.7 792.3,813.4 789.9,811.9Z"/>
<path class="u" d="M909.2,744.8L912.2,746.8 954.6,730.6 951.6,728.6Z"/>
<path class="c3" d="M909.5,745L911.9,746.6 954.3,730.4 951.9,728.8ZM909.5,745L909.5,769.2 911.9,770.8 954.3,754.5 954.3,730.4M911.9,746.6L911.9,770.8"/>
<path class="u" d="M856.2,789.3L859.2,791.2 901.6,775 898.6,773.1Z"/>
<path class="c2" d="M856.5,789.5L858.9,791 901.3,774.8 898.9,773.2ZM856.5,789.5L856.5,811.7 858.9,813.3 901.3,797 901.3,774.8M858.9,791L858.9,813.3"/>
<path class="u" d="M803.2,809.6L806.2,811.5 848.6,795.3 845.6,793.3Z"/>
<path class="c1" d="M803.5,809.8L805.9,811.3 848.3,795.1 845.9,793.5ZM803.5,809.8L803.5,809.9 805.9,811.5 848.3,795.2 848.3,795.1M805.9,811.3L805.9,811.5"/>
<path class="u" d="M750.1,829.9L753.1,831.8 795.5,815.6 792.6,813.6Z"/>
<path class="c0" d="M750.4,830.1L752.8,831.6 795.2,815.4 792.9,813.8Z"/>
<path class="u" d="M912.2,746.7L915.2,748.7 957.6,732.5 954.6,730.5Z"/>
<path class="c3" d="M912.5,746.9L914.9,748.5 957.3,732.3 954.9,730.7ZM912.5,746.9L912.5,771.1 914.9,772.7 957.3,756.5 957.3,732.3M914.9,748.5L914.9,772.7"/>
<path class="u" d="M859.2,791.2L862.2,793.2 904.6,777 901.6,775Z"/>
<path class="c2" d="M859.5,791.4L861.9,793 904.3,776.8 901.9,775.2ZM859.5,791.4L859.5,813.7 861.9,815.3 904.3,799 904.3,776.8M861.9,793L861.9,815.3"/>
<path class="u" d="M806.2,811.5L809.1,813.5 851.6,797.3 848.6,795.3Z"/>
<path class="c1" d="M806.5,811.7L808.8,813.3 851.3,797.1 848.9,795.5ZM806.5,811.7L806.5,811.8 808.8,813.4 851.3,797.2 851.3,797.1M808.8,813.3L808.8,813.4"/>
<path class="u" d="M753.1,831.8L756.1,833.8 798.5,817.5 795.5,815.6Z"/>
<path class="c0" d="M753.4,832L755.8,833.6 798.2,817.3 795.8,815.8Z"/>
<path class="u" d="M915.2,747.9L918.2,749.9 960.6,733.6 957.6,731.7Z"/>
<path class="c3" d="M915.5,748.1L917.9,749.7 960.3,733.4 957.9,731.9ZM915.5,748.1L915.5,773.1 917.9,774.7 960.3,758.4 960.3,733.4M917.9,749.7L917.9,774.7"/>
<path class="u" d="M862.2,793.2L865.2,795.1 907.6,778.9 904.6,777Z"/>
<path class="c2" d="M862.5,793.4L864.9,795 907.3,778.7 904.9,777.2ZM862.5,793.4L862.5,816.4 864.9,817.9 907.3,801.7 907.3,778.7M864.9,795L864.9,817.9"/>
<path class="u" d="M809.1,813.5L812.1,815.4 854.5,799.2 851.6,797.3Z"/>
<path class="c1" d="M809.4,813.7L811.8,815.2 854.3,799 851.9,797.4ZM809.4,813.7L809.4,813.8 811.8,815.3 854.3,799.1 854.3,799M811.8,815.2L811.8,815.3"/>
<path class="u" d="M756.1,833.8L759.1,835.7 801.5,819.5 798.5,817.5Z"/>
<path class="c0" d="M756.4,834L758.8,835.5 801.2,819.3 798.8,817.7Z"/>
<path class="u" d="M918.2,749.5L921.2,751.4 963.6,735.2 960.6,733.3Z"/>
<path class="c3" d="M918.5,749.7L920.9,751.3 963.3,735 960.9,733.5ZM918.5,749.7L918.5,775.1 920.9,776.6 963.3,760.4 963.3,735M920.9,751.3L920.9,776.6"/>
<path class="u" d="M865.2,795.1L868.1,797.1 910.6,780.9 907.6,778.9Z"/>
<path class="c2" d="M865.5,795.3L867.8,796.9 910.3,780.7 907.9,779.1ZM865.5,795.3L865.5,818.7 867.8,820.2 910.3,804 910.3,780.7M867.8,796.9L867.8,820.2"/>
<path class="u" d="M812.1,815.4L815.1,817.4 857.5,801.2 854.5,799.2Z"/>
<path class="c1" d="M812.4,815.6L814.8,817.2 857.2,801 854.8,799.4ZM812.4,815.6L812.4,815.7 814.8,817.3 857.2,801.1 857.2,801M814.8,817.2L814.8,817.3"/>
<path class="u" d="M759.1,835.7L762.1,837.7 804.5,821.4 801.5,819.5Z"/>
<path class="c0" d="M759.4,835.9L761.8,837.5 804.2,821.3 801.8,819.7Z"/>
<path class="u" d="M921.2,751.8L924.2,753.7 966.6,737.5 963.6,735.5Z"/>
<path class="c3" d="M921.5,752L923.9,753.5 966.3,737.3 963.9,735.7ZM921.5,752L921.5,777 923.9,778.6 966.3,762.3 966.3,737.3M923.9,753.5L923.9,778.6"/>
<path class="u" d="M868.1,797.1L871.1,799.1 913.6,782.8 910.6,780.9Z"/>
<path class="c2" d="M868.4,797.3L870.8,798.9 913.3,782.6 910.9,781.1ZM868.4,797.3L868.4,820.3 870.8,821.9 913.3,805.7 913.3,782.6M870.8,798.9L870.8,821.9"/>
<path class="u" d="M815.1,817.4L818.1,819.3 860.5,803.1 857.5,801.2Z"/>
<path class="c1" d="M815.4,817.6L817.8,819.1 860.2,802.9 857.8,801.4ZM815.4,817.6L815.4,817.7 817.8,819.2 860.2,803 860.2,802.9M817.8,819.1L817.8,819.2"/>
<path class="u" d="M762.1,837.7L765.1,839.6 807.5,823.4 804.5,821.4Z"/>
<path class="c0" d="M762.4,837.9L764.8,839.4 807.2,823.2 804.8,821.6Z"/>
<path class="u" d="M924.2,753.1L927.1,755.1 969.6,738.8 966.6,736.9Z"/>
<path class="c3" d="M924.5,753.3L926.8,754.9 969.3,738.6 966.9,737.1ZM924.5,753.3L924.5,779 926.8,780.5 969.3,764.3 969.3,738.6M926.8,754.9L926.8,780.5"/>
<path class="u" d="M871.1,799.1L874.1,801 916.5,784.8 913.6,782.8Z"/>
<path class="c2" d="M871.4,799.2L873.8,800.8 916.2,784.6 913.9,783ZM871.4,799.2L871.4,822.9 873.8,824.4 916.2,808.2 916.2,784.6M873.8,800.8L873.8,824.4"/>
<path class="u" d="M818.1,819.3L821.1,821.3 863.5,805.1 860.5,803.1Z"/>
<path class="c1" d="M818.4,819.5L820.8,821.1 863.2,804.9 860.8,803.3ZM818.4,819.5L818.4,819.6 820.8,821.2 863.2,804.9 863.2,804.9M820.8,821.1L820.8,821.2"/>
<path class="u" d="M765.1,839.6L768.1,841.6 810.5,825.4 807.5,823.4Z"/>
<path class="c0" d="M765.4,839.8L767.8,841.4 810.2,825.2 807.8,823.6Z"/>
<path class="u" d="M927.1,756L930.1,757.9 972.6,741.7 969.6,739.8Z"/>
<path class="c3" d="M927.4,756.2L929.8,757.8 972.3,741.5 969.9,740ZM927.4,756.2L927.4,780.9 929.8,782.5 972.3,766.2 972.3,741.5M929.8,757.8L929.8,782.5"/>
<path class="u" d="M874.1,801L877.1,803 919.5,786.7 916.5,784.8Z"/>
<path class="c2" d="M874.4,801.2L876.8,802.8 919.2,786.5 916.8,785ZM874.4,801.2L874.4,823.9 876.8,825.5 919.2,809.3 919.2,786.5M876.8,802.8L876.8,825.5"/>
<path class="u" d="M821.1,821.3L824.1,823.2 866.5,807 863.5,805.1Z"/>
<path class="c1" d="M821.4,821.5L823.8,823.1 866.2,806.8 863.8,805.3ZM821.4,821.5L821.4,821.5 823.8,823.1 866.2,806.9 866.2,806.8M823.8,823.1L823.8,823.1"/>
<path class="u" d="M768.1,841.6L771,843.5 813.5,827.3 810.5,825.4Z"/>
<path class="c0" d="M768.4,841.8L770.7,843.3 813.2,827.1 810.8,825.5Z"/>
<path class="u" d="M930.1,756.4L933.1,758.4 975.5,742.2 972.6,740.2Z"/>
<path class="c3" d="M930.4,756.6L932.8,758.2 975.2,742 972.9,740.4ZM930.4,756.6L930.4,782.9 932.8,784.4 975.2,768.2 975.2,742M932.8,758.2L932.8,784.4"/>
<path class="u" d="M877.1,803L880.1,804.9 922.5,788.7 919.5,786.7Z"/>
<path class="c2" d="M877.4,803.2L879.8,804.7 922.2,788.5 919.8,786.9ZM877.4,803.2L877.4,827.3 879.8,828.9 922.2,812.6 922.2,788.5M879.8,804.7L879.8,828.9"/>
<path class="u" d="M824.1,823.2L827.1,825.2 869.5,809 866.5,807Z"/>
<path class="c1" d="M824.4,823.4L826.8,825 869.2,808.8 866.8,807.2ZM824.4,823.4L824.4,823.5 826.8,825 869.2,808.8 869.2,808.8M826.8,825L826.8,825"/>
<path class="u" d="M771,843.5L774,845.5 816.5,829.3 813.5,827.3Z"/>
<path class="c0" d="M771.3,843.7L773.7,845.3 816.2,829.1 813.8,827.5Z"/>
<path class="u" d="M933.1,759.8L936.1,761.8 978.5,745.5 975.5,743.6Z"/>
<path class="c3" d="M933.4,760L935.8,761.6 978.2,745.3 975.8,743.8ZM933.4,760L933.4,784.8 935.8,786.4 978.2,770.1 978.2,745.3M935.8,761.6L935.8,786.4"/>
<path class="u" d="M880.1,804.9L883.1,806.9 925.5,790.6 922.5,788.7Z"/>
<path class="c2" d="M880.4,805.1L882.8,806.7 925.2,790.4 922.8,788.9ZM880.4,805.1L880.4,827.9 882.8,829.5 925.2,813.3 925.2,790.4M882.8,806.7L882.8,829.5"/>
<path class="u" d="M827.1,825.2L830,827.2 872.5,810.9 869.5,809Z"/>
<path class="c1" d="M827.4,825.4L829.7,827 872.2,810.7 869.8,809.2ZM827.4,825.4L827.4,825.4 829.7,827 872.2,810.7 872.2,810.7M829.7,827L829.7,827"/>
<path class="u" d="M774,845.5L777,847.4 819.4,831.2 816.5,829.3Z"/>
<path class="c0" d="M774.3,845.7L776.7,847.3 819.1,831 816.7,829.5Z"/>
<path class="u" d="M936.1,760L938.8,761.8 981.2,745.6 978.5,743.8Z"/>
<path class="c3" d="M936.4,760.2L938.8,761.8 981.2,745.6 978.8,744ZM936.4,760.2L936.4,786.8 938.8,788.3 981.2,772.1 981.2,745.6M938.8,761.8L938.8,788.3"/>
<path class="u" d="M883.1,806.9L885.8,808.6 928.2,792.4 925.5,790.6Z"/>
<path class="c2" d="M883.4,807.1L885.8,808.6 928.2,792.4 925.8,790.8ZM883.4,807.1L883.4,831.5 885.8,833 928.2,816.8 928.2,792.4M885.8,808.6L885.8,833"/>
<path class="u" d="M830,827.2L832.7,828.9 875.2,812.7 872.5,810.9Z"/>
<path class="c1" d="M830.3,827.4L832.7,828.9 875.2,812.7 872.8,811.1Z"/>
<path class="u" d="M777,847.4L779.7,849.2 822.1,833 819.4,831.2Z"/>
<path class="c0" d="M777.3,847.6L779.7,849.2 822.1,833 819.7,831.4Z"/>
<path class="a" d="M626.2,858.2L626.2,639.4M626.2,858.2L780,958.8M780,958.8L981.5,881.7M626.2,858.2L621.2,854.9M626.2,748.8L621.2,745.5M626.2,639.4L621.2,636.1M626.2,858.2L620.6,860.3M775.5,955.9L769.9,958M801.2,950.7L806.2,954M854.2,930.4L859.3,933.7M907.3,910.1L912.3,913.4M960.3,889.8L965.3,893.1"/>
<text class="h" x="192.5" y="39.8" text-anchor="middle">a)</text>
<text class="t" x="274.4" y="431.3" text-anchor="middle">0</text>
<text class="t" x="330.1" y="412.3" text-anchor="middle">1</text>
<text class="t" x="385.8" y="393.3" text-anchor="middle">2</text>
<text class="t" x="441.5" y="374.3" text-anchor="middle">3</text>
<text class="t" x="86" y="323.8" text-anchor="end">0</text>
<text class="t" x="217" y="432.2" text-anchor="end">50</text>
<text class="t" x="87.7" y="293.9" text-anchor="end">0</text>
<text class="t" x="86.7" y="187.3" text-anchor="end">0.5</text>
<text class="t" x="86.7" y="81.1" text-anchor="end">1</text>
<text class="l" x="32.5" y="177.5" text-anchor="middle" transform="rotate(-90 32.5 177.5)">Probability</text>
<text class="l" x="105.5" y="404.3" text-anchor="middle">n photon</text>
<text class="l" x="384.2" y="443.5" text-anchor="middle">k click</text>
<text class="h" x="712.2" y="39" text-anchor="middle">b)</text>
<text class="t" x="819" y="433.8" text-anchor="middle">0</text>
<text class="t" x="872" y="413.5" text-anchor="middle">1</text>
<text class="t" x="925.1" y="393.2" text-anchor="middle">2</text>
<text class="t" x="978.1" y="372.9" text-anchor="middle">3</text>
<text class="t" x="612.8" y="337.9" text-anchor="end">0</text>
<text class="t" x="762.1" y="435.6" text-anchor="end">50</text>
<text class="t" x="613.5" y="308.2" text-anchor="end">-0.05</text>
<text class="t" x="614.5" y="200.4" text-anchor="end">0</text>
<text class="t" x="613.5" y="91.4" text-anchor="end">0.05</text>
<text class="l" x="564.1" y="190.7" text-anchor="middle" transform="rotate(-90 564.1 190.7)">Probability</text>
<text class="l" x="622.9" y="393.8" text-anchor="middle">n photon</text>
<text class="l" x="923" y="455.2" text-anchor="middle">k click</text>
<text class="h" x="192.3" y="568.5" text-anchor="middle">c)</text>
<text class="t" x="288.1" y="980.6" text-anchor="middle">0</text>
<text class="t" x="341" y="960.7" text-anchor="middle">1</text>
<text class="t" x="393.9" y="940.8" text-anchor="middle">3</text>
<text class="t" x="446.8" y="920.9" text-anchor="middle">3</text>
<text class="t" x="112.4" y="904.5" text-anchor="end">1</text>
<text class="t" x="143.2" y="924.7" text-anchor="end">2</text>
<text class="t" x="174.1" y="944.8" text-anchor="end">3</text>
<text class="t" x="204.9" y="965" text-anchor="end">4</text>
<text class="t" x="82.3" y="856.8" text-anchor="end">-0.2</text>
<text class="t" x="83.3" y="747.6" text-anchor="end">0</text>
<text class="t" x="82.3" y="638.5" text-anchor="end">0.2</text>
<text class="l" x="29.8" y="735.2" text-anchor="middle" transform="rotate(-90 29.8 735.2)">Probability</text>
<text class="l" x="103.1" y="979.7" text-anchor="middle">n photon</text>
<text class="l" x="395.4" y="985" text-anchor="middle">k click</text>
<text class="h" x="710.5" y="567.5" text-anchor="middle">d)</text>
<text class="t" x="819" y="984.3" text-anchor="middle">0</text>
<text class="t" x="872" y="964" text-anchor="middle">1</text>
<text class="t" x="925.1" y="943.7" text-anchor="middle">2</text>
<text class="t" x="978.1" y="923.4" text-anchor="middle">3</text>
<text class="t" x="612.8" y="888.4" text-anchor="end">0</text>
<text class="t" x="762.1" y="986.1" text-anchor="end">50</text>
<text class="t" x="613.5" y="858.8" text-anchor="end">-0.2</text>
<text class="t" x="614.5" y="750.9" text-anchor="end">0</text>
<text class="t" x="613.5" y="641.9" text-anchor="end">0.2</text>
<text class="l" x="567.6" y="748.2" text-anchor="middle" transform="rotate(-90 567.6 748.2)">Probability</text>
<text class="l" x="641.1" y="959.2" text-anchor="middle">n photon</text>
<text class="l" x="922.6" y="1005.5" text-anchor="middle">k click</text>
</svg>
</body></html>
